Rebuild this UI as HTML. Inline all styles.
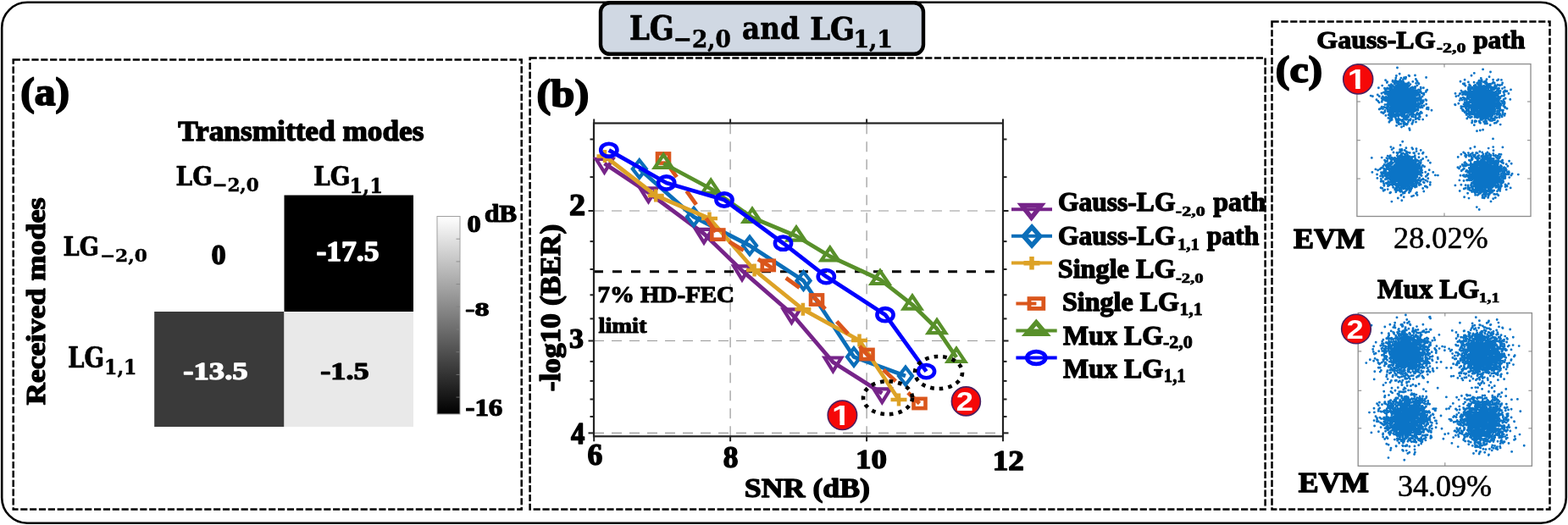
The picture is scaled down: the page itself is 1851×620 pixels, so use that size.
<!DOCTYPE html>
<html><head><meta charset="utf-8"><style>html,body{margin:0;padding:0;background:#fff;}svg{display:block;}</style></head>
<body><svg width="1851" height="620" viewBox="0 0 1851 620">
<rect width="1851" height="620" fill="#fff"/>
<rect x="2.2" y="2.8" width="1846.6" height="614.9" rx="30" ry="30" fill="none" stroke="#000" stroke-width="2.6"/>
<rect x="15.7" y="70.6" width="600" height="531" fill="none" stroke="#000" stroke-width="2.5" stroke-dasharray="8.2 2.65"/>
<rect x="625.6" y="68.6" width="868" height="533" fill="none" stroke="#000" stroke-width="2.5" stroke-dasharray="8.2 2.65"/>
<rect x="1501.5" y="25.6" width="328" height="576" fill="none" stroke="#000" stroke-width="2.5" stroke-dasharray="8.2 2.65"/>
<rect x="709" y="3.3" width="381" height="60.5" rx="11" ry="11" fill="#D0D8E3" stroke="#000" stroke-width="4.4"/>
<text transform="translate(742.97 47.24) scale(0.9558 1)" font-family='"DejaVu Serif", serif' font-weight="bold" font-stretch="condensed" font-size="39.47" fill="#000" stroke="#000" stroke-width="0.71" stroke-linejoin="round">LG</text>
<text transform="translate(794.87 55.63) scale(1.0174 1)" font-family='"DejaVu Serif", serif' font-weight="bold" font-stretch="condensed" font-size="28.78" fill="#000" stroke="#000" stroke-width="0.52" stroke-linejoin="round">−2,0</text>
<text transform="translate(875.97 46.27) scale(1.0268 1)" font-family='"DejaVu Serif", serif' font-weight="bold" font-stretch="condensed" font-size="35.46" fill="#000" stroke="#000" stroke-width="0.64" stroke-linejoin="round">and</text>
<text transform="translate(956.26 46.75) scale(1.0020 1)" font-family='"DejaVu Serif", serif' font-weight="bold" font-stretch="condensed" font-size="37.59" fill="#000" stroke="#000" stroke-width="0.68" stroke-linejoin="round">LG</text>
<text transform="translate(1007.50 55.54) scale(1.0440 1)" font-family='"DejaVu Serif", serif' font-weight="bold" font-stretch="condensed" font-size="28.40" fill="#000" stroke="#000" stroke-width="0.51" stroke-linejoin="round">1,1</text>
<text transform="translate(24.35 124.01) scale(1.0590 1)" font-family='"Liberation Serif", serif' font-weight="bold" font-size="46.80" fill="#000" stroke="#000" stroke-width="1.97" stroke-linejoin="round" >(a)</text>
<text transform="translate(210.15 166.25) scale(1.0504 1)" font-family='"Liberation Serif", serif' font-weight="bold" font-size="33.59" fill="#000" stroke="#000" stroke-width="1.41" stroke-linejoin="round">Transmitted modes</text>
<text transform="translate(207.48 218.70) scale(0.9677 1)" font-family='"DejaVu Serif", serif' font-weight="bold" font-stretch="condensed" font-size="32.11" fill="#000" stroke="#000" stroke-width="0.58" stroke-linejoin="round">LG</text>
<text transform="translate(250.43 226.47) scale(1.0572 1)" font-family='"DejaVu Serif", serif' font-weight="bold" font-stretch="condensed" font-size="22.59" fill="#000" stroke="#000" stroke-width="0.41" stroke-linejoin="round">−2,0</text>
<text transform="translate(370.08 219.41) scale(0.9826 1)" font-family='"DejaVu Serif", serif' font-weight="bold" font-stretch="condensed" font-size="31.71" fill="#000" stroke="#000" stroke-width="0.57" stroke-linejoin="round">LG</text>
<text transform="translate(412.55 227.78) scale(1.0345 1)" font-family='"DejaVu Serif", serif' font-weight="bold" font-stretch="condensed" font-size="24.32" fill="#000" stroke="#000" stroke-width="0.44" stroke-linejoin="round">1,1</text>
<text transform="translate(74.62 302.30) scale(0.9356 1)" font-family='"DejaVu Serif", serif' font-weight="bold" font-stretch="condensed" font-size="32.38" fill="#000" stroke="#000" stroke-width="0.58" stroke-linejoin="round">LG</text>
<text transform="translate(117.88 309.31) scale(1.1653 1)" font-family='"DejaVu Serif", serif' font-weight="bold" font-stretch="condensed" font-size="20.78" fill="#000" stroke="#000" stroke-width="0.37" stroke-linejoin="round">−2,0</text>
<text transform="translate(79.90 434.40) scale(0.9367 1)" font-family='"DejaVu Serif", serif' font-weight="bold" font-stretch="condensed" font-size="32.91" fill="#000" stroke="#000" stroke-width="0.59" stroke-linejoin="round">LG</text>
<text transform="translate(123.12 441.68) scale(1.0299 1)" font-family='"DejaVu Serif", serif' font-weight="bold" font-stretch="condensed" font-size="23.80" fill="#000" stroke="#000" stroke-width="0.43" stroke-linejoin="round">1,1</text>
<text transform="translate(52.99 478.31) rotate(-90) scale(1.1456 1)" font-family='"Liberation Serif", serif' font-weight="bold" font-size="31.41" fill="#000" stroke="#000" stroke-width="1.32" stroke-linejoin="round">Received modes</text>
<rect x="182.2" y="230.5" width="153.3" height="137.5" fill="#fff"/>
<rect x="335.5" y="230.5" width="152.5" height="137.5" fill="#000"/>
<rect x="182.2" y="368" width="153.3" height="136" fill="#3a3a3a"/>
<rect x="335.5" y="368" width="152.5" height="136" fill="#e9e9e9"/>
<text transform="translate(249.42 311.88) scale(0.9875 1)" font-family='"Liberation Serif", serif' font-weight="bold" font-size="34.74" fill="#000" stroke="#000" stroke-width="1.46" stroke-linejoin="round">0</text>
<text transform="translate(373.40 308.25) scale(1.0688 1)" font-family='"Liberation Serif", serif' font-weight="bold" font-size="33.33" fill="#fff" stroke="#fff" stroke-width="1.40" stroke-linejoin="round">-17.5</text>
<text transform="translate(216.28 448.33) scale(1.2319 1)" font-family='"Liberation Serif", serif' font-weight="bold" font-size="29.79" fill="#fff" stroke="#fff" stroke-width="1.25" stroke-linejoin="round">-13.5</text>
<text transform="translate(378.30 448.33) scale(1.2174 1)" font-family='"Liberation Serif", serif' font-weight="bold" font-size="29.79" fill="#000" stroke="#000" stroke-width="1.25" stroke-linejoin="round">-1.5</text>
<defs><linearGradient id="cb" x1="0" y1="0" x2="0" y2="1"><stop offset="0" stop-color="#fff"/><stop offset="1" stop-color="#000"/></linearGradient></defs>
<rect x="516" y="255.5" width="27" height="233.5" fill="url(#cb)" stroke="#a0a0a0" stroke-width="1"/>
<line x1="538.5" y1="282.2" x2="543" y2="282.2" stroke="#808080" stroke-width="0.8"/>
<line x1="538.5" y1="308.9" x2="543" y2="308.9" stroke="#808080" stroke-width="0.8"/>
<line x1="538.5" y1="335.6" x2="543" y2="335.6" stroke="#808080" stroke-width="0.8"/>
<line x1="538.5" y1="362.3" x2="543" y2="362.3" stroke="#808080" stroke-width="0.8"/>
<line x1="538.5" y1="389.0" x2="543" y2="389.0" stroke="#808080" stroke-width="0.8"/>
<line x1="538.5" y1="415.7" x2="543" y2="415.7" stroke="#808080" stroke-width="0.8"/>
<line x1="538.5" y1="442.4" x2="543" y2="442.4" stroke="#808080" stroke-width="0.8"/>
<line x1="538.5" y1="469.1" x2="543" y2="469.1" stroke="#808080" stroke-width="0.8"/>
<text transform="translate(551.39 273.54) scale(1.0854 1)" font-family='"Liberation Serif", serif' font-weight="bold" font-size="29.88" fill="#000" stroke="#000" stroke-width="1.25" stroke-linejoin="round">0</text>
<text transform="translate(571.94 262.26) scale(1.0790 1)" font-family='"Liberation Serif", serif' font-weight="bold" font-size="29.04" fill="#000" stroke="#000" stroke-width="1.22" stroke-linejoin="round">dB</text>
<text transform="translate(549.23 372.76) scale(1.4879 1)" font-family='"Liberation Serif", serif' font-weight="bold" font-size="22.93" fill="#000" stroke="#000" stroke-width="0.96" stroke-linejoin="round">-8</text>
<text transform="translate(549.40 491.35) scale(1.1397 1)" font-family='"Liberation Serif", serif' font-weight="bold" font-size="28.94" fill="#000" stroke="#000" stroke-width="1.22" stroke-linejoin="round">-16</text>
<line x1="862.1" y1="515.3" x2="862.1" y2="145.5" stroke="#979797" stroke-width="1.2" stroke-dasharray="12 9"/>
<line x1="1023.1" y1="515.3" x2="1023.1" y2="145.5" stroke="#979797" stroke-width="1.2" stroke-dasharray="12 9"/>
<line x1="701.0" y1="249.0" x2="1184.0" y2="249.0" stroke="#979797" stroke-width="1.2" stroke-dasharray="12 9"/>
<line x1="701.0" y1="402.5" x2="1184.0" y2="402.5" stroke="#979797" stroke-width="1.2" stroke-dasharray="12 9"/>
<line x1="701.0" y1="511.4" x2="1184.0" y2="511.4" stroke="#979797" stroke-width="1.2" stroke-dasharray="12 9"/>
<line x1="701.0" y1="320.7" x2="1184.0" y2="320.7" stroke="#000" stroke-width="3" stroke-dasharray="11 11"/>
<rect x="701.0" y="145.5" width="483.0" height="369.79999999999995" fill="none" stroke="#222" stroke-width="2.2"/>
<line x1="701.2" y1="515.3" x2="701.2" y2="521.3" stroke="#222" stroke-width="2"/>
<line x1="701.2" y1="145.5" x2="701.2" y2="140.5" stroke="#222" stroke-width="2"/>
<line x1="862.1" y1="515.3" x2="862.1" y2="521.3" stroke="#222" stroke-width="2"/>
<line x1="862.1" y1="145.5" x2="862.1" y2="140.5" stroke="#222" stroke-width="2"/>
<line x1="1023.1" y1="515.3" x2="1023.1" y2="521.3" stroke="#222" stroke-width="2"/>
<line x1="1023.1" y1="145.5" x2="1023.1" y2="140.5" stroke="#222" stroke-width="2"/>
<line x1="1184.0" y1="515.3" x2="1184.0" y2="521.3" stroke="#222" stroke-width="2"/>
<line x1="1184.0" y1="145.5" x2="1184.0" y2="140.5" stroke="#222" stroke-width="2"/>
<line x1="701.0" y1="164.5" x2="696.5" y2="164.5" stroke="#222" stroke-width="2"/>
<line x1="1184.0" y1="164.5" x2="1188.5" y2="164.5" stroke="#222" stroke-width="2"/>
<line x1="701.0" y1="209.1" x2="696.5" y2="209.1" stroke="#222" stroke-width="2"/>
<line x1="1184.0" y1="209.1" x2="1188.5" y2="209.1" stroke="#222" stroke-width="2"/>
<line x1="701.0" y1="249.0" x2="694.5" y2="249.0" stroke="#222" stroke-width="2"/>
<line x1="1184.0" y1="249.0" x2="1190.5" y2="249.0" stroke="#222" stroke-width="2"/>
<line x1="701.0" y1="285.1" x2="696.5" y2="285.1" stroke="#222" stroke-width="2"/>
<line x1="1184.0" y1="285.1" x2="1188.5" y2="285.1" stroke="#222" stroke-width="2"/>
<line x1="701.0" y1="318.0" x2="696.5" y2="318.0" stroke="#222" stroke-width="2"/>
<line x1="1184.0" y1="318.0" x2="1188.5" y2="318.0" stroke="#222" stroke-width="2"/>
<line x1="701.0" y1="348.3" x2="696.5" y2="348.3" stroke="#222" stroke-width="2"/>
<line x1="1184.0" y1="348.3" x2="1188.5" y2="348.3" stroke="#222" stroke-width="2"/>
<line x1="701.0" y1="376.4" x2="696.5" y2="376.4" stroke="#222" stroke-width="2"/>
<line x1="1184.0" y1="376.4" x2="1188.5" y2="376.4" stroke="#222" stroke-width="2"/>
<line x1="701.0" y1="402.5" x2="694.5" y2="402.5" stroke="#222" stroke-width="2"/>
<line x1="1184.0" y1="402.5" x2="1190.5" y2="402.5" stroke="#222" stroke-width="2"/>
<line x1="701.0" y1="426.9" x2="696.5" y2="426.9" stroke="#222" stroke-width="2"/>
<line x1="1184.0" y1="426.9" x2="1188.5" y2="426.9" stroke="#222" stroke-width="2"/>
<line x1="701.0" y1="449.9" x2="696.5" y2="449.9" stroke="#222" stroke-width="2"/>
<line x1="1184.0" y1="449.9" x2="1188.5" y2="449.9" stroke="#222" stroke-width="2"/>
<line x1="701.0" y1="471.5" x2="696.5" y2="471.5" stroke="#222" stroke-width="2"/>
<line x1="1184.0" y1="471.5" x2="1188.5" y2="471.5" stroke="#222" stroke-width="2"/>
<line x1="701.0" y1="492.0" x2="696.5" y2="492.0" stroke="#222" stroke-width="2"/>
<line x1="1184.0" y1="492.0" x2="1188.5" y2="492.0" stroke="#222" stroke-width="2"/>
<line x1="701.0" y1="511.4" x2="694.5" y2="511.4" stroke="#222" stroke-width="2"/>
<line x1="1184.0" y1="511.4" x2="1190.5" y2="511.4" stroke="#222" stroke-width="2"/>
<text transform="translate(633.59 126.25) scale(1.1019 1)" font-family='"Liberation Serif", serif' font-weight="bold" font-size="45.75" fill="#000" stroke="#000" stroke-width="1.92" stroke-linejoin="round" >(b)</text>
<text transform="translate(672.04 254.41) scale(1.0775 1)" font-family='"Liberation Serif", serif' font-weight="bold" font-size="35.36" fill="#000" stroke="#000" stroke-width="1.49" stroke-linejoin="round">2</text>
<text transform="translate(672.05 411.49) scale(0.9817 1)" font-family='"Liberation Serif", serif' font-weight="bold" font-size="34.60" fill="#000" stroke="#000" stroke-width="1.45" stroke-linejoin="round">3</text>
<text transform="translate(674.09 524.41) scale(0.9264 1)" font-family='"Liberation Serif", serif' font-weight="bold" font-size="35.13" fill="#000" stroke="#000" stroke-width="1.48" stroke-linejoin="round">4</text>
<text transform="translate(693.52 548.88) scale(1.0202 1)" font-family='"Liberation Serif", serif' font-weight="bold" font-size="34.88" fill="#000" stroke="#000" stroke-width="1.47" stroke-linejoin="round">6</text>
<text transform="translate(853.76 552.38) scale(1.0139 1)" font-family='"Liberation Serif", serif' font-weight="bold" font-size="34.88" fill="#000" stroke="#000" stroke-width="1.46" stroke-linejoin="round">8</text>
<text transform="translate(1010.11 552.97) scale(1.1551 1)" font-family='"Liberation Serif", serif' font-weight="bold" font-size="31.96" fill="#000" stroke="#000" stroke-width="1.34" stroke-linejoin="round">10</text>
<text transform="translate(1171.73 555.04) scale(1.1006 1)" font-family='"Liberation Serif", serif' font-weight="bold" font-size="33.76" fill="#000" stroke="#000" stroke-width="1.42" stroke-linejoin="round">12</text>
<text transform="translate(878.84 587.31) scale(1.1649 1)" font-family='"Liberation Serif", serif' font-weight="bold" font-size="30.73" fill="#000" stroke="#000" stroke-width="1.29" stroke-linejoin="round">SNR (dB)</text>
<text transform="translate(661.40 462.36) rotate(-90) scale(1.0607 1)" font-family='"Liberation Serif", serif' font-weight="bold" font-size="33.38" fill="#000" stroke="#000" stroke-width="1.40" stroke-linejoin="round">-log10 (BER)</text>
<text transform="translate(705.42 356.98) scale(1.0500 1)" font-family='"Liberation Serif", serif' font-weight="bold" font-size="27.58" fill="#000" stroke="#000" stroke-width="1.16" stroke-linejoin="round">7% HD-FEC</text>
<text transform="translate(706.49 393.22) scale(1.0964 1)" font-family='"Liberation Serif", serif' font-weight="bold" font-size="26.00" fill="#000" stroke="#000" stroke-width="1.09" stroke-linejoin="round">limit</text>
<path d="M713.5 193.0 L765.5 227.5 L831.0 276.0 L876.0 319.6 L934.5 370.5 L983.4 427.7 L1041.3 464.5" fill="none" stroke="#762489" stroke-width="4.8" stroke-linejoin="round"/>
<path d="M703.7 187.8H723.3L713.5 203.6Z" fill="none" stroke="#762489" stroke-width="4.2"/>
<path d="M755.7 222.3H775.3L765.5 238.1Z" fill="none" stroke="#762489" stroke-width="4.2"/>
<path d="M821.2 270.8H840.8L831.0 286.6Z" fill="none" stroke="#762489" stroke-width="4.2"/>
<path d="M866.2 314.4H885.8L876.0 330.2Z" fill="none" stroke="#762489" stroke-width="4.2"/>
<path d="M924.7 365.3H944.3L934.5 381.1Z" fill="none" stroke="#762489" stroke-width="4.2"/>
<path d="M973.6 422.5H993.2L983.4 438.3Z" fill="none" stroke="#762489" stroke-width="4.2"/>
<path d="M1031.5 459.3H1051.1L1041.3 475.1Z" fill="none" stroke="#762489" stroke-width="4.2"/>
<path d="M754.8 199.5 L819.0 256.1 L885.0 290.0 L948.5 331.5 L1008.0 421.5 L1069.0 444.0" fill="none" stroke="#0B6EB9" stroke-width="4.8" stroke-linejoin="round"/>
<path d="M754.8 189.2L762.8 199.5L754.8 209.8L746.8 199.5Z" fill="none" stroke="#0B6EB9" stroke-width="4.2"/>
<path d="M819.0 245.8L827.0 256.1L819.0 266.4L811.0 256.1Z" fill="none" stroke="#0B6EB9" stroke-width="4.2"/>
<path d="M885.0 279.7L893.0 290.0L885.0 300.3L877.0 290.0Z" fill="none" stroke="#0B6EB9" stroke-width="4.2"/>
<path d="M948.5 321.2L956.5 331.5L948.5 341.8L940.5 331.5Z" fill="none" stroke="#0B6EB9" stroke-width="4.2"/>
<path d="M1008.0 411.2L1016.0 421.5L1008.0 431.8L1000.0 421.5Z" fill="none" stroke="#0B6EB9" stroke-width="4.2"/>
<path d="M1069.0 433.7L1077.0 444.0L1069.0 454.3L1061.0 444.0Z" fill="none" stroke="#0B6EB9" stroke-width="4.2"/>
<path d="M714.0 184.5 L774.2 231.0 L837.5 258.0 L890.6 319.0 L947.9 365.3 L1014.5 402.0 L1061.0 472.0" fill="none" stroke="#DDA226" stroke-width="4.8" stroke-linejoin="round"/>
<path d="M704.5 184.5H723.5M714.0 177.0V192.0" fill="none" stroke="#DDA226" stroke-width="4.5"/>
<path d="M764.7 231.0H783.7M774.2 223.5V238.5" fill="none" stroke="#DDA226" stroke-width="4.5"/>
<path d="M828.0 258.0H847.0M837.5 250.5V265.5" fill="none" stroke="#DDA226" stroke-width="4.5"/>
<path d="M881.1 319.0H900.1M890.6 311.5V326.5" fill="none" stroke="#DDA226" stroke-width="4.5"/>
<path d="M938.4 365.3H957.4M947.9 357.8V372.8" fill="none" stroke="#DDA226" stroke-width="4.5"/>
<path d="M1005.0 402.0H1024.0M1014.5 394.5V409.5" fill="none" stroke="#DDA226" stroke-width="4.5"/>
<path d="M1051.5 472.0H1070.5M1061.0 464.5V479.5" fill="none" stroke="#DDA226" stroke-width="4.5"/>
<path d="M783.0 187.0 L847.3 277.1 L906.8 313.4 L964.0 354.0 L1023.5 418.5 L1085.5 476.5" fill="none" stroke="#DA561C" stroke-width="4.8" stroke-linejoin="round" stroke-dasharray="19.7 20" stroke-dashoffset="32.1"/>
<rect x="776.0" y="181.4" width="14.0" height="11.2" fill="none" stroke="#DA561C" stroke-width="4.6"/>
<rect x="840.3" y="271.5" width="14.0" height="11.2" fill="none" stroke="#DA561C" stroke-width="4.6"/>
<rect x="899.8" y="307.8" width="14.0" height="11.2" fill="none" stroke="#DA561C" stroke-width="4.6"/>
<rect x="957.0" y="348.4" width="14.0" height="11.2" fill="none" stroke="#DA561C" stroke-width="4.6"/>
<rect x="1016.5" y="412.9" width="14.0" height="11.2" fill="none" stroke="#DA561C" stroke-width="4.6"/>
<rect x="1078.5" y="470.9" width="14.0" height="11.2" fill="none" stroke="#DA561C" stroke-width="4.6"/>
<path d="M783.2 193.0 L839.2 223.0 L888.0 257.0 L940.0 278.8 L979.8 302.7 L1039.0 330.2 L1077.0 359.8 L1106.0 388.3 L1129.0 422.0" fill="none" stroke="#58902A" stroke-width="4.8" stroke-linejoin="round"/>
<path d="M773.0 197.8H793.4L783.2 182.8Z" fill="none" stroke="#58902A" stroke-width="4.2"/>
<path d="M829.0 227.8H849.4L839.2 212.8Z" fill="none" stroke="#58902A" stroke-width="4.2"/>
<path d="M877.8 261.8H898.2L888.0 246.8Z" fill="none" stroke="#58902A" stroke-width="4.2"/>
<path d="M929.8 283.6H950.2L940.0 268.6Z" fill="none" stroke="#58902A" stroke-width="4.2"/>
<path d="M969.6 307.5H990.0L979.8 292.5Z" fill="none" stroke="#58902A" stroke-width="4.2"/>
<path d="M1028.8 335.0H1049.2L1039.0 320.0Z" fill="none" stroke="#58902A" stroke-width="4.2"/>
<path d="M1066.8 364.6H1087.2L1077.0 349.6Z" fill="none" stroke="#58902A" stroke-width="4.2"/>
<path d="M1095.8 393.1H1116.2L1106.0 378.1Z" fill="none" stroke="#58902A" stroke-width="4.2"/>
<path d="M1118.8 426.8H1139.2L1129.0 411.8Z" fill="none" stroke="#58902A" stroke-width="4.2"/>
<path d="M718.8 177.3 L786.7 216.0 L855.0 236.0 L924.5 287.2 L975.3 326.6 L1045.0 371.7 L1093.5 438.6" fill="none" stroke="#0000FF" stroke-width="4.8" stroke-linejoin="round"/>
<ellipse cx="718.8" cy="177.3" rx="9.6" ry="7.6" fill="none" stroke="#0000FF" stroke-width="4.6"/>
<ellipse cx="786.7" cy="216.0" rx="9.6" ry="7.6" fill="none" stroke="#0000FF" stroke-width="4.6"/>
<ellipse cx="855.0" cy="236.0" rx="9.6" ry="7.6" fill="none" stroke="#0000FF" stroke-width="4.6"/>
<ellipse cx="924.5" cy="287.2" rx="9.6" ry="7.6" fill="none" stroke="#0000FF" stroke-width="4.6"/>
<ellipse cx="975.3" cy="326.6" rx="9.6" ry="7.6" fill="none" stroke="#0000FF" stroke-width="4.6"/>
<ellipse cx="1045.0" cy="371.7" rx="9.6" ry="7.6" fill="none" stroke="#0000FF" stroke-width="4.6"/>
<ellipse cx="1093.5" cy="438.6" rx="9.6" ry="7.6" fill="none" stroke="#0000FF" stroke-width="4.6"/>
<ellipse cx="1048" cy="469.7" rx="29" ry="19.5" fill="none" stroke="#000" stroke-width="4.6" stroke-dasharray="4.6 6"/>
<ellipse cx="1108" cy="440" rx="28" ry="19" fill="none" stroke="#000" stroke-width="4.6" stroke-dasharray="4.6 6"/>
<circle cx="994.4" cy="490.3" r="17.2" fill="#F50808" stroke="#4a2060" stroke-width="1.6"/><clipPath id="b1c1" clipPathUnits="userSpaceOnUse"><rect x="-60" y="-80" width="120" height="76.32"/><rect x="7.73" y="-4.38" width="4.55" height="8.38"/></clipPath><text transform="translate(982.06 501.50) scale(1.2080 1)" font-family='"Liberation Sans", sans-serif' font-weight="bold" font-size="33.14" fill="#fff" clip-path="url(#b1c1)">1</text>
<circle cx="1140.4" cy="473.9" r="17" fill="#F50808" stroke="#4a2060" stroke-width="1.6"/><text transform="translate(1128.84 485.20) scale(1.1484 1)" font-family='"Liberation Sans", sans-serif' font-weight="bold" font-size="31.65" fill="#fff">2</text>
<line x1="1194" y1="247.2" x2="1242" y2="247.2" stroke="#762489" stroke-width="4"/>
<path d="M1206.1 242.4H1229.1L1217.6 257.1Z" fill="none" stroke="#762489" stroke-width="5.5"/>
<line x1="1194" y1="278.8" x2="1242" y2="278.8" stroke="#0B6EB9" stroke-width="4"/>
<path d="M1218.1 268.2L1227.7 279.0L1218.1 289.8L1208.5 279.0Z" fill="none" stroke="#0B6EB9" stroke-width="5.5"/>
<line x1="1194" y1="310.5" x2="1242" y2="310.5" stroke="#DDA226" stroke-width="4"/>
<path d="M1208.5 310.8H1227.5M1218.0 303.0V318.6" fill="none" stroke="#DDA226" stroke-width="5.5"/>
<line x1="1199.4" y1="358.5" x2="1223.4" y2="358.5" stroke="#DA561C" stroke-width="4"/>
<rect x="1215.0" y="352.6" width="16.8" height="11.8" fill="none" stroke="#DA561C" stroke-width="4.8"/>
<line x1="1199.4" y1="390.4" x2="1247.7" y2="390.4" stroke="#58902A" stroke-width="4"/>
<path d="M1211.8 394.2H1234.8L1223.3 380.8Z" fill="none" stroke="#58902A" stroke-width="5.5"/>
<line x1="1199.4" y1="422.4" x2="1247.7" y2="422.4" stroke="#0000FF" stroke-width="4"/>
<ellipse cx="1223.3" cy="422.5" rx="10.9" ry="7.3" fill="none" stroke="#0000FF" stroke-width="4.8"/>
<text transform="translate(1248.91 249.00) scale(1.0187 1)" font-family='"Liberation Serif", serif' font-weight="bold" font-size="30.99" fill="#000" stroke="#000" stroke-width="1.30" stroke-linejoin="round">Gauss-LG</text>
<text transform="translate(1387.86 255.24) scale(1.2557 1)" font-family='"Liberation Serif", serif' font-weight="bold" font-size="17.51" fill="#000" stroke="#000" stroke-width="0.74" stroke-linejoin="round">-2,0</text>
<text transform="translate(1432.14 249.00) scale(1.0315 1)" font-family='"Liberation Serif", serif' font-weight="bold" font-size="30.99" fill="#000" stroke="#000" stroke-width="1.30" stroke-linejoin="round">path</text>
<text transform="translate(1248.91 288.70) scale(1.0187 1)" font-family='"Liberation Serif", serif' font-weight="bold" font-size="30.99" fill="#000" stroke="#000" stroke-width="1.30" stroke-linejoin="round">Gauss-LG</text>
<text transform="translate(1389.91 294.68) scale(1.1272 1)" font-family='"Liberation Serif", serif' font-weight="bold" font-size="18.58" fill="#000" stroke="#000" stroke-width="0.78" stroke-linejoin="round">1,1</text>
<text transform="translate(1424.75 288.70) scale(1.0197 1)" font-family='"Liberation Serif", serif' font-weight="bold" font-size="30.99" fill="#000" stroke="#000" stroke-width="1.30" stroke-linejoin="round">path</text>
<text transform="translate(1248.74 328.40) scale(1.0399 1)" font-family='"Liberation Serif", serif' font-weight="bold" font-size="30.99" fill="#000" stroke="#000" stroke-width="1.30" stroke-linejoin="round">Single LG</text>
<text transform="translate(1387.91 333.64) scale(1.1800 1)" font-family='"Liberation Serif", serif' font-weight="bold" font-size="17.51" fill="#000" stroke="#000" stroke-width="0.74" stroke-linejoin="round">-2,0</text>
<text transform="translate(1253.94 367.30) scale(1.0345 1)" font-family='"Liberation Serif", serif' font-weight="bold" font-size="30.99" fill="#000" stroke="#000" stroke-width="1.30" stroke-linejoin="round">Single LG</text>
<text transform="translate(1392.50 371.53) scale(1.0433 1)" font-family='"Liberation Serif", serif' font-weight="bold" font-size="20.85" fill="#000" stroke="#000" stroke-width="0.88" stroke-linejoin="round">1,1</text>
<text transform="translate(1255.10 406.50) scale(1.0306 1)" font-family='"Liberation Serif", serif' font-weight="bold" font-size="30.99" fill="#000" stroke="#000" stroke-width="1.30" stroke-linejoin="round">Mux LG</text>
<text transform="translate(1372.92 411.14) scale(1.0746 1)" font-family='"Liberation Serif", serif' font-weight="bold" font-size="20.57" fill="#000" stroke="#000" stroke-width="0.86" stroke-linejoin="round">-2,0</text>
<text transform="translate(1255.10 446.00) scale(1.0306 1)" font-family='"Liberation Serif", serif' font-weight="bold" font-size="30.99" fill="#000" stroke="#000" stroke-width="1.30" stroke-linejoin="round">Mux LG</text>
<text transform="translate(1373.82 451.10) scale(0.9263 1)" font-family='"Liberation Serif", serif' font-weight="bold" font-size="22.27" fill="#000" stroke="#000" stroke-width="0.94" stroke-linejoin="round">1,1</text>
<text transform="translate(1505.80 97.38) scale(1.1036 1)" font-family='"Liberation Serif", serif' font-weight="bold" font-size="45.23" fill="#000" stroke="#000" stroke-width="1.90" stroke-linejoin="round" >(c)</text>
<text transform="translate(1554.37 57.10) scale(1.0670 1)" font-family='"Liberation Serif", serif' font-weight="bold" font-size="29.92" fill="#000" stroke="#000" stroke-width="1.26" stroke-linejoin="round">Gauss-LG</text>
<text transform="translate(1695.66 61.85) scale(1.2765 1)" font-family='"Liberation Serif", serif' font-weight="bold" font-size="17.23" fill="#000" stroke="#000" stroke-width="0.72" stroke-linejoin="round">-2,0</text>
<text transform="translate(1739.13 57.10) scale(1.0499 1)" font-family='"Liberation Serif", serif' font-weight="bold" font-size="29.92" fill="#000" stroke="#000" stroke-width="1.26" stroke-linejoin="round">path</text>
<text transform="translate(1626.12 351.50) scale(1.0147 1)" font-family='"Liberation Serif", serif' font-weight="bold" font-size="32.06" fill="#000" stroke="#000" stroke-width="1.35" stroke-linejoin="round">Mux LG</text>
<text transform="translate(1745.77 356.64) scale(1.2291 1)" font-family='"Liberation Serif", serif' font-weight="bold" font-size="15.89" fill="#000" stroke="#000" stroke-width="0.67" stroke-linejoin="round">1,1</text>
<text transform="translate(1526.91 292.93) scale(1.0454 1)" font-family='"Liberation Serif", serif' font-weight="bold" font-size="34.45" fill="#000" stroke="#000" stroke-width="1.45" stroke-linejoin="round">EVM</text>
<text transform="translate(1645.07 293.43) scale(1.0184 1)" font-family='"Liberation Serif", serif' font-weight="normal" font-size="35.57" fill="#000" stroke="#000" stroke-width="0.53" stroke-linejoin="round">28.02%</text>
<text transform="translate(1532.71 581.43) scale(1.0365 1)" font-family='"Liberation Serif", serif' font-weight="bold" font-size="34.45" fill="#000" stroke="#000" stroke-width="1.45" stroke-linejoin="round">EVM</text>
<text transform="translate(1650.05 586.32) scale(0.9779 1)" font-family='"Liberation Serif", serif' font-weight="normal" font-size="36.82" fill="#000" stroke="#000" stroke-width="0.55" stroke-linejoin="round">34.09%</text>
<rect x="1601.9" y="75.6" width="205.0999999999999" height="179.9" fill="#fff" stroke="#8c8c8c" stroke-width="1.3"/>
<line x1="1705" y1="75.6" x2="1705" y2="79.6" stroke="#8c8c8c" stroke-width="1.1"/><line x1="1705" y1="255.5" x2="1705" y2="251.5" stroke="#8c8c8c" stroke-width="1.1"/>
<line x1="1601.9" y1="120" x2="1605.9" y2="120" stroke="#8c8c8c" stroke-width="1.1"/><line x1="1807" y1="120" x2="1803" y2="120" stroke="#8c8c8c" stroke-width="1.1"/>
<line x1="1601.9" y1="165.7" x2="1605.9" y2="165.7" stroke="#8c8c8c" stroke-width="1.1"/><line x1="1807" y1="165.7" x2="1803" y2="165.7" stroke="#8c8c8c" stroke-width="1.1"/>
<line x1="1601.9" y1="211" x2="1605.9" y2="211" stroke="#8c8c8c" stroke-width="1.1"/><line x1="1807" y1="211" x2="1803" y2="211" stroke="#8c8c8c" stroke-width="1.1"/>
<path d="M1655.5 122.7h0M1652.5 109.9h0M1650.6 108.8h0M1656.1 134.0h0M1650.2 112.8h0M1660.8 123.4h0M1656.6 109.5h0M1655.2 127.0h0M1641.0 114.6h0M1635.0 105.6h0M1635.6 117.0h0M1641.8 122.4h0M1657.2 117.5h0M1628.3 113.7h0M1655.0 120.7h0M1639.0 114.3h0M1644.9 110.8h0M1667.0 110.8h0M1655.1 129.1h0M1649.2 118.3h0M1656.7 120.2h0M1642.3 120.3h0M1670.2 102.8h0M1664.8 120.8h0M1648.6 141.1h0M1663.7 106.5h0M1656.3 125.7h0M1653.5 126.9h0M1654.8 126.7h0M1671.0 112.2h0M1657.7 114.5h0M1656.9 106.7h0M1649.2 117.4h0M1665.2 131.9h0M1641.2 110.9h0M1662.5 98.0h0M1650.5 118.4h0M1669.1 126.9h0M1652.0 115.5h0M1652.8 136.0h0M1650.9 116.2h0M1659.3 118.2h0M1653.4 107.5h0M1655.4 114.7h0M1668.1 126.6h0M1655.2 126.7h0M1651.8 130.9h0M1655.4 125.8h0M1641.6 123.2h0M1637.3 97.5h0M1652.2 109.8h0M1657.3 143.7h0M1646.5 112.8h0M1657.7 124.8h0M1653.6 117.3h0M1663.1 125.1h0M1644.3 118.6h0M1655.9 108.1h0M1658.3 110.2h0M1666.0 121.6h0M1656.5 113.1h0M1654.2 97.9h0M1643.3 123.4h0M1632.5 128.6h0M1636.6 127.7h0M1646.4 127.9h0M1656.9 102.9h0M1669.0 135.1h0M1654.8 116.5h0M1653.8 109.0h0M1667.4 113.6h0M1654.9 110.9h0M1648.7 105.7h0M1669.1 117.8h0M1665.9 119.6h0M1648.0 116.0h0M1649.4 119.6h0M1651.4 116.3h0M1640.6 110.8h0M1673.4 112.3h0M1644.1 123.1h0M1670.7 103.8h0M1653.2 112.7h0M1636.5 127.4h0M1655.2 120.3h0M1647.4 124.4h0M1649.7 118.0h0M1643.5 106.4h0M1669.9 114.0h0M1658.7 119.1h0M1650.7 114.0h0M1662.3 116.2h0M1653.9 119.7h0M1668.2 126.8h0M1659.6 113.4h0M1640.6 129.8h0M1665.9 118.0h0M1661.4 127.9h0M1664.5 129.5h0M1650.6 135.9h0M1642.0 128.8h0M1660.8 128.9h0M1675.8 135.5h0M1643.1 101.3h0M1664.3 108.5h0M1655.4 128.6h0M1637.7 96.7h0M1658.3 120.0h0M1652.8 119.9h0M1646.2 103.2h0M1653.7 109.0h0M1637.8 125.0h0M1654.8 123.9h0M1644.8 112.4h0M1644.7 109.9h0M1657.6 111.0h0M1659.3 123.2h0M1677.4 104.5h0M1665.1 118.5h0M1655.3 103.8h0M1650.5 127.5h0M1654.6 120.4h0M1652.4 132.0h0M1655.3 95.7h0M1648.0 98.2h0M1620.4 113.8h0M1669.9 120.0h0M1642.8 109.3h0M1667.7 121.2h0M1656.0 118.9h0M1655.9 128.2h0M1661.5 121.8h0M1644.2 125.0h0M1648.1 131.3h0M1641.8 118.0h0M1655.4 105.2h0M1674.1 135.3h0M1650.5 127.8h0M1659.6 91.3h0M1658.2 118.8h0M1656.4 107.9h0M1652.6 117.6h0M1668.3 123.1h0M1655.4 136.0h0M1649.5 115.3h0M1635.9 136.4h0M1665.9 129.4h0M1662.7 120.7h0M1657.8 116.8h0M1653.3 120.1h0M1671.8 125.5h0M1654.9 113.2h0M1648.6 136.8h0M1661.0 120.2h0M1651.8 107.5h0M1654.8 128.9h0M1651.3 117.0h0M1653.1 120.7h0M1638.3 117.0h0M1646.3 129.1h0M1647.2 125.7h0M1672.0 116.1h0M1649.0 121.6h0M1655.5 108.8h0M1660.5 141.3h0M1652.7 117.3h0M1644.2 122.9h0M1642.0 107.5h0M1669.3 109.7h0M1667.2 136.0h0M1658.3 125.5h0M1676.6 117.4h0M1649.1 104.9h0M1656.0 135.5h0M1665.9 109.3h0M1646.3 114.1h0M1658.7 117.3h0M1657.8 122.7h0M1652.3 119.1h0M1657.7 118.6h0M1660.9 139.7h0M1661.9 120.1h0M1637.3 123.7h0M1634.5 104.3h0M1664.7 127.1h0M1653.9 101.0h0M1651.5 112.2h0M1662.4 143.9h0M1657.8 111.1h0M1642.9 118.9h0M1653.6 107.1h0M1656.8 107.1h0M1667.5 131.0h0M1667.2 114.4h0M1661.1 118.1h0M1651.3 115.8h0M1641.5 103.9h0M1664.1 117.4h0M1657.8 130.3h0M1636.8 111.0h0M1657.4 123.7h0M1651.4 130.6h0M1657.8 106.4h0M1645.4 128.2h0M1660.5 99.0h0M1670.1 126.0h0M1670.0 115.4h0M1652.3 107.3h0M1682.9 117.6h0M1672.6 112.5h0M1657.3 101.4h0M1651.4 130.1h0M1642.0 131.1h0M1659.1 108.2h0M1650.1 114.5h0M1655.0 113.7h0M1646.6 116.2h0M1644.4 105.6h0M1655.0 129.0h0M1639.0 119.5h0M1648.5 108.9h0M1664.7 113.9h0M1671.7 111.1h0M1659.7 117.0h0M1647.4 125.8h0M1653.8 126.0h0M1655.0 107.8h0M1654.4 120.1h0M1665.9 109.7h0M1655.1 100.9h0M1662.5 107.8h0M1636.0 118.9h0M1667.4 103.0h0M1643.7 111.5h0M1643.3 123.6h0M1646.8 111.7h0M1661.8 111.3h0M1660.2 109.0h0M1642.4 99.7h0M1675.6 116.0h0M1658.1 119.2h0M1657.2 120.0h0M1676.1 108.3h0M1638.7 108.6h0M1641.1 127.6h0M1664.4 109.1h0M1640.5 115.7h0M1670.5 89.0h0M1661.2 107.9h0M1666.7 107.9h0M1652.4 103.2h0M1644.9 134.5h0M1664.4 115.2h0M1646.1 99.0h0M1651.2 119.2h0M1654.6 118.5h0M1643.4 118.8h0M1655.1 133.4h0M1675.7 118.0h0M1647.2 118.8h0M1648.9 111.5h0M1654.9 108.2h0M1662.0 118.4h0M1658.2 117.5h0M1647.6 109.3h0M1652.9 113.6h0M1658.0 119.5h0M1640.8 120.2h0M1641.0 112.8h0M1652.3 97.1h0M1656.5 121.1h0M1653.8 114.9h0M1651.5 109.0h0M1652.6 113.5h0M1656.5 106.5h0M1658.0 121.0h0M1654.0 114.8h0M1661.5 101.5h0M1660.5 122.1h0M1658.6 123.6h0M1648.4 116.7h0M1662.4 124.2h0M1657.7 103.1h0M1661.3 132.1h0M1666.4 122.0h0M1638.7 129.7h0M1653.9 92.1h0M1659.6 103.4h0M1641.5 112.6h0M1669.2 115.5h0M1658.4 138.4h0M1672.7 118.4h0M1652.9 105.9h0M1648.0 124.1h0M1659.8 120.7h0M1666.2 111.2h0M1654.9 127.4h0M1661.8 131.1h0M1659.8 116.2h0M1659.4 108.7h0M1637.8 125.8h0M1654.9 122.8h0M1637.2 115.6h0M1649.0 110.2h0M1631.1 115.9h0M1665.2 123.6h0M1649.0 119.3h0M1663.7 89.7h0M1654.2 125.4h0M1662.9 137.9h0M1667.8 122.9h0M1658.8 128.0h0M1649.7 119.1h0M1665.3 140.6h0M1653.8 119.0h0M1657.6 134.0h0M1655.2 135.4h0M1645.1 117.5h0M1653.4 128.0h0M1666.8 103.2h0M1645.6 123.1h0M1648.4 103.1h0M1666.7 124.8h0M1660.8 114.4h0M1666.6 116.9h0M1667.3 109.7h0M1646.3 121.7h0M1647.9 126.8h0M1658.3 109.5h0M1656.3 115.7h0M1665.4 112.7h0M1650.8 132.6h0M1679.7 141.1h0M1656.2 121.9h0M1672.1 118.2h0M1645.0 120.8h0M1660.4 110.5h0M1637.7 104.0h0M1662.7 111.3h0M1654.0 121.8h0M1662.2 115.9h0M1660.9 109.9h0M1651.6 108.4h0M1667.7 119.2h0M1647.5 115.7h0M1653.1 127.1h0M1638.3 108.3h0M1651.4 146.8h0M1665.8 118.3h0M1663.2 141.7h0M1653.0 115.5h0M1668.6 124.8h0M1662.8 114.0h0M1676.3 138.0h0M1661.6 126.9h0M1633.6 126.4h0M1653.4 124.2h0M1662.9 115.8h0M1637.2 123.5h0M1647.5 115.9h0M1649.0 115.8h0M1630.6 132.6h0M1658.2 131.5h0M1676.9 119.7h0M1636.0 109.8h0M1642.5 114.1h0M1656.4 97.9h0M1659.2 103.2h0M1658.7 118.3h0M1652.1 118.7h0M1649.7 112.9h0M1637.3 119.2h0M1675.4 140.9h0M1669.8 127.1h0M1648.2 135.1h0M1654.9 118.8h0M1652.4 120.5h0M1650.8 118.6h0M1643.8 115.5h0M1680.1 118.7h0M1652.9 125.2h0M1663.1 107.5h0M1653.3 129.4h0M1658.4 120.8h0M1672.3 112.2h0M1656.4 113.9h0M1671.6 98.4h0M1648.3 113.8h0M1662.7 126.0h0M1670.6 102.5h0M1663.6 116.3h0M1648.3 125.3h0M1645.6 97.1h0M1651.5 103.3h0M1648.5 123.5h0M1658.9 136.6h0M1653.3 102.9h0M1647.3 109.6h0M1642.3 124.2h0M1648.5 98.1h0M1663.0 118.3h0M1659.4 120.6h0M1662.3 119.9h0M1668.9 124.1h0M1659.7 123.9h0M1639.8 117.7h0M1652.7 121.7h0M1640.8 137.1h0M1656.6 106.4h0M1637.0 116.5h0M1654.5 111.7h0M1656.5 112.6h0M1661.5 111.7h0M1655.1 130.1h0M1683.3 108.6h0M1650.5 110.4h0M1664.0 107.1h0M1650.3 119.2h0M1644.9 109.2h0M1650.4 96.8h0M1639.9 115.0h0M1657.1 117.5h0M1636.3 114.5h0M1664.1 125.5h0M1654.6 109.9h0M1662.3 113.2h0M1642.9 110.8h0M1671.1 121.9h0M1668.0 114.3h0M1665.6 113.0h0M1653.8 146.4h0M1663.8 114.1h0M1654.6 123.0h0M1668.6 114.2h0M1636.7 116.5h0M1655.7 120.7h0M1669.7 122.9h0M1664.3 107.6h0M1664.9 142.1h0M1663.8 122.2h0M1657.2 138.8h0M1645.5 118.3h0M1660.5 127.5h0M1650.8 122.8h0M1652.5 120.8h0M1654.1 107.2h0M1655.3 129.0h0M1645.1 116.9h0M1662.7 107.9h0M1657.5 108.1h0M1667.8 144.5h0M1677.3 117.1h0M1663.5 120.8h0M1656.6 136.2h0M1641.3 130.9h0M1655.0 134.7h0M1657.5 112.2h0M1658.5 127.4h0M1655.9 124.8h0M1649.9 96.5h0M1665.2 127.1h0M1657.1 120.2h0M1666.7 114.6h0M1647.9 117.5h0M1668.3 104.5h0M1668.4 112.6h0M1643.6 133.1h0M1654.5 105.5h0M1651.6 129.6h0M1668.4 114.9h0M1659.9 127.2h0M1648.5 123.3h0M1655.2 113.7h0M1650.2 120.2h0M1655.8 113.4h0M1650.9 131.5h0M1657.8 129.1h0M1668.5 125.9h0M1680.0 110.6h0M1664.2 116.1h0M1675.5 137.9h0M1634.4 109.0h0M1662.7 128.0h0M1663.5 118.7h0M1660.4 126.6h0M1654.7 130.6h0M1631.1 126.3h0M1644.3 129.9h0M1653.0 109.9h0M1659.5 109.7h0M1645.6 102.6h0M1655.2 124.9h0M1666.5 118.0h0M1666.8 119.7h0M1654.5 125.7h0M1666.9 115.8h0M1652.9 117.8h0M1656.4 109.8h0M1666.6 115.2h0M1660.5 110.6h0M1659.4 123.7h0M1651.0 141.3h0M1659.5 138.7h0M1665.9 112.3h0M1651.4 124.2h0M1656.2 120.0h0M1652.4 100.0h0M1653.1 95.5h0M1659.5 111.7h0M1647.8 117.1h0M1658.4 104.0h0M1636.6 108.0h0M1633.4 109.1h0M1672.7 108.1h0M1662.5 104.7h0M1658.7 116.0h0M1654.9 125.6h0M1674.5 121.6h0M1656.8 109.0h0M1661.8 116.8h0M1664.5 119.0h0M1674.3 98.1h0M1652.3 129.0h0M1651.7 110.9h0M1652.6 104.6h0M1656.8 145.9h0M1667.9 107.5h0M1646.1 115.1h0M1666.3 110.6h0M1648.0 129.1h0M1664.8 115.5h0M1643.4 102.8h0M1648.0 95.4h0M1663.6 112.7h0M1660.7 139.7h0M1668.2 107.1h0M1664.9 132.0h0M1647.4 109.2h0M1654.3 102.2h0M1671.4 93.5h0M1643.5 116.6h0M1653.0 121.3h0M1658.4 117.2h0M1667.8 96.4h0M1655.5 111.8h0M1656.9 121.9h0M1645.7 112.6h0M1664.1 123.3h0M1648.2 141.5h0M1680.4 103.7h0M1658.8 146.6h0M1664.0 121.9h0M1653.3 113.7h0M1653.2 113.6h0M1663.5 115.2h0M1650.7 106.5h0M1655.0 109.8h0M1653.5 130.8h0M1659.5 125.0h0M1659.3 120.1h0M1654.1 116.2h0M1663.7 107.8h0M1670.0 119.9h0M1647.4 114.2h0M1648.2 121.2h0M1647.7 131.8h0M1647.1 95.0h0M1647.6 97.8h0M1655.1 130.9h0M1662.5 105.1h0M1647.3 138.7h0M1658.9 119.5h0M1666.9 146.0h0M1669.5 121.0h0M1659.3 126.2h0M1648.9 108.1h0M1656.1 109.3h0M1654.8 120.5h0M1680.8 110.3h0M1654.2 117.7h0M1660.2 130.8h0M1650.2 110.6h0M1637.8 109.5h0M1661.3 120.0h0M1644.5 115.5h0M1655.8 124.9h0M1649.1 116.8h0M1635.9 107.1h0M1673.0 95.9h0M1651.9 121.9h0M1651.5 110.8h0M1654.8 119.4h0M1654.6 99.2h0M1653.9 110.3h0M1649.6 122.0h0M1662.4 129.2h0M1650.1 129.5h0M1668.2 131.8h0M1670.5 117.9h0M1653.6 128.4h0M1640.7 121.8h0M1649.8 115.5h0M1636.7 109.9h0M1655.3 129.1h0M1666.2 118.6h0M1653.5 110.5h0M1659.8 116.8h0M1662.0 138.4h0M1655.2 103.3h0M1646.2 103.8h0M1642.6 133.6h0M1657.9 103.1h0M1662.6 133.1h0M1651.6 112.2h0M1651.9 122.6h0M1662.4 132.3h0M1668.6 132.3h0M1670.2 126.6h0M1639.0 118.1h0M1658.9 115.4h0M1665.3 115.6h0M1645.5 135.1h0M1662.7 121.9h0M1665.5 131.0h0M1659.2 93.0h0M1648.2 114.6h0M1644.9 121.6h0M1668.4 114.3h0M1643.2 141.4h0M1650.6 106.2h0M1658.1 124.1h0M1647.9 128.0h0M1650.2 109.5h0M1657.4 127.8h0M1648.7 123.1h0M1654.5 150.0h0M1647.8 134.4h0M1654.9 118.1h0M1663.3 129.2h0M1669.2 123.0h0M1649.0 113.7h0M1661.0 125.8h0M1670.6 124.0h0M1666.9 135.9h0M1657.3 103.5h0M1642.8 104.0h0M1672.7 110.3h0M1668.8 125.8h0M1674.0 130.3h0M1654.4 117.3h0M1656.4 121.4h0M1649.8 119.1h0M1672.9 101.1h0M1658.3 109.7h0M1657.5 128.6h0M1654.9 127.8h0M1638.3 131.5h0M1649.0 126.2h0M1657.5 91.6h0M1647.3 121.9h0M1672.3 122.6h0M1658.3 104.2h0M1671.0 139.0h0M1655.8 117.1h0M1638.0 129.0h0M1684.7 127.2h0M1669.1 125.4h0M1644.9 133.9h0M1642.2 117.2h0M1658.5 129.0h0M1660.0 123.7h0M1647.3 105.6h0M1656.2 111.8h0M1641.4 105.8h0M1650.2 99.5h0M1640.9 101.8h0M1657.5 123.9h0M1677.2 103.3h0M1648.2 129.4h0M1653.2 116.0h0M1674.0 115.8h0M1643.0 105.3h0M1659.1 122.8h0M1640.7 108.9h0M1661.3 125.7h0M1648.6 126.2h0M1661.7 100.2h0M1652.1 124.0h0M1649.3 96.4h0M1652.4 127.6h0M1672.6 95.8h0M1683.7 107.3h0M1665.8 132.8h0M1666.1 121.1h0M1643.0 126.3h0M1647.8 92.3h0M1686.1 127.1h0M1675.1 109.7h0M1671.3 136.7h0M1672.3 119.3h0M1642.5 117.6h0M1631.7 101.1h0M1656.5 108.8h0M1653.7 118.3h0M1676.4 133.5h0M1655.0 132.6h0M1647.1 115.9h0M1665.3 106.1h0M1652.5 105.2h0M1656.8 137.1h0M1647.4 121.9h0M1645.8 107.1h0M1642.2 135.2h0M1681.0 124.7h0M1647.8 127.1h0M1651.9 128.2h0M1658.6 122.5h0M1662.1 113.2h0M1651.1 100.9h0M1650.7 104.1h0M1653.9 109.2h0M1656.6 124.4h0M1640.2 110.7h0M1645.3 127.6h0M1673.9 128.7h0M1651.7 135.3h0M1639.1 135.7h0M1648.4 89.5h0M1684.1 136.5h0M1644.4 121.3h0M1653.2 120.6h0M1639.5 112.1h0M1660.6 121.9h0M1668.5 120.4h0M1680.9 111.8h0M1658.3 98.8h0M1642.0 133.8h0M1645.3 125.2h0M1654.8 108.2h0M1651.7 113.9h0M1650.2 127.6h0M1662.5 113.3h0M1645.7 122.5h0M1654.4 130.6h0M1684.2 128.6h0M1655.1 117.6h0M1646.2 109.7h0M1644.7 115.2h0M1650.9 127.5h0M1651.2 117.4h0M1642.3 137.3h0M1661.0 138.8h0M1664.1 135.6h0M1652.8 127.2h0M1684.7 106.3h0M1668.2 137.8h0M1660.0 127.8h0M1669.3 112.3h0M1660.0 109.9h0M1648.0 112.7h0M1653.9 121.1h0M1660.5 103.8h0M1677.4 132.3h0M1663.5 115.5h0M1654.5 125.6h0M1660.1 100.9h0M1663.7 151.8h0M1635.1 130.5h0M1659.6 118.3h0M1670.7 106.4h0M1657.3 135.7h0M1653.3 114.9h0M1656.8 114.6h0M1672.7 109.4h0M1665.2 105.6h0M1662.9 118.3h0M1626.8 119.4h0M1643.7 114.6h0M1672.6 107.1h0M1643.7 135.5h0M1656.8 136.6h0M1659.1 109.7h0M1654.8 133.2h0M1665.9 119.5h0M1656.0 118.3h0M1649.1 140.9h0M1655.6 106.9h0M1650.2 127.6h0M1662.6 118.0h0M1648.1 119.8h0M1636.9 105.0h0M1664.4 114.2h0M1659.7 133.0h0M1662.7 119.7h0M1679.1 126.9h0M1651.6 127.6h0M1660.0 110.0h0M1656.3 117.7h0M1633.7 117.6h0M1652.4 114.6h0M1637.2 115.6h0M1655.1 120.6h0M1642.9 126.5h0M1642.0 117.0h0M1670.0 111.8h0M1649.8 131.4h0M1651.2 116.2h0M1658.0 131.1h0M1631.0 110.3h0M1644.3 107.5h0M1646.0 110.2h0M1658.8 109.6h0M1656.9 123.9h0M1647.4 120.9h0M1673.6 123.1h0M1648.4 118.8h0M1645.4 122.5h0M1665.0 110.5h0M1653.2 131.8h0M1650.0 121.6h0M1644.2 110.5h0M1649.8 143.0h0M1651.1 113.8h0M1649.4 117.7h0M1662.6 121.5h0M1677.7 121.8h0M1671.1 122.5h0M1662.0 103.9h0M1654.1 118.8h0M1652.9 96.2h0M1665.0 115.3h0M1650.8 116.7h0M1653.0 123.9h0M1641.8 109.4h0M1658.6 121.1h0M1651.4 113.3h0M1646.5 118.9h0M1668.3 108.1h0M1672.0 128.6h0M1650.6 128.0h0M1639.7 100.8h0M1641.6 115.1h0M1652.0 113.9h0M1656.6 96.4h0M1660.8 104.2h0M1648.4 115.0h0M1643.0 104.7h0M1644.6 119.4h0M1661.9 125.6h0M1644.8 111.0h0M1645.6 124.4h0M1633.5 132.9h0M1650.3 111.0h0M1659.2 130.7h0M1659.2 130.9h0M1657.0 132.8h0M1668.9 118.4h0M1671.0 121.3h0M1656.4 109.5h0M1652.4 127.9h0M1641.3 126.5h0M1659.3 122.5h0M1631.7 118.4h0M1662.5 111.3h0M1656.5 93.8h0M1662.8 112.3h0M1664.9 99.6h0M1663.0 116.9h0M1664.2 109.5h0M1648.8 143.7h0M1646.5 111.9h0M1652.5 108.5h0M1668.4 138.1h0M1647.9 100.9h0M1668.2 131.5h0M1664.4 132.0h0M1646.1 117.7h0M1640.6 104.2h0M1666.1 112.2h0M1680.1 120.3h0M1648.6 128.1h0M1675.0 124.8h0M1642.4 123.5h0M1670.4 114.2h0M1647.1 130.5h0M1657.0 107.6h0M1651.4 111.3h0M1658.7 120.7h0M1667.9 127.2h0M1638.6 123.9h0M1665.2 124.4h0M1666.6 113.6h0M1645.2 129.5h0M1644.0 96.2h0M1666.6 111.7h0M1652.2 104.4h0M1641.2 107.0h0M1651.6 123.5h0M1630.7 127.6h0M1642.7 108.0h0M1662.8 118.7h0M1638.9 139.4h0M1646.2 122.2h0M1657.7 134.7h0M1650.6 130.4h0M1647.5 131.6h0M1647.3 115.6h0M1676.0 122.9h0M1656.7 143.7h0M1659.4 110.7h0M1663.4 106.7h0M1667.7 132.5h0M1649.3 112.7h0M1657.4 119.7h0M1644.9 125.6h0M1633.4 114.8h0M1651.1 116.5h0M1658.8 106.2h0M1661.9 117.6h0M1648.5 104.7h0M1642.7 123.4h0M1645.1 120.2h0M1667.0 130.7h0M1672.4 116.3h0M1643.8 130.5h0M1658.8 131.6h0M1655.6 132.4h0M1664.6 127.2h0M1660.9 123.8h0M1658.0 121.9h0M1666.2 114.0h0M1674.2 118.4h0M1666.1 118.5h0M1652.8 141.4h0M1652.2 105.7h0M1647.8 116.1h0M1678.8 121.7h0M1665.6 108.7h0M1659.3 126.8h0M1675.0 112.0h0M1662.0 122.8h0M1644.5 119.3h0M1652.7 94.4h0M1662.0 125.3h0M1650.8 105.0h0M1671.5 122.4h0M1666.5 134.7h0M1649.9 128.3h0M1652.9 118.8h0M1654.6 119.5h0M1667.5 120.8h0M1653.8 116.5h0M1659.2 109.8h0M1650.1 118.9h0M1649.4 118.2h0M1648.9 141.1h0M1669.9 124.4h0M1654.9 143.2h0M1659.0 118.6h0M1658.8 122.8h0M1670.7 119.3h0M1678.2 110.0h0M1663.0 108.7h0M1675.1 115.9h0M1654.9 129.5h0M1669.1 107.5h0M1651.8 104.4h0M1657.0 118.4h0M1651.7 112.1h0M1651.3 111.4h0M1661.2 135.9h0M1634.6 118.2h0M1651.0 124.8h0M1645.2 117.9h0M1644.3 127.0h0M1656.6 117.8h0M1659.5 116.8h0M1638.7 125.9h0M1658.6 117.8h0M1666.1 132.7h0M1643.7 111.1h0M1672.2 134.8h0M1647.5 106.7h0M1648.6 114.1h0M1638.4 119.8h0M1641.7 106.4h0M1665.4 112.1h0M1654.7 126.3h0M1664.3 115.9h0M1656.0 110.6h0M1674.4 126.5h0M1643.6 119.5h0M1663.2 124.7h0M1675.3 134.3h0M1649.7 118.5h0M1641.7 122.2h0M1657.1 148.7h0M1656.6 96.9h0M1648.2 120.7h0M1641.9 110.1h0M1651.6 123.2h0M1653.7 109.9h0M1664.0 113.7h0M1650.1 104.6h0M1647.0 126.5h0M1638.0 118.7h0M1663.3 115.4h0M1658.1 107.4h0M1669.7 131.4h0M1658.0 100.5h0M1644.2 130.0h0M1674.0 122.7h0M1669.0 112.9h0M1653.5 119.5h0M1660.1 103.0h0M1665.7 133.8h0M1643.1 104.9h0M1659.3 112.4h0M1629.9 128.2h0M1657.2 114.4h0M1678.3 121.0h0M1647.4 120.6h0M1644.3 111.3h0M1659.7 113.5h0M1650.6 137.5h0M1664.8 128.2h0M1661.2 124.7h0M1671.2 119.3h0M1675.5 109.2h0M1652.7 104.6h0M1651.8 125.1h0M1671.2 112.3h0M1655.6 115.6h0M1647.5 106.7h0M1656.2 100.8h0M1656.7 119.7h0M1648.4 108.6h0M1640.5 139.7h0M1641.0 136.3h0M1662.0 115.6h0M1643.0 130.8h0M1674.2 109.4h0M1652.3 130.9h0M1659.1 141.1h0M1649.3 125.4h0M1642.0 142.1h0M1647.6 95.7h0M1654.1 118.0h0M1676.2 115.8h0M1655.4 125.9h0M1672.6 118.8h0M1666.7 125.1h0M1652.3 120.3h0M1655.8 109.6h0M1668.6 104.5h0M1668.1 129.8h0M1654.5 111.2h0M1653.1 124.6h0M1663.5 122.6h0M1666.2 113.5h0M1658.0 102.6h0M1663.7 121.2h0M1651.0 132.0h0M1663.0 89.1h0M1655.9 103.8h0M1667.0 146.4h0M1649.9 120.3h0M1652.8 123.3h0M1662.5 133.4h0M1644.8 136.5h0M1645.4 122.5h0M1668.0 127.2h0M1645.4 111.9h0M1650.5 118.9h0M1667.9 105.5h0M1660.5 126.1h0M1661.5 124.5h0M1671.9 124.8h0M1664.8 125.6h0M1674.9 99.0h0M1669.3 116.7h0M1652.5 109.0h0M1635.3 115.4h0M1648.1 124.8h0M1639.6 135.0h0M1658.4 116.8h0M1647.8 111.0h0M1643.3 113.6h0M1655.6 117.6h0M1640.2 116.6h0M1645.9 121.2h0M1675.6 126.3h0M1652.1 102.0h0M1640.2 101.3h0M1663.3 111.2h0M1656.2 112.8h0M1656.5 134.6h0M1648.1 115.8h0M1646.8 128.9h0M1644.4 107.3h0M1640.5 104.3h0M1660.6 147.2h0M1644.7 129.8h0M1658.2 107.6h0M1652.5 117.0h0M1648.0 140.4h0M1634.9 123.6h0M1659.1 113.2h0M1657.1 129.0h0M1657.1 124.0h0M1663.0 97.6h0M1671.5 144.1h0M1666.1 130.4h0M1640.3 118.2h0M1646.7 113.2h0M1665.9 110.8h0M1654.1 98.9h0M1653.8 120.5h0M1647.9 111.7h0M1675.9 106.4h0M1644.2 110.8h0M1668.4 142.2h0M1659.1 111.8h0M1650.9 131.0h0M1645.7 135.2h0M1670.8 120.3h0M1662.5 127.6h0M1672.3 108.1h0M1668.3 115.4h0M1647.2 120.6h0M1653.2 108.8h0M1638.2 109.3h0M1671.2 140.7h0M1662.5 132.3h0M1649.9 118.7h0M1658.6 107.8h0M1644.8 120.5h0M1652.0 108.0h0M1659.7 116.7h0M1666.5 119.4h0M1652.3 120.9h0M1653.6 112.3h0M1651.2 127.6h0M1662.5 133.4h0M1637.2 115.3h0M1651.0 121.4h0M1650.6 114.0h0M1664.0 121.4h0M1642.9 133.9h0M1666.3 113.3h0M1664.5 111.6h0M1667.7 117.1h0M1646.8 115.5h0M1647.2 121.6h0M1657.4 119.9h0M1649.5 80.0h0M1656.5 99.0h0M1658.1 131.7h0M1658.5 115.3h0M1653.6 118.1h0M1649.6 113.2h0M1645.5 132.3h0M1655.3 129.8h0M1652.8 120.3h0M1653.7 124.5h0M1664.4 122.1h0M1648.2 111.1h0M1673.4 116.5h0M1652.4 135.3h0M1667.2 125.3h0M1651.2 144.9h0M1659.7 125.4h0M1653.7 104.2h0M1641.1 123.9h0M1659.7 116.9h0M1642.8 103.9h0M1652.0 103.8h0M1665.2 131.9h0M1686.1 129.0h0M1649.1 110.1h0M1618.2 113.1h0M1653.6 130.0h0M1662.1 125.9h0M1657.8 126.6h0M1671.1 108.0h0M1650.6 104.5h0M1673.0 133.5h0M1663.6 106.6h0M1657.4 117.0h0M1656.4 117.5h0M1661.1 115.2h0M1664.7 122.1h0M1652.3 118.3h0M1650.7 128.3h0M1652.6 122.7h0M1651.3 103.5h0M1665.3 108.1h0M1662.8 124.0h0M1637.6 109.3h0M1649.9 110.6h0M1642.7 127.5h0M1652.9 123.7h0M1650.9 122.8h0M1647.4 119.2h0M1661.8 120.0h0M1650.6 107.8h0M1657.3 123.2h0M1652.7 111.2h0M1661.4 146.3h0M1652.2 123.1h0M1659.6 91.8h0M1656.8 111.9h0M1670.5 116.8h0M1647.1 117.1h0M1657.3 113.5h0M1654.9 104.9h0M1653.1 127.9h0M1676.8 127.1h0M1658.4 132.3h0M1666.5 137.5h0M1667.2 118.2h0M1658.3 121.4h0M1658.8 121.7h0M1647.0 96.8h0M1648.2 97.6h0M1656.2 119.5h0M1637.4 126.9h0M1664.9 120.5h0M1673.5 139.7h0M1642.5 130.7h0M1660.3 124.0h0M1665.6 111.7h0M1649.1 110.6h0M1647.3 118.4h0M1639.8 108.2h0M1661.7 118.7h0M1659.6 99.1h0M1647.0 113.5h0M1655.9 113.2h0M1665.6 118.9h0M1655.7 119.6h0M1663.1 114.4h0M1667.6 124.5h0M1657.2 120.0h0M1661.1 130.5h0M1665.7 123.6h0M1665.0 120.8h0M1669.0 119.2h0M1633.1 133.9h0M1656.7 106.9h0M1653.4 110.0h0M1678.2 124.9h0M1638.6 125.4h0M1651.2 140.2h0M1644.1 95.2h0M1656.2 115.7h0M1651.0 96.4h0M1660.1 137.6h0M1634.9 132.1h0M1649.4 144.9h0M1660.2 117.5h0M1667.4 125.2h0M1649.1 127.2h0M1650.0 100.2h0M1677.4 115.7h0M1648.9 123.2h0M1638.7 104.9h0M1650.1 113.9h0M1656.3 131.6h0M1650.4 124.8h0M1662.0 107.8h0M1658.0 109.3h0M1667.0 124.4h0M1655.7 105.0h0M1656.8 111.2h0M1663.1 118.2h0M1646.7 129.5h0M1663.3 113.1h0M1668.0 116.3h0M1652.2 120.8h0M1647.4 114.7h0M1653.8 136.0h0M1671.7 116.7h0M1672.9 119.0h0M1659.6 129.0h0M1658.7 145.6h0M1658.1 106.6h0M1669.6 115.0h0M1652.2 87.2h0M1666.3 128.3h0M1664.1 130.1h0M1673.8 119.0h0M1665.6 111.5h0M1651.7 130.9h0M1659.7 105.1h0M1659.4 117.5h0M1646.7 124.2h0M1651.1 102.5h0M1643.5 138.6h0M1639.1 121.9h0M1662.1 126.4h0M1642.3 116.0h0M1657.0 128.1h0M1648.5 106.9h0M1666.3 131.4h0M1659.5 112.9h0M1659.9 120.7h0M1664.5 106.0h0M1656.8 117.8h0M1643.5 121.8h0M1655.9 115.1h0M1659.8 104.2h0M1654.9 124.2h0M1658.6 131.1h0M1642.5 103.2h0M1658.1 124.4h0M1678.4 126.2h0M1646.1 128.2h0M1646.4 103.5h0M1683.7 123.0h0M1663.2 125.6h0M1675.1 122.6h0M1668.7 108.4h0M1640.5 134.9h0M1671.4 125.0h0M1657.9 121.3h0M1648.1 136.1h0M1662.6 125.0h0M1659.6 130.8h0M1661.0 127.5h0M1642.9 125.0h0M1679.1 113.9h0M1654.1 129.1h0M1665.8 126.2h0M1638.0 124.9h0M1642.7 110.6h0M1661.4 116.3h0M1664.2 153.5h0M1663.9 127.3h0M1645.8 112.6h0M1644.0 113.7h0M1643.7 112.4h0M1653.2 108.7h0M1640.2 104.8h0M1660.4 120.1h0M1666.6 130.8h0M1651.8 126.7h0M1639.9 144.2h0M1668.4 117.2h0M1642.9 123.6h0M1635.3 111.1h0M1663.6 120.3h0M1650.2 129.8h0M1644.3 122.6h0M1650.1 110.3h0M1660.5 108.8h0M1676.0 113.2h0M1677.0 107.7h0M1662.0 106.5h0M1641.0 121.2h0M1662.8 105.7h0M1668.3 110.9h0M1656.9 123.6h0M1661.9 100.1h0M1673.0 125.6h0M1650.9 108.4h0M1637.2 104.8h0M1661.4 115.8h0M1643.3 113.8h0M1672.4 115.9h0M1649.2 134.1h0M1660.5 120.0h0M1648.9 102.7h0M1642.9 114.3h0M1653.1 123.3h0M1661.5 121.9h0M1657.9 108.6h0M1632.2 113.9h0M1645.2 112.5h0M1652.5 106.1h0M1643.5 118.4h0M1656.8 112.4h0M1660.9 117.1h0M1644.5 119.9h0M1675.8 112.2h0M1668.1 134.4h0M1671.7 110.6h0M1677.3 120.8h0M1652.8 117.0h0M1662.0 120.1h0M1653.6 133.4h0M1647.7 108.2h0M1664.1 127.1h0M1667.3 107.9h0M1667.2 124.7h0M1674.5 106.0h0M1657.9 116.5h0M1638.3 111.8h0M1667.7 114.4h0M1647.7 128.9h0M1666.2 130.2h0M1647.0 118.9h0M1666.6 112.4h0M1647.4 128.4h0M1672.4 107.1h0M1627.4 103.8h0M1644.6 118.0h0M1662.2 117.9h0M1647.9 121.2h0M1645.1 119.0h0M1648.6 148.4h0M1664.3 110.5h0M1644.7 114.8h0M1637.7 111.6h0M1647.5 129.0h0M1650.9 111.0h0M1641.0 106.8h0M1654.8 117.2h0M1667.7 112.7h0M1666.9 122.3h0M1655.4 97.8h0M1641.6 127.5h0M1670.6 121.7h0M1663.7 115.1h0M1651.5 112.3h0M1666.0 123.2h0M1653.0 116.0h0M1661.5 123.0h0M1646.5 138.0h0M1658.3 119.6h0M1671.5 130.6h0M1654.5 125.3h0M1643.9 112.6h0M1631.1 132.7h0M1635.0 126.9h0M1646.5 108.9h0M1653.4 122.4h0M1662.1 138.6h0M1659.4 129.0h0M1649.0 127.2h0M1657.2 114.5h0M1654.5 118.8h0M1657.6 123.8h0M1650.0 111.5h0M1663.6 101.2h0M1648.8 136.3h0M1626.3 112.0h0M1662.9 101.7h0M1683.6 91.5h0M1671.0 136.3h0M1665.4 117.1h0M1659.4 109.8h0M1664.2 107.4h0M1652.5 130.3h0M1643.5 115.6h0M1657.3 105.0h0M1668.1 123.2h0M1639.1 119.0h0M1647.1 112.4h0M1656.3 111.8h0M1665.9 111.9h0M1666.1 119.0h0M1664.7 113.7h0M1650.0 107.1h0M1661.7 129.6h0M1678.4 133.4h0M1658.2 117.2h0M1659.7 119.2h0M1671.3 129.7h0M1646.5 112.1h0M1670.3 122.8h0M1653.0 132.3h0M1651.3 116.5h0M1650.5 98.3h0M1664.8 106.4h0M1649.4 111.5h0M1663.4 118.8h0M1655.7 101.4h0M1654.6 103.6h0M1658.8 123.5h0M1655.3 141.6h0M1661.2 125.9h0M1657.0 117.4h0M1665.9 131.4h0M1641.4 130.9h0M1661.0 129.9h0M1660.5 106.1h0M1642.8 139.2h0M1658.2 104.2h0M1659.3 115.6h0M1635.6 94.8h0M1638.2 122.4h0M1655.0 116.8h0M1658.6 126.0h0M1632.8 116.2h0M1646.6 106.2h0M1649.6 118.2h0M1652.6 103.8h0M1650.3 141.3h0M1644.1 101.3h0M1658.5 125.9h0M1660.5 107.4h0M1666.3 111.0h0M1643.2 112.9h0M1654.3 127.2h0M1662.2 119.3h0M1665.6 120.4h0M1665.2 104.3h0M1638.5 127.9h0M1640.5 116.2h0M1654.4 114.2h0M1650.6 134.5h0M1628.2 129.0h0M1680.3 119.8h0M1655.3 127.3h0M1675.3 106.7h0M1656.4 117.5h0M1661.5 121.2h0M1662.6 114.9h0M1656.0 112.3h0M1648.3 118.0h0M1654.0 106.8h0M1672.5 118.0h0M1640.6 131.4h0M1647.4 125.0h0M1655.3 122.2h0M1657.3 113.3h0M1655.9 141.5h0M1631.3 120.2h0M1660.2 108.1h0M1640.7 142.8h0M1651.5 142.0h0M1661.3 120.3h0M1660.6 126.4h0M1668.2 124.2h0M1657.1 121.4h0M1670.1 128.3h0M1644.7 112.6h0M1659.1 112.8h0M1651.4 109.2h0M1652.7 124.1h0M1666.2 119.6h0M1677.9 118.7h0M1690.0 130.3h0M1660.9 114.1h0M1625.0 117.8h0M1657.4 140.3h0M1640.6 140.1h0M1652.8 127.3h0M1628.1 121.0h0M1651.8 126.9h0M1656.5 107.2h0M1665.7 127.0h0M1661.9 130.4h0M1667.4 119.3h0M1640.8 104.5h0M1670.1 127.2h0M1656.6 114.8h0M1655.8 119.8h0M1651.9 112.0h0M1678.9 122.0h0M1649.0 105.4h0M1647.7 127.3h0M1663.7 117.1h0M1656.1 116.2h0M1643.5 133.6h0M1659.5 146.2h0M1647.3 118.0h0M1665.0 116.9h0M1640.5 109.3h0M1656.6 123.2h0M1654.5 130.3h0M1666.2 123.0h0M1655.8 116.8h0M1661.5 129.4h0M1656.2 124.4h0M1652.0 104.3h0M1644.7 127.8h0M1660.3 136.7h0M1656.1 128.8h0M1669.8 130.2h0M1648.9 117.5h0M1656.9 108.9h0M1660.6 130.6h0M1650.3 140.8h0M1652.4 117.3h0M1652.9 111.9h0M1660.0 119.7h0M1673.4 126.1h0M1661.3 117.1h0M1640.2 118.5h0M1646.3 129.8h0M1655.2 137.5h0M1663.4 128.5h0M1658.0 121.8h0M1662.6 129.5h0M1647.8 124.8h0M1683.8 118.5h0M1652.7 112.0h0M1639.9 132.3h0M1752.0 123.2h0M1771.2 147.1h0M1741.7 131.4h0M1758.0 124.3h0M1756.5 119.8h0M1768.5 126.7h0M1755.0 133.5h0M1761.0 125.0h0M1754.9 139.0h0M1756.8 119.1h0M1742.1 116.3h0M1740.0 121.2h0M1754.1 97.9h0M1751.5 127.0h0M1753.1 109.7h0M1765.0 112.5h0M1738.1 108.4h0M1751.2 130.6h0M1763.9 122.3h0M1738.4 112.9h0M1741.6 118.1h0M1732.2 121.2h0M1758.3 118.4h0M1756.3 109.9h0M1735.6 113.1h0M1763.8 131.1h0M1746.4 133.0h0M1747.8 136.3h0M1756.5 115.1h0M1759.9 111.6h0M1741.2 104.3h0M1754.1 119.4h0M1750.5 115.6h0M1766.8 115.4h0M1743.5 133.5h0M1766.6 123.7h0M1732.5 113.5h0M1757.9 120.2h0M1768.1 105.2h0M1758.6 113.2h0M1765.6 119.2h0M1762.4 113.0h0M1736.1 108.0h0M1744.7 108.9h0M1764.3 134.5h0M1754.2 108.8h0M1750.0 112.6h0M1767.0 123.4h0M1756.6 115.7h0M1729.6 111.7h0M1739.2 124.0h0M1752.3 111.3h0M1747.1 136.9h0M1740.9 110.1h0M1748.8 112.4h0M1746.7 125.7h0M1770.0 100.8h0M1751.1 120.4h0M1750.4 118.0h0M1747.6 130.8h0M1746.3 118.6h0M1751.3 121.2h0M1749.5 130.8h0M1751.2 121.9h0M1750.7 109.2h0M1742.3 108.7h0M1753.4 112.3h0M1739.8 122.6h0M1757.0 101.0h0M1769.5 120.3h0M1750.2 131.5h0M1752.1 113.5h0M1775.0 108.4h0M1750.2 129.1h0M1739.7 118.9h0M1755.5 145.9h0M1741.7 119.5h0M1758.4 120.9h0M1738.3 124.4h0M1752.5 124.8h0M1763.5 130.9h0M1755.7 123.4h0M1739.4 118.5h0M1753.7 115.7h0M1752.4 111.1h0M1767.9 143.2h0M1747.1 124.3h0M1748.8 133.6h0M1756.0 120.8h0M1748.9 121.4h0M1740.5 127.3h0M1743.6 125.8h0M1752.7 131.8h0M1751.1 131.0h0M1741.3 126.6h0M1748.9 122.1h0M1752.1 130.1h0M1729.5 123.5h0M1735.2 133.0h0M1730.0 109.2h0M1733.2 137.7h0M1737.4 121.2h0M1745.5 100.6h0M1747.7 127.2h0M1749.3 130.2h0M1747.4 120.1h0M1747.1 123.7h0M1771.8 123.9h0M1753.4 113.3h0M1743.1 135.8h0M1739.3 110.1h0M1750.2 115.4h0M1772.4 94.4h0M1755.2 127.7h0M1739.2 113.0h0M1756.0 137.6h0M1741.4 102.9h0M1761.8 136.5h0M1747.7 96.1h0M1767.0 117.9h0M1763.4 119.5h0M1747.2 115.1h0M1767.2 135.5h0M1728.2 109.9h0M1770.5 116.0h0M1736.6 120.0h0M1750.1 118.9h0M1746.1 116.7h0M1746.4 123.6h0M1742.5 116.9h0M1749.7 134.1h0M1755.3 118.8h0M1757.1 124.4h0M1763.0 125.5h0M1770.7 134.5h0M1750.9 115.5h0M1760.8 125.6h0M1750.3 104.0h0M1731.5 123.8h0M1759.6 128.7h0M1737.4 131.2h0M1745.5 124.2h0M1755.8 111.3h0M1744.9 97.6h0M1741.4 100.5h0M1756.0 120.7h0M1761.2 123.9h0M1744.4 123.7h0M1747.1 126.6h0M1754.7 109.3h0M1751.3 120.6h0M1748.0 129.7h0M1769.8 116.0h0M1747.5 95.7h0M1749.9 115.3h0M1728.0 123.1h0M1757.7 112.1h0M1747.3 109.6h0M1759.5 103.6h0M1747.9 141.1h0M1751.9 125.1h0M1749.7 107.3h0M1750.9 124.4h0M1740.3 123.7h0M1764.7 131.6h0M1734.2 109.5h0M1733.9 131.6h0M1757.9 127.6h0M1741.8 107.4h0M1752.1 121.1h0M1742.1 121.5h0M1758.3 122.5h0M1740.1 97.2h0M1748.5 121.8h0M1748.5 115.4h0M1743.8 127.7h0M1750.7 121.3h0M1740.8 113.3h0M1753.1 109.1h0M1737.7 116.4h0M1764.3 122.1h0M1767.1 118.6h0M1748.0 105.0h0M1745.1 135.5h0M1754.8 127.9h0M1758.9 119.9h0M1749.1 121.3h0M1758.6 124.9h0M1756.6 121.7h0M1743.0 117.2h0M1741.1 130.9h0M1728.6 117.6h0M1777.1 116.3h0M1739.0 119.8h0M1765.2 118.3h0M1757.9 121.1h0M1747.3 154.0h0M1752.1 114.2h0M1746.0 124.1h0M1755.7 128.3h0M1752.8 104.5h0M1757.0 116.7h0M1748.2 104.0h0M1745.1 112.2h0M1750.9 104.3h0M1751.8 121.3h0M1739.2 113.3h0M1742.0 129.8h0M1724.0 116.3h0M1733.4 115.3h0M1760.4 113.2h0M1752.8 110.9h0M1772.2 129.9h0M1763.5 105.7h0M1739.4 131.7h0M1749.2 117.2h0M1754.9 106.4h0M1759.6 120.2h0M1756.5 112.8h0M1756.8 112.4h0M1761.6 132.2h0M1761.1 125.6h0M1758.1 90.8h0M1760.3 117.0h0M1752.3 116.9h0M1736.3 114.2h0M1758.4 135.3h0M1744.6 110.2h0M1767.0 110.5h0M1773.7 120.5h0M1741.8 130.6h0M1769.6 104.5h0M1768.1 117.0h0M1767.4 115.9h0M1734.3 125.4h0M1761.3 142.6h0M1769.9 127.5h0M1748.7 114.4h0M1748.1 111.0h0M1748.3 92.5h0M1753.2 119.7h0M1779.0 128.2h0M1746.1 126.1h0M1738.1 113.5h0M1731.1 135.5h0M1757.7 107.3h0M1750.6 130.3h0M1756.6 124.1h0M1742.0 113.1h0M1752.3 129.9h0M1742.3 107.9h0M1763.7 110.0h0M1762.9 122.6h0M1760.8 138.8h0M1758.7 128.4h0M1741.4 112.5h0M1758.3 136.6h0M1766.3 145.0h0M1754.7 122.2h0M1762.2 120.2h0M1750.6 108.7h0M1762.0 108.4h0M1756.8 104.7h0M1763.1 108.9h0M1760.4 102.8h0M1746.5 132.7h0M1742.6 120.7h0M1746.1 95.1h0M1754.6 124.7h0M1739.3 126.2h0M1742.7 109.2h0M1751.4 112.6h0M1776.1 103.2h0M1759.3 130.7h0M1729.9 101.3h0M1757.4 114.8h0M1755.4 132.3h0M1747.3 108.5h0M1721.8 122.2h0M1741.3 123.4h0M1753.8 105.0h0M1769.9 131.7h0M1760.5 107.2h0M1746.9 114.1h0M1746.8 107.9h0M1756.0 122.5h0M1755.2 114.5h0M1765.2 122.0h0M1721.7 113.1h0M1750.7 130.4h0M1748.1 117.3h0M1744.1 127.2h0M1746.5 113.5h0M1743.3 126.0h0M1745.5 101.9h0M1758.0 112.4h0M1755.2 124.0h0M1764.3 131.3h0M1745.1 118.2h0M1737.4 138.1h0M1756.1 135.1h0M1747.9 97.9h0M1767.8 121.0h0M1752.7 120.6h0M1758.3 125.8h0M1734.1 131.7h0M1745.6 115.0h0M1770.0 129.9h0M1747.6 100.0h0M1753.0 125.8h0M1750.4 106.5h0M1742.8 106.4h0M1753.6 128.8h0M1762.4 112.1h0M1753.8 126.0h0M1745.8 118.4h0M1774.2 122.2h0M1760.8 115.3h0M1751.8 101.5h0M1751.0 132.9h0M1774.0 132.9h0M1758.7 120.6h0M1744.8 118.3h0M1757.9 111.5h0M1761.4 109.4h0M1732.1 109.1h0M1733.3 105.2h0M1763.5 117.8h0M1753.7 132.5h0M1764.9 114.6h0M1765.6 124.2h0M1751.3 124.8h0M1735.9 111.5h0M1750.1 126.6h0M1747.3 118.6h0M1761.8 135.2h0M1759.6 133.7h0M1746.9 116.7h0M1754.7 116.7h0M1745.8 137.8h0M1749.1 109.6h0M1756.6 139.8h0M1752.2 133.3h0M1746.6 114.7h0M1743.8 118.5h0M1771.1 107.5h0M1769.0 109.1h0M1748.8 129.0h0M1758.1 123.0h0M1733.5 123.9h0M1740.3 147.7h0M1749.0 122.0h0M1738.9 114.8h0M1737.4 130.6h0M1748.5 126.1h0M1743.9 114.6h0M1765.2 109.5h0M1731.8 124.4h0M1739.0 115.3h0M1761.1 111.2h0M1760.8 112.6h0M1767.4 134.3h0M1746.2 117.7h0M1742.3 122.2h0M1763.7 104.4h0M1761.2 105.7h0M1742.0 100.7h0M1774.0 120.6h0M1753.9 112.7h0M1762.8 97.3h0M1751.6 143.8h0M1747.2 120.2h0M1758.6 111.2h0M1751.5 130.4h0M1753.4 124.0h0M1747.5 123.4h0M1751.9 135.7h0M1759.1 117.4h0M1724.9 127.7h0M1759.5 110.1h0M1729.7 107.7h0M1761.3 108.5h0M1746.3 122.4h0M1764.5 119.8h0M1750.2 114.1h0M1768.9 131.5h0M1750.3 104.9h0M1742.8 126.3h0M1743.5 129.6h0M1755.2 123.2h0M1758.4 125.4h0M1742.1 116.5h0M1776.6 107.0h0M1746.2 131.5h0M1749.6 111.2h0M1737.0 125.8h0M1762.3 135.1h0M1751.9 131.3h0M1740.1 121.8h0M1744.0 121.9h0M1759.4 131.6h0M1740.6 133.7h0M1746.2 108.9h0M1749.5 104.2h0M1751.3 123.1h0M1749.1 125.8h0M1747.9 120.0h0M1735.7 120.5h0M1742.1 115.1h0M1750.3 122.1h0M1733.5 103.1h0M1748.0 125.1h0M1755.2 129.6h0M1765.4 125.4h0M1751.1 108.9h0M1741.1 115.0h0M1754.2 122.4h0M1751.3 118.4h0M1758.1 122.2h0M1754.5 123.3h0M1745.4 108.9h0M1756.6 124.5h0M1748.9 115.5h0M1775.9 111.8h0M1749.0 122.9h0M1738.8 121.3h0M1770.7 130.1h0M1758.1 126.4h0M1752.5 130.4h0M1749.6 115.4h0M1752.4 129.8h0M1754.9 127.3h0M1729.4 132.9h0M1776.6 134.4h0M1747.9 110.8h0M1754.3 109.3h0M1759.1 114.3h0M1761.7 134.7h0M1729.4 123.2h0M1743.8 104.8h0M1744.6 117.6h0M1762.5 103.6h0M1762.6 141.8h0M1757.8 125.9h0M1751.2 107.3h0M1757.1 124.1h0M1759.2 147.7h0M1759.2 124.6h0M1768.2 105.5h0M1739.0 115.9h0M1744.2 127.5h0M1747.9 138.8h0M1767.7 128.3h0M1747.1 126.7h0M1760.1 108.5h0M1755.1 127.6h0M1753.6 137.0h0M1764.4 111.1h0M1752.6 111.0h0M1757.6 110.6h0M1761.3 124.2h0M1761.8 118.4h0M1735.6 139.1h0M1749.4 134.9h0M1755.9 127.3h0M1771.1 123.7h0M1766.4 104.0h0M1760.7 117.4h0M1749.9 120.1h0M1755.0 137.9h0M1731.3 120.5h0M1743.6 132.6h0M1746.7 124.9h0M1747.0 127.2h0M1762.3 115.7h0M1751.8 104.7h0M1754.6 129.2h0M1745.3 132.1h0M1728.9 100.0h0M1736.3 114.8h0M1751.5 119.1h0M1750.6 127.8h0M1746.2 106.4h0M1737.9 142.8h0M1725.9 118.1h0M1767.0 125.2h0M1742.3 120.0h0M1760.6 133.0h0M1741.6 128.2h0M1754.0 131.9h0M1766.3 116.3h0M1735.6 124.3h0M1770.5 127.4h0M1753.8 145.9h0M1740.1 129.8h0M1745.1 120.5h0M1752.3 136.4h0M1741.2 114.2h0M1734.1 125.3h0M1746.4 124.6h0M1739.7 116.1h0M1762.5 118.1h0M1758.1 125.7h0M1747.5 103.2h0M1761.9 121.8h0M1761.9 98.3h0M1733.4 96.9h0M1741.8 131.3h0M1757.4 119.6h0M1752.7 128.2h0M1748.0 124.3h0M1752.8 96.4h0M1747.1 134.7h0M1747.0 118.5h0M1744.7 114.8h0M1763.4 117.1h0M1740.3 86.4h0M1745.1 98.8h0M1731.6 128.6h0M1759.0 99.3h0M1760.5 125.0h0M1742.8 127.9h0M1733.7 107.0h0M1735.8 108.0h0M1760.8 105.6h0M1738.9 109.7h0M1753.4 116.3h0M1760.6 112.3h0M1737.4 114.6h0M1751.7 109.9h0M1754.3 139.6h0M1744.9 120.4h0M1765.8 112.9h0M1742.0 108.1h0M1755.5 125.4h0M1749.5 120.3h0M1764.9 129.2h0M1736.0 119.7h0M1752.2 127.5h0M1748.6 112.8h0M1746.1 100.5h0M1750.7 113.3h0M1756.0 108.6h0M1746.3 109.1h0M1739.4 127.2h0M1745.9 124.4h0M1738.8 120.7h0M1732.7 114.4h0M1745.5 125.9h0M1752.8 117.7h0M1759.9 121.6h0M1756.7 127.8h0M1750.1 116.4h0M1754.4 115.0h0M1755.0 131.5h0M1760.0 115.4h0M1737.0 118.9h0M1749.5 131.4h0M1746.7 117.2h0M1758.7 114.4h0M1749.1 138.0h0M1766.9 126.3h0M1753.7 109.0h0M1756.8 120.1h0M1753.2 113.9h0M1750.7 117.5h0M1754.2 134.9h0M1754.7 101.6h0M1740.3 102.4h0M1742.2 125.5h0M1755.1 113.0h0M1753.7 111.3h0M1735.5 104.3h0M1741.5 134.8h0M1736.3 132.9h0M1765.1 117.5h0M1750.2 112.9h0M1750.5 126.6h0M1750.9 130.2h0M1763.5 123.2h0M1754.3 118.8h0M1754.5 107.4h0M1755.1 121.7h0M1741.4 142.6h0M1740.3 110.1h0M1753.7 98.6h0M1742.2 103.0h0M1740.3 118.0h0M1754.2 131.3h0M1759.4 132.2h0M1757.1 114.4h0M1762.7 114.2h0M1744.1 135.9h0M1759.2 121.8h0M1758.8 128.9h0M1736.0 118.4h0M1738.0 120.7h0M1743.5 134.1h0M1756.3 110.6h0M1750.5 106.3h0M1751.1 125.3h0M1753.5 98.6h0M1747.1 124.9h0M1754.0 131.9h0M1736.8 125.0h0M1743.7 121.5h0M1755.1 126.8h0M1744.5 121.4h0M1738.1 104.2h0M1756.7 118.8h0M1733.2 110.2h0M1750.9 136.2h0M1762.0 128.0h0M1731.4 118.3h0M1755.8 123.6h0M1755.2 116.9h0M1769.6 135.3h0M1749.7 108.8h0M1772.8 113.4h0M1763.6 140.0h0M1740.5 122.5h0M1746.9 124.9h0M1754.1 140.4h0M1757.0 119.3h0M1762.8 116.4h0M1746.7 143.5h0M1741.8 114.1h0M1751.1 108.0h0M1727.9 130.8h0M1742.2 113.5h0M1746.6 108.8h0M1739.1 121.1h0M1776.6 127.3h0M1758.7 103.1h0M1750.4 106.6h0M1759.0 116.9h0M1751.1 118.4h0M1744.4 102.9h0M1756.9 104.4h0M1737.9 116.1h0M1743.0 122.2h0M1761.6 122.1h0M1752.8 119.6h0M1759.9 99.4h0M1754.6 109.3h0M1737.3 119.4h0M1746.5 125.7h0M1762.6 94.2h0M1749.9 140.5h0M1760.0 135.0h0M1751.8 103.9h0M1738.5 127.0h0M1761.0 111.5h0M1747.8 122.2h0M1731.8 115.6h0M1768.1 143.0h0M1749.5 139.1h0M1745.0 110.6h0M1726.5 129.7h0M1746.6 144.6h0M1754.2 121.4h0M1731.2 135.6h0M1746.8 117.6h0M1726.8 129.4h0M1761.4 112.8h0M1751.7 123.6h0M1761.1 120.5h0M1769.3 116.8h0M1744.1 114.3h0M1723.3 110.7h0M1761.6 122.3h0M1741.9 123.2h0M1728.9 116.3h0M1756.4 126.9h0M1742.3 129.3h0M1770.9 114.8h0M1758.7 102.6h0M1729.5 126.0h0M1751.2 121.6h0M1744.4 116.3h0M1759.5 138.0h0M1748.4 101.6h0M1764.5 125.9h0M1758.1 121.4h0M1775.8 120.3h0M1756.3 99.4h0M1744.5 112.0h0M1750.4 123.2h0M1742.6 138.1h0M1739.2 114.6h0M1753.3 105.9h0M1756.9 126.3h0M1747.6 140.1h0M1751.6 122.5h0M1740.4 101.4h0M1743.9 116.0h0M1745.8 127.8h0M1725.0 107.2h0M1731.0 133.9h0M1744.6 113.9h0M1738.8 129.2h0M1746.3 121.8h0M1728.8 132.1h0M1755.0 125.4h0M1764.1 117.4h0M1749.0 127.2h0M1755.4 116.8h0M1751.2 114.0h0M1758.5 129.6h0M1750.8 139.8h0M1734.1 116.9h0M1769.3 114.9h0M1733.5 134.6h0M1756.7 106.6h0M1759.2 108.4h0M1736.3 117.8h0M1745.6 107.6h0M1746.8 108.6h0M1751.4 119.2h0M1758.9 114.6h0M1736.4 105.2h0M1748.1 136.1h0M1760.0 112.5h0M1761.0 106.9h0M1761.8 115.3h0M1759.1 126.2h0M1747.8 123.0h0M1739.2 118.7h0M1762.5 163.9h0M1758.4 120.4h0M1739.8 131.0h0M1732.9 110.8h0M1754.7 106.4h0M1767.5 131.3h0M1744.6 113.5h0M1736.5 104.3h0M1755.6 126.3h0M1754.6 122.4h0M1744.7 123.4h0M1734.9 119.6h0M1766.8 133.8h0M1745.8 115.9h0M1765.7 138.9h0M1734.6 114.9h0M1753.3 132.7h0M1741.7 126.5h0M1747.5 145.3h0M1755.5 118.0h0M1747.2 131.0h0M1758.2 107.8h0M1753.2 105.0h0M1742.6 105.5h0M1736.4 112.1h0M1740.2 125.2h0M1759.5 116.9h0M1738.7 128.2h0M1728.9 98.6h0M1758.7 126.6h0M1761.4 117.2h0M1737.1 114.0h0M1757.0 111.2h0M1743.2 104.4h0M1738.2 128.7h0M1755.7 106.9h0M1739.1 113.4h0M1756.8 106.8h0M1749.0 96.3h0M1737.2 124.1h0M1760.6 107.0h0M1742.4 128.2h0M1746.6 113.6h0M1756.4 121.6h0M1762.9 128.1h0M1744.6 118.2h0M1750.2 104.8h0M1740.3 130.1h0M1733.6 130.3h0M1753.9 118.0h0M1756.7 124.7h0M1763.9 115.2h0M1748.4 116.9h0M1771.2 129.8h0M1740.8 115.9h0M1743.2 119.7h0M1753.2 144.4h0M1731.1 130.7h0M1755.6 112.0h0M1749.2 114.2h0M1751.4 130.5h0M1734.4 133.8h0M1746.8 135.9h0M1755.3 132.9h0M1757.0 131.4h0M1751.5 110.6h0M1758.2 127.3h0M1773.6 97.9h0M1748.8 131.1h0M1737.4 117.2h0M1773.9 135.0h0M1741.4 135.1h0M1763.8 128.1h0M1755.1 122.2h0M1741.5 114.1h0M1758.9 121.2h0M1771.0 116.1h0M1725.0 116.1h0M1754.0 123.8h0M1751.7 110.8h0M1767.2 112.5h0M1758.7 116.6h0M1738.0 135.0h0M1723.9 110.5h0M1755.7 115.9h0M1759.1 118.6h0M1746.1 143.1h0M1748.7 118.0h0M1739.3 111.7h0M1758.1 125.8h0M1751.1 112.2h0M1758.5 101.4h0M1747.4 117.1h0M1741.9 121.4h0M1743.9 111.1h0M1770.6 127.8h0M1764.1 120.4h0M1761.6 128.3h0M1764.3 145.4h0M1748.7 122.7h0M1750.6 81.9h0M1736.1 120.1h0M1758.0 113.7h0M1763.5 133.8h0M1746.8 135.3h0M1770.2 125.0h0M1740.6 135.8h0M1749.5 115.9h0M1752.5 114.2h0M1762.9 128.4h0M1764.5 126.3h0M1742.7 118.3h0M1760.8 115.6h0M1782.8 117.4h0M1745.0 132.4h0M1759.4 119.7h0M1748.8 124.6h0M1760.3 128.2h0M1748.0 124.7h0M1760.4 128.3h0M1718.0 110.4h0M1742.9 117.5h0M1753.2 130.0h0M1758.0 118.6h0M1751.5 139.0h0M1744.7 123.3h0M1768.2 123.7h0M1729.2 124.0h0M1747.1 118.8h0M1762.7 125.1h0M1748.4 129.6h0M1756.0 121.1h0M1754.6 122.7h0M1747.6 115.0h0M1751.6 109.7h0M1737.7 134.0h0M1748.7 119.7h0M1749.8 120.3h0M1751.5 120.7h0M1742.6 130.1h0M1743.8 131.2h0M1730.6 108.5h0M1762.0 118.4h0M1744.1 124.1h0M1740.0 120.8h0M1727.4 115.1h0M1744.3 125.8h0M1760.8 110.8h0M1768.7 113.6h0M1729.1 94.3h0M1767.9 119.1h0M1744.3 111.9h0M1739.5 134.6h0M1750.4 139.3h0M1749.2 94.6h0M1760.4 116.0h0M1748.7 136.9h0M1748.5 132.5h0M1751.2 111.9h0M1756.8 113.5h0M1764.6 130.4h0M1752.0 126.6h0M1757.4 117.0h0M1761.0 117.5h0M1758.0 109.7h0M1752.4 124.5h0M1742.8 115.5h0M1745.6 127.9h0M1743.6 124.8h0M1767.8 123.9h0M1733.9 121.4h0M1762.6 117.0h0M1763.3 126.7h0M1755.9 117.3h0M1745.9 117.3h0M1752.1 125.7h0M1755.9 116.9h0M1752.1 124.3h0M1733.9 111.8h0M1742.8 117.9h0M1748.5 117.4h0M1742.0 127.4h0M1754.4 102.4h0M1751.6 108.0h0M1769.8 115.2h0M1747.2 121.1h0M1749.3 119.5h0M1768.2 122.6h0M1760.5 132.4h0M1741.0 138.4h0M1758.9 130.5h0M1742.2 129.0h0M1756.0 114.4h0M1776.1 126.3h0M1748.9 122.3h0M1761.3 132.4h0M1757.8 133.4h0M1767.4 106.9h0M1746.3 110.1h0M1752.6 135.8h0M1758.6 108.9h0M1748.3 131.3h0M1745.8 119.2h0M1754.8 100.5h0M1759.9 123.9h0M1757.7 109.6h0M1743.2 113.8h0M1754.2 121.0h0M1752.9 139.6h0M1765.6 112.5h0M1744.5 138.7h0M1748.1 135.1h0M1768.8 114.4h0M1748.6 121.1h0M1742.2 109.7h0M1747.2 129.4h0M1746.7 118.0h0M1746.5 105.5h0M1767.5 94.9h0M1744.5 126.3h0M1736.4 126.7h0M1765.0 110.9h0M1753.8 108.2h0M1757.0 121.2h0M1753.8 135.0h0M1756.6 134.7h0M1758.4 107.3h0M1754.3 125.5h0M1735.9 134.6h0M1752.2 124.2h0M1741.8 121.0h0M1754.7 116.7h0M1752.4 97.3h0M1766.2 108.2h0M1727.9 109.8h0M1742.5 126.1h0M1741.6 123.3h0M1741.1 144.0h0M1757.4 141.3h0M1740.5 127.4h0M1741.2 126.4h0M1758.8 103.0h0M1739.2 107.6h0M1735.2 112.3h0M1741.1 104.6h0M1752.5 126.1h0M1737.3 114.1h0M1751.5 117.6h0M1743.9 128.9h0M1760.6 127.5h0M1749.2 141.6h0M1770.2 115.8h0M1750.1 133.0h0M1742.8 124.4h0M1751.9 112.5h0M1748.9 103.1h0M1745.5 98.6h0M1776.0 136.4h0M1764.7 123.4h0M1762.2 133.8h0M1762.4 130.0h0M1741.5 124.7h0M1745.6 107.3h0M1739.0 124.7h0M1762.7 105.3h0M1770.2 135.9h0M1747.2 115.0h0M1750.6 130.6h0M1747.2 108.1h0M1755.0 97.7h0M1752.8 132.5h0M1754.6 128.4h0M1756.6 127.9h0M1752.9 111.0h0M1748.9 119.2h0M1764.9 137.6h0M1755.8 111.9h0M1743.4 118.0h0M1766.3 123.6h0M1750.7 111.7h0M1760.8 123.1h0M1750.8 121.1h0M1769.5 118.3h0M1769.5 133.4h0M1751.9 129.5h0M1750.0 111.1h0M1748.4 110.2h0M1756.8 120.2h0M1757.4 128.9h0M1717.6 123.4h0M1731.8 121.8h0M1741.8 121.1h0M1766.0 101.6h0M1753.4 119.2h0M1730.9 127.0h0M1751.7 114.5h0M1743.5 154.7h0M1747.0 100.6h0M1741.2 116.0h0M1747.1 119.1h0M1740.0 125.8h0M1746.1 105.3h0M1742.5 115.8h0M1760.5 125.2h0M1747.6 120.2h0M1753.6 142.0h0M1744.6 125.0h0M1759.1 109.7h0M1753.3 121.8h0M1746.2 126.1h0M1762.4 132.2h0M1749.2 122.1h0M1776.7 108.1h0M1753.7 129.6h0M1752.9 127.1h0M1753.2 128.1h0M1765.2 117.6h0M1753.4 119.4h0M1746.9 119.8h0M1739.1 128.0h0M1769.7 138.4h0M1765.1 109.6h0M1767.7 112.3h0M1750.7 139.9h0M1739.7 129.1h0M1754.3 118.4h0M1741.8 124.6h0M1746.3 131.3h0M1764.5 105.1h0M1745.8 116.6h0M1738.5 107.9h0M1752.3 117.8h0M1733.5 114.2h0M1756.9 107.0h0M1741.3 137.1h0M1765.5 102.5h0M1736.7 124.1h0M1738.4 117.3h0M1746.4 126.0h0M1724.0 96.2h0M1738.1 130.9h0M1749.6 101.6h0M1756.6 127.6h0M1748.6 116.4h0M1756.0 133.1h0M1752.9 125.8h0M1750.8 115.9h0M1741.4 122.8h0M1748.1 117.4h0M1761.3 125.3h0M1760.7 103.0h0M1757.3 113.6h0M1742.6 110.8h0M1764.4 128.9h0M1743.6 107.7h0M1751.4 115.0h0M1769.2 104.2h0M1731.5 117.2h0M1751.4 121.4h0M1759.4 142.4h0M1747.6 114.1h0M1732.3 122.6h0M1760.5 117.2h0M1764.1 120.3h0M1767.7 123.6h0M1739.9 113.1h0M1734.7 101.2h0M1754.2 129.4h0M1772.4 119.4h0M1748.7 108.0h0M1762.0 124.2h0M1744.9 127.4h0M1757.4 99.8h0M1759.3 121.5h0M1747.1 115.5h0M1770.2 136.6h0M1771.0 107.6h0M1744.2 129.8h0M1738.2 112.2h0M1731.8 140.0h0M1762.8 125.0h0M1753.7 115.5h0M1747.0 126.6h0M1743.6 133.3h0M1746.0 110.6h0M1765.3 118.4h0M1757.3 115.5h0M1727.0 125.9h0M1736.8 131.7h0M1734.6 99.9h0M1754.6 124.6h0M1752.5 106.9h0M1760.9 104.2h0M1746.3 111.5h0M1747.2 129.2h0M1744.5 126.1h0M1758.8 101.5h0M1738.7 115.9h0M1744.9 123.3h0M1730.4 127.8h0M1759.3 118.2h0M1736.4 120.1h0M1745.5 126.1h0M1750.4 127.9h0M1746.6 135.6h0M1726.4 109.0h0M1756.6 103.7h0M1759.2 106.9h0M1752.3 110.1h0M1746.5 121.9h0M1750.2 115.9h0M1774.6 120.1h0M1740.8 130.0h0M1760.2 133.2h0M1770.6 109.9h0M1762.7 132.3h0M1751.3 122.6h0M1718.9 113.8h0M1770.6 100.7h0M1745.5 123.1h0M1757.5 137.6h0M1732.3 120.5h0M1760.6 105.8h0M1750.9 140.4h0M1765.5 125.8h0M1723.1 118.6h0M1755.5 116.7h0M1750.6 153.3h0M1749.0 109.5h0M1753.9 116.6h0M1748.0 119.1h0M1759.7 122.6h0M1738.3 118.6h0M1756.4 114.9h0M1763.7 128.4h0M1740.6 123.5h0M1772.7 136.8h0M1750.7 129.7h0M1744.0 104.4h0M1757.3 122.7h0M1756.9 119.7h0M1754.8 114.5h0M1756.4 129.0h0M1750.7 128.8h0M1732.2 111.5h0M1766.9 139.0h0M1754.0 118.9h0M1737.6 123.9h0M1759.7 104.0h0M1757.3 125.3h0M1756.1 107.8h0M1757.2 103.8h0M1767.4 121.5h0M1738.7 134.5h0M1763.8 113.0h0M1775.1 109.2h0M1754.7 132.8h0M1726.8 130.8h0M1750.6 119.8h0M1739.7 123.6h0M1739.3 109.5h0M1746.5 106.7h0M1768.3 105.6h0M1743.1 116.6h0M1751.3 128.6h0M1760.1 116.7h0M1747.2 120.4h0M1760.2 127.5h0M1745.7 97.8h0M1774.4 130.3h0M1754.1 123.7h0M1745.7 109.2h0M1747.7 117.6h0M1744.5 104.3h0M1747.9 126.2h0M1746.0 120.2h0M1728.9 117.8h0M1750.0 106.8h0M1732.6 124.4h0M1742.6 125.3h0M1746.8 126.7h0M1747.6 103.7h0M1750.4 116.5h0M1758.4 115.1h0M1747.1 129.3h0M1763.9 128.2h0M1762.5 124.9h0M1759.6 129.5h0M1755.7 120.7h0M1752.8 146.0h0M1751.4 117.4h0M1747.4 119.6h0M1753.9 107.8h0M1729.9 123.2h0M1734.0 122.8h0M1752.8 132.5h0M1769.3 124.0h0M1745.3 107.3h0M1742.7 120.4h0M1729.0 120.8h0M1751.2 127.0h0M1747.7 121.1h0M1743.3 115.0h0M1732.1 121.3h0M1768.0 121.8h0M1755.3 109.4h0M1766.8 111.7h0M1760.0 121.2h0M1740.9 131.1h0M1751.5 121.9h0M1756.2 119.8h0M1747.2 125.0h0M1746.9 120.7h0M1744.1 103.9h0M1744.0 114.7h0M1751.5 132.8h0M1733.1 121.4h0M1727.4 108.7h0M1745.8 95.7h0M1731.2 121.7h0M1752.1 118.8h0M1742.6 143.3h0M1749.6 110.7h0M1769.4 126.6h0M1747.3 132.9h0M1753.0 126.9h0M1753.8 108.9h0M1761.8 121.7h0M1740.4 111.8h0M1761.6 116.0h0M1751.8 127.1h0M1752.7 103.5h0M1758.2 130.1h0M1760.7 137.5h0M1755.2 128.4h0M1768.5 116.9h0M1770.1 138.7h0M1759.8 139.9h0M1760.5 110.5h0M1763.6 123.5h0M1755.8 121.7h0M1766.0 126.0h0M1743.8 125.2h0M1759.2 112.2h0M1746.6 115.9h0M1744.7 123.8h0M1762.3 140.4h0M1764.2 131.0h0M1763.6 134.4h0M1747.2 127.5h0M1754.8 118.6h0M1746.4 114.5h0M1748.4 106.7h0M1756.9 119.8h0M1752.4 123.7h0M1759.1 113.6h0M1750.2 102.6h0M1727.3 99.0h0M1767.9 100.3h0M1756.4 136.0h0M1746.4 137.6h0M1771.3 130.2h0M1776.9 126.7h0M1743.4 125.7h0M1746.5 106.0h0M1737.6 145.0h0M1745.5 119.8h0M1744.2 121.6h0M1748.8 115.7h0M1738.3 104.9h0M1743.4 123.3h0M1773.9 131.5h0M1771.1 125.4h0M1750.5 105.9h0M1751.5 97.0h0M1748.2 137.8h0M1755.0 132.4h0M1747.4 105.3h0M1746.3 115.9h0M1764.5 141.6h0M1743.5 116.4h0M1750.0 116.5h0M1738.1 121.3h0M1755.5 124.4h0M1738.5 119.0h0M1732.8 130.1h0M1740.6 117.3h0M1746.7 114.0h0M1740.2 101.2h0M1770.3 123.1h0M1754.5 143.0h0M1750.5 126.3h0M1751.9 133.1h0M1757.0 123.7h0M1748.9 123.4h0M1764.2 97.9h0M1750.2 115.8h0M1748.4 99.0h0M1759.5 111.2h0M1749.2 114.9h0M1733.6 115.5h0M1731.8 110.2h0M1748.2 120.3h0M1752.3 118.9h0M1774.7 125.1h0M1738.5 113.7h0M1744.6 118.4h0M1745.1 111.1h0M1769.5 120.8h0M1748.0 117.6h0M1749.3 135.4h0M1756.8 132.5h0M1718.0 123.9h0M1763.1 141.7h0M1752.0 101.8h0M1758.0 113.9h0M1732.3 113.7h0M1763.1 133.4h0M1759.5 109.1h0M1778.9 107.8h0M1750.9 104.8h0M1765.9 125.2h0M1761.3 121.4h0M1751.0 122.3h0M1731.3 131.2h0M1761.6 116.2h0M1751.6 123.7h0M1768.7 125.1h0M1752.2 114.9h0M1735.5 114.0h0M1752.5 117.7h0M1752.6 128.5h0M1756.5 123.4h0M1758.9 122.5h0M1751.5 125.6h0M1733.1 134.0h0M1737.9 129.5h0M1751.9 132.5h0M1752.2 110.3h0M1763.4 122.5h0M1753.1 121.4h0M1762.6 129.4h0M1754.3 103.8h0M1747.5 121.7h0M1771.2 124.7h0M1750.9 133.5h0M1750.7 120.3h0M1753.6 104.4h0M1762.2 125.2h0M1748.8 108.3h0M1754.2 135.7h0M1745.0 109.1h0M1756.4 103.4h0M1727.9 115.8h0M1744.5 117.6h0M1746.0 124.2h0M1749.5 114.1h0M1747.0 127.4h0M1762.3 130.4h0M1759.5 85.0h0M1741.1 117.2h0M1754.2 103.2h0M1767.3 123.9h0M1745.2 122.4h0M1748.2 112.4h0M1757.4 115.7h0M1736.7 113.8h0M1750.7 109.0h0M1765.6 108.9h0M1770.9 130.3h0M1741.8 122.1h0M1764.7 118.6h0M1739.1 121.9h0M1773.5 104.6h0M1758.0 120.8h0M1750.7 116.5h0M1748.6 131.9h0M1758.5 110.0h0M1768.9 106.7h0M1759.2 122.7h0M1765.0 124.6h0M1763.5 120.5h0M1762.6 124.5h0M1775.3 113.3h0M1765.0 125.8h0M1754.0 114.7h0M1756.9 104.9h0M1737.3 128.5h0M1735.3 136.3h0M1749.1 123.5h0M1752.9 125.3h0M1749.1 116.8h0M1750.7 132.1h0M1764.4 134.6h0M1756.1 118.6h0M1734.0 127.8h0M1761.2 116.5h0M1760.8 134.7h0M1753.1 132.2h0M1755.4 102.1h0M1747.0 116.4h0M1757.8 111.5h0M1747.4 110.4h0M1751.7 121.6h0M1762.7 129.4h0M1753.9 123.4h0M1753.3 122.0h0M1768.8 94.0h0M1750.2 124.2h0M1764.3 109.0h0M1755.9 130.1h0M1747.3 100.2h0M1748.2 107.9h0M1759.2 111.6h0M1771.4 122.4h0M1743.4 115.4h0M1740.3 125.0h0M1768.2 118.5h0M1762.1 110.7h0M1755.5 145.7h0M1737.0 134.1h0M1764.8 100.5h0M1736.6 110.3h0M1762.6 116.2h0M1750.3 128.5h0M1753.4 123.3h0M1748.7 133.0h0M1743.7 138.9h0M1748.5 112.2h0M1759.1 125.7h0M1730.7 123.2h0M1737.5 111.9h0M1760.6 111.5h0M1755.9 116.7h0M1773.0 119.8h0M1739.4 108.9h0M1742.3 122.1h0M1752.0 131.2h0M1753.9 122.1h0M1755.5 119.3h0M1755.2 129.2h0M1760.5 114.8h0M1732.9 112.0h0M1755.0 93.8h0M1746.9 125.5h0M1745.9 108.6h0M1770.9 135.6h0M1749.2 134.9h0M1766.0 108.5h0M1780.9 110.5h0M1749.1 108.8h0M1752.8 106.4h0M1751.8 132.3h0M1754.2 117.7h0M1768.6 110.9h0M1762.3 117.3h0M1754.2 120.9h0M1753.2 120.0h0M1743.4 114.4h0M1756.6 119.4h0M1739.3 112.9h0M1744.3 119.9h0M1753.7 121.5h0M1744.7 120.7h0M1737.0 89.3h0M1751.2 102.6h0M1741.5 107.4h0M1758.5 107.3h0M1754.7 115.1h0M1738.3 103.3h0M1756.6 124.5h0M1760.0 140.1h0M1754.5 123.3h0M1750.2 121.4h0M1747.8 110.6h0M1773.0 100.1h0M1754.2 125.0h0M1753.1 109.8h0M1749.4 115.2h0M1739.8 119.6h0M1747.0 114.1h0M1758.8 108.6h0M1756.1 113.5h0M1755.9 120.8h0M1753.9 109.4h0M1742.9 110.8h0M1753.2 128.0h0M1762.9 114.6h0M1752.2 102.5h0M1727.3 110.6h0M1744.0 103.2h0M1732.0 125.7h0M1742.5 101.8h0M1776.2 121.7h0M1747.7 127.1h0M1742.9 136.9h0M1734.5 105.7h0M1749.6 111.5h0M1766.3 102.5h0M1743.2 122.3h0M1757.1 130.5h0M1754.7 143.4h0M1745.9 121.6h0M1760.2 116.3h0M1747.8 114.6h0M1744.0 107.5h0M1744.9 102.9h0M1755.0 102.5h0M1773.1 137.9h0M1762.8 117.3h0M1744.5 132.7h0M1752.8 125.6h0M1743.1 131.0h0M1742.2 120.7h0M1732.2 112.5h0M1756.2 114.6h0M1746.0 128.0h0M1750.0 132.8h0M1724.8 125.6h0M1756.2 102.8h0M1736.8 128.9h0M1739.3 112.6h0M1757.2 115.9h0M1755.9 110.1h0M1753.9 131.1h0M1754.2 95.8h0M1757.7 120.1h0M1741.0 134.4h0M1732.0 139.6h0M1743.9 136.4h0M1750.2 105.1h0M1751.7 123.0h0M1756.5 130.8h0M1741.1 124.7h0M1758.6 116.5h0M1740.6 109.1h0M1758.8 128.0h0M1741.8 105.0h0M1764.0 102.7h0M1752.4 110.7h0M1731.8 120.7h0M1748.7 134.9h0M1775.1 117.4h0M1761.7 130.6h0M1745.1 110.1h0M1768.0 115.5h0M1750.4 116.3h0M1749.3 112.9h0M1758.7 132.9h0M1746.7 104.6h0M1751.2 103.4h0M1743.8 132.6h0M1775.6 123.4h0M1739.2 127.8h0M1726.6 111.9h0M1767.1 127.4h0M1735.9 101.5h0M1759.9 118.9h0M1744.3 123.8h0M1744.5 98.7h0M1759.4 112.4h0M1739.9 105.1h0M1753.4 110.7h0M1757.4 116.5h0M1762.3 115.2h0M1743.7 98.2h0M1738.9 127.1h0M1783.5 105.9h0M1739.5 123.0h0M1755.8 112.1h0M1751.5 102.1h0M1747.5 129.1h0M1673.8 201.1h0M1653.4 207.8h0M1668.1 208.1h0M1648.1 206.7h0M1666.6 195.3h0M1641.9 208.4h0M1660.1 213.3h0M1657.2 196.0h0M1651.5 191.9h0M1646.1 196.9h0M1651.0 214.9h0M1643.1 202.4h0M1649.9 218.9h0M1659.1 198.9h0M1665.0 203.7h0M1651.1 219.5h0M1663.9 221.5h0M1668.7 211.3h0M1657.7 191.3h0M1663.9 203.8h0M1663.6 202.9h0M1648.9 192.2h0M1663.8 216.9h0M1653.2 207.9h0M1671.2 194.1h0M1652.7 191.0h0M1669.0 205.9h0M1651.4 185.3h0M1654.4 213.8h0M1653.2 198.5h0M1663.2 189.8h0M1656.9 209.5h0M1648.0 194.2h0M1659.0 202.0h0M1653.8 205.3h0M1658.8 193.2h0M1649.2 207.9h0M1668.4 217.6h0M1647.3 214.8h0M1664.5 202.8h0M1661.6 212.0h0M1675.6 191.8h0M1662.9 201.6h0M1654.2 215.4h0M1665.2 192.3h0M1653.4 205.6h0M1641.3 212.4h0M1655.6 204.9h0M1660.0 222.5h0M1656.8 199.3h0M1675.1 197.8h0M1650.8 188.3h0M1668.0 206.1h0M1661.5 204.9h0M1655.0 194.8h0M1648.1 207.8h0M1657.8 220.6h0M1648.4 198.0h0M1645.6 217.9h0M1643.3 211.4h0M1671.9 201.7h0M1664.2 180.5h0M1652.4 185.5h0M1658.3 203.3h0M1648.3 213.3h0M1660.3 197.6h0M1651.0 187.5h0M1654.5 225.8h0M1648.9 207.7h0M1650.7 211.8h0M1661.2 200.7h0M1637.5 197.7h0M1669.3 200.6h0M1663.2 198.1h0M1636.6 207.8h0M1659.9 197.1h0M1652.6 206.3h0M1650.2 206.9h0M1654.4 178.1h0M1655.0 196.9h0M1647.6 207.5h0M1651.3 209.0h0M1668.2 204.8h0M1640.0 195.4h0M1666.3 200.5h0M1647.9 202.3h0M1661.9 206.0h0M1663.5 194.5h0M1653.6 200.6h0M1656.3 180.9h0M1654.1 189.0h0M1671.4 219.9h0M1674.5 211.9h0M1651.4 213.5h0M1654.4 209.8h0M1647.0 197.0h0M1661.6 222.2h0M1656.3 227.4h0M1686.0 189.6h0M1656.3 193.1h0M1655.1 197.6h0M1655.9 213.6h0M1666.6 206.1h0M1656.7 204.6h0M1658.0 209.5h0M1656.7 208.7h0M1642.7 211.8h0M1675.3 205.3h0M1641.5 217.8h0M1653.1 171.4h0M1654.3 209.8h0M1660.7 216.6h0M1663.3 204.7h0M1635.5 191.5h0M1658.6 210.6h0M1645.7 196.8h0M1661.7 183.0h0M1635.9 200.9h0M1659.4 198.2h0M1632.2 203.6h0M1642.5 210.4h0M1655.6 206.2h0M1663.5 197.7h0M1665.5 216.7h0M1660.9 217.6h0M1650.0 213.2h0M1659.5 192.8h0M1655.8 197.7h0M1650.8 204.3h0M1668.0 200.0h0M1658.0 187.7h0M1657.8 215.7h0M1665.3 208.5h0M1651.0 193.0h0M1655.7 189.1h0M1643.5 213.5h0M1646.9 222.6h0M1641.4 208.0h0M1644.1 205.2h0M1645.6 203.8h0M1655.0 198.5h0M1662.2 219.5h0M1650.4 212.8h0M1657.6 203.1h0M1680.1 180.2h0M1649.4 184.0h0M1653.3 200.9h0M1697.4 207.1h0M1675.9 217.3h0M1652.0 208.5h0M1674.5 205.2h0M1658.9 208.8h0M1640.6 194.7h0M1660.3 209.2h0M1646.8 199.9h0M1655.4 201.7h0M1664.1 204.5h0M1658.4 188.2h0M1645.4 206.8h0M1639.6 206.2h0M1649.6 194.7h0M1663.6 196.1h0M1647.4 196.1h0M1657.2 232.8h0M1633.9 203.1h0M1654.0 213.5h0M1652.6 176.8h0M1670.8 191.6h0M1655.9 188.6h0M1644.8 197.9h0M1665.8 212.3h0M1650.1 208.6h0M1652.6 204.5h0M1658.2 209.9h0M1649.9 201.8h0M1658.9 204.2h0M1648.0 221.7h0M1651.6 211.3h0M1658.7 216.3h0M1633.1 225.2h0M1654.2 190.0h0M1657.9 227.4h0M1661.9 190.0h0M1651.5 217.5h0M1641.4 201.2h0M1653.3 226.4h0M1653.3 217.3h0M1649.2 194.6h0M1667.3 209.9h0M1637.9 210.0h0M1663.4 196.6h0M1658.8 206.1h0M1651.3 196.9h0M1649.3 200.2h0M1642.2 202.7h0M1640.4 204.0h0M1655.5 192.0h0M1665.6 223.9h0M1670.7 188.5h0M1670.1 205.5h0M1655.9 196.8h0M1656.4 218.0h0M1662.3 198.7h0M1649.3 198.7h0M1662.7 223.1h0M1645.1 203.1h0M1652.3 195.1h0M1660.7 209.0h0M1641.2 192.0h0M1669.2 206.5h0M1662.0 197.8h0M1652.4 208.0h0M1651.1 191.2h0M1656.4 212.8h0M1645.4 214.4h0M1663.9 193.9h0M1656.5 202.7h0M1663.2 210.3h0M1642.5 188.7h0M1667.4 204.3h0M1660.9 206.7h0M1672.8 190.2h0M1668.1 194.4h0M1664.2 217.5h0M1641.6 207.4h0M1653.5 200.0h0M1656.9 191.9h0M1646.1 210.2h0M1665.5 197.1h0M1640.9 227.9h0M1668.2 207.0h0M1645.4 196.9h0M1659.0 192.9h0M1673.5 204.6h0M1660.6 192.2h0M1646.8 194.7h0M1659.4 200.3h0M1653.4 206.5h0M1658.8 218.9h0M1654.3 192.3h0M1656.3 218.7h0M1650.5 203.7h0M1652.6 207.4h0M1659.2 194.5h0M1654.0 213.1h0M1668.1 212.9h0M1665.6 199.6h0M1652.6 213.0h0M1644.0 202.5h0M1636.7 199.1h0M1648.9 190.3h0M1662.6 195.3h0M1652.5 200.4h0M1648.6 218.2h0M1651.2 205.2h0M1642.6 198.1h0M1653.0 199.9h0M1650.2 204.7h0M1673.0 201.7h0M1655.0 199.0h0M1683.4 220.3h0M1662.4 210.6h0M1648.9 201.5h0M1658.7 204.4h0M1647.4 194.9h0M1661.9 206.5h0M1634.1 204.1h0M1669.9 196.3h0M1659.0 187.8h0M1665.3 191.4h0M1643.2 199.8h0M1681.6 196.7h0M1643.1 208.1h0M1658.9 220.7h0M1643.0 186.3h0M1653.1 207.2h0M1660.3 214.7h0M1640.7 194.4h0M1655.1 212.1h0M1661.5 198.7h0M1645.7 212.5h0M1666.5 231.9h0M1654.6 220.4h0M1643.7 197.4h0M1649.3 198.3h0M1647.2 197.4h0M1655.9 198.4h0M1663.5 202.3h0M1656.5 218.8h0M1659.8 204.8h0M1656.3 203.8h0M1662.5 194.7h0M1668.6 219.8h0M1668.7 198.0h0M1639.6 198.6h0M1658.1 211.9h0M1654.6 200.0h0M1672.6 196.1h0M1667.8 212.8h0M1642.4 206.1h0M1650.6 193.2h0M1636.9 186.6h0M1660.9 199.1h0M1659.4 191.9h0M1653.1 200.3h0M1640.1 185.6h0M1661.1 204.7h0M1646.6 202.1h0M1663.5 222.6h0M1647.1 209.7h0M1678.9 203.9h0M1672.0 175.8h0M1671.8 203.1h0M1636.6 211.4h0M1667.6 216.0h0M1669.2 202.9h0M1648.6 198.3h0M1656.1 207.5h0M1651.4 203.7h0M1665.8 206.6h0M1680.8 226.0h0M1644.3 197.2h0M1642.6 190.8h0M1662.3 192.7h0M1645.4 200.3h0M1665.0 199.4h0M1652.7 212.9h0M1661.5 208.0h0M1666.5 192.5h0M1658.8 196.5h0M1667.4 211.8h0M1645.4 217.4h0M1644.1 215.6h0M1658.7 193.9h0M1644.6 200.0h0M1656.2 195.6h0M1662.5 188.3h0M1656.4 203.2h0M1636.6 206.5h0M1643.1 176.6h0M1650.0 200.7h0M1666.1 198.0h0M1672.1 218.5h0M1668.1 217.2h0M1660.2 197.3h0M1663.4 213.5h0M1659.0 200.6h0M1639.8 210.4h0M1660.2 189.3h0M1657.5 210.9h0M1655.3 211.5h0M1664.5 187.4h0M1653.3 208.3h0M1666.2 218.2h0M1636.0 202.5h0M1664.1 216.2h0M1674.5 193.2h0M1652.5 191.9h0M1665.2 189.1h0M1669.1 213.2h0M1661.7 180.0h0M1649.2 211.2h0M1641.4 200.6h0M1655.4 212.7h0M1659.5 206.1h0M1651.8 203.2h0M1655.0 210.9h0M1654.6 214.2h0M1638.3 216.0h0M1654.6 215.2h0M1657.4 212.3h0M1672.4 197.2h0M1657.3 201.3h0M1658.7 185.9h0M1654.6 200.5h0M1648.1 201.1h0M1640.0 218.1h0M1661.2 223.3h0M1647.1 190.7h0M1659.5 185.3h0M1658.9 195.6h0M1652.9 205.9h0M1656.9 223.0h0M1663.2 189.3h0M1666.9 188.8h0M1657.4 189.8h0M1647.6 217.1h0M1650.5 196.2h0M1650.4 199.8h0M1671.8 190.5h0M1643.2 209.3h0M1639.4 199.2h0M1668.5 203.1h0M1651.3 195.5h0M1646.6 196.8h0M1657.8 216.3h0M1666.7 197.0h0M1648.5 210.5h0M1637.0 198.3h0M1652.8 191.2h0M1645.7 206.7h0M1638.6 193.2h0M1649.3 203.8h0M1641.6 214.5h0M1652.9 200.1h0M1652.3 195.7h0M1645.7 215.1h0M1658.3 201.7h0M1666.8 195.3h0M1662.8 203.1h0M1646.6 210.9h0M1640.2 209.7h0M1646.7 207.1h0M1670.8 208.8h0M1649.6 202.4h0M1652.1 190.2h0M1644.2 203.2h0M1661.7 183.9h0M1655.2 208.1h0M1657.1 192.0h0M1666.9 189.7h0M1662.8 219.6h0M1634.2 205.3h0M1659.2 205.0h0M1647.7 199.3h0M1641.0 204.0h0M1661.6 195.5h0M1646.0 197.5h0M1655.7 203.2h0M1654.7 203.2h0M1641.9 173.6h0M1662.3 217.6h0M1640.8 195.4h0M1659.0 212.6h0M1662.6 216.0h0M1655.2 206.9h0M1660.1 197.9h0M1668.5 209.1h0M1666.1 198.3h0M1666.7 191.3h0M1659.9 174.8h0M1645.1 210.2h0M1651.0 204.3h0M1638.6 218.8h0M1662.0 202.2h0M1660.1 205.9h0M1670.7 204.7h0M1640.2 199.7h0M1669.3 208.4h0M1651.3 208.9h0M1657.0 208.9h0M1639.0 192.9h0M1662.8 200.1h0M1659.4 223.1h0M1652.4 205.0h0M1649.8 195.8h0M1654.9 187.1h0M1633.5 216.8h0M1654.6 214.3h0M1657.0 204.0h0M1662.8 210.0h0M1643.0 215.2h0M1645.5 204.6h0M1682.7 203.3h0M1673.3 198.8h0M1662.2 203.0h0M1660.1 193.4h0M1646.0 206.0h0M1639.2 193.5h0M1662.5 195.9h0M1646.4 190.7h0M1657.3 198.6h0M1657.3 200.5h0M1675.3 197.8h0M1635.1 203.7h0M1655.8 204.1h0M1638.8 214.4h0M1655.4 202.0h0M1639.1 207.4h0M1655.1 216.7h0M1651.4 189.4h0M1657.1 192.8h0M1660.1 191.0h0M1654.4 200.1h0M1655.4 197.0h0M1647.2 201.8h0M1649.7 204.0h0M1652.9 178.9h0M1655.1 217.0h0M1658.9 208.7h0M1660.5 197.5h0M1641.8 210.9h0M1666.8 208.4h0M1660.2 206.6h0M1655.5 205.3h0M1655.9 205.9h0M1645.9 195.9h0M1661.7 198.9h0M1630.5 203.8h0M1631.9 222.4h0M1663.3 209.5h0M1648.8 190.7h0M1653.6 202.7h0M1647.8 204.1h0M1662.9 208.7h0M1645.0 180.0h0M1655.8 195.7h0M1660.4 219.5h0M1672.8 205.5h0M1667.3 219.6h0M1656.3 205.4h0M1664.7 202.2h0M1650.7 194.8h0M1655.9 196.1h0M1664.1 199.1h0M1671.0 215.1h0M1643.1 213.8h0M1651.7 216.8h0M1661.2 202.2h0M1662.9 196.9h0M1659.3 206.6h0M1654.5 206.7h0M1645.7 208.4h0M1643.5 209.1h0M1660.9 210.0h0M1650.3 234.0h0M1653.7 204.3h0M1648.3 217.5h0M1651.3 213.0h0M1646.4 206.0h0M1652.3 212.4h0M1653.2 194.0h0M1660.8 190.6h0M1646.4 210.8h0M1637.0 210.7h0M1652.1 193.5h0M1658.7 209.4h0M1650.3 201.2h0M1664.5 210.7h0M1655.8 195.1h0M1646.6 196.9h0M1663.3 208.9h0M1659.4 217.3h0M1653.3 199.2h0M1652.4 222.6h0M1635.4 206.1h0M1661.0 203.8h0M1680.3 215.1h0M1664.3 194.0h0M1661.5 199.4h0M1656.9 205.2h0M1651.6 209.7h0M1673.1 213.8h0M1658.7 183.6h0M1667.6 214.2h0M1654.6 198.4h0M1663.3 195.1h0M1664.7 192.3h0M1647.3 203.5h0M1641.8 203.4h0M1662.1 190.0h0M1666.1 197.7h0M1662.2 205.5h0M1652.0 198.1h0M1639.4 196.3h0M1648.9 220.1h0M1667.0 189.5h0M1664.8 205.7h0M1652.9 208.1h0M1664.7 197.7h0M1653.9 205.1h0M1646.8 205.3h0M1655.9 196.6h0M1648.2 206.5h0M1665.6 206.8h0M1648.1 211.0h0M1658.5 209.4h0M1668.5 194.3h0M1655.3 197.4h0M1647.9 223.7h0M1666.3 185.6h0M1661.1 197.9h0M1668.4 204.3h0M1655.0 204.9h0M1660.7 203.8h0M1654.6 202.1h0M1661.9 192.1h0M1656.8 202.3h0M1651.9 210.9h0M1643.8 199.8h0M1648.2 209.0h0M1652.1 204.0h0M1660.7 187.4h0M1661.4 195.9h0M1654.2 202.4h0M1665.0 210.9h0M1674.6 205.3h0M1652.0 198.4h0M1663.4 219.7h0M1660.2 197.7h0M1659.6 206.1h0M1657.1 196.0h0M1631.2 198.1h0M1667.4 205.6h0M1634.5 203.6h0M1638.2 223.6h0M1658.7 191.4h0M1664.8 195.6h0M1662.5 203.7h0M1644.9 210.2h0M1643.3 217.0h0M1657.4 193.1h0M1638.5 219.8h0M1671.4 190.8h0M1673.4 205.2h0M1654.6 202.6h0M1654.1 217.9h0M1658.3 184.9h0M1677.9 212.4h0M1645.8 199.9h0M1647.7 204.0h0M1660.8 205.9h0M1650.8 195.4h0M1665.3 202.5h0M1679.5 195.4h0M1664.8 204.0h0M1649.1 217.2h0M1658.0 194.5h0M1653.6 213.8h0M1644.4 217.4h0M1663.7 200.7h0M1670.5 221.1h0M1662.8 205.2h0M1675.4 218.6h0M1647.4 201.4h0M1654.6 199.3h0M1641.7 212.6h0M1657.6 204.5h0M1671.0 197.8h0M1656.2 206.3h0M1652.4 202.4h0M1664.6 203.4h0M1670.3 195.9h0M1658.8 189.0h0M1655.6 196.4h0M1670.6 211.0h0M1662.0 222.2h0M1671.4 210.8h0M1649.8 188.8h0M1656.5 199.9h0M1650.2 200.5h0M1640.0 218.7h0M1645.2 196.7h0M1662.6 186.9h0M1666.2 213.0h0M1653.6 192.5h0M1652.0 184.7h0M1670.9 204.1h0M1649.3 194.2h0M1662.6 218.8h0M1643.8 197.6h0M1638.9 210.4h0M1658.4 226.6h0M1655.5 199.1h0M1649.6 212.2h0M1640.2 211.2h0M1659.3 198.3h0M1647.6 214.3h0M1675.8 198.9h0M1662.2 221.3h0M1650.5 200.9h0M1644.3 202.0h0M1656.0 199.2h0M1649.2 187.3h0M1643.0 193.5h0M1663.4 198.3h0M1648.1 210.2h0M1662.6 195.8h0M1650.4 210.3h0M1660.5 194.9h0M1659.3 203.2h0M1668.2 194.6h0M1665.9 207.9h0M1646.4 214.3h0M1666.2 189.9h0M1677.2 191.7h0M1647.3 200.2h0M1664.7 209.5h0M1655.8 217.6h0M1661.0 217.9h0M1685.9 205.5h0M1630.2 198.8h0M1645.7 204.5h0M1657.8 190.8h0M1644.9 200.8h0M1654.8 176.5h0M1666.9 203.8h0M1656.7 206.6h0M1646.2 203.0h0M1667.6 214.7h0M1661.6 200.6h0M1648.2 217.3h0M1662.3 199.1h0M1634.1 194.4h0M1636.6 216.6h0M1658.8 195.7h0M1653.9 230.8h0M1669.6 189.4h0M1655.4 190.5h0M1638.6 205.3h0M1682.3 220.0h0M1657.3 199.5h0M1658.9 214.4h0M1641.3 183.7h0M1676.7 206.5h0M1673.8 206.0h0M1672.5 197.0h0M1662.1 220.0h0M1667.7 198.6h0M1666.3 196.4h0M1641.6 209.1h0M1671.7 212.6h0M1643.4 212.8h0M1664.0 198.6h0M1630.2 214.3h0M1666.3 208.8h0M1638.3 187.6h0M1667.6 212.1h0M1662.1 200.9h0M1661.0 197.7h0M1653.5 194.2h0M1659.6 199.0h0M1667.0 211.2h0M1648.1 223.2h0M1644.7 208.3h0M1668.4 217.3h0M1633.1 214.3h0M1669.9 219.0h0M1632.9 196.2h0M1655.7 198.7h0M1671.2 196.2h0M1670.0 209.5h0M1641.1 192.8h0M1651.7 204.5h0M1667.5 201.5h0M1666.6 186.5h0M1623.9 199.9h0M1661.8 199.6h0M1645.9 208.1h0M1677.7 202.4h0M1649.0 194.4h0M1678.0 203.1h0M1663.4 216.7h0M1668.4 193.5h0M1667.1 212.6h0M1662.1 214.4h0M1650.7 202.7h0M1651.1 211.7h0M1649.7 207.7h0M1645.0 202.2h0M1652.9 202.3h0M1658.2 201.5h0M1654.4 181.1h0M1668.7 196.8h0M1654.2 194.6h0M1667.6 193.7h0M1662.2 216.2h0M1674.6 216.3h0M1663.5 190.6h0M1670.7 216.3h0M1665.9 212.2h0M1657.7 198.0h0M1668.5 217.3h0M1645.7 213.4h0M1659.5 213.1h0M1659.8 215.6h0M1667.9 213.2h0M1642.1 212.5h0M1657.5 191.5h0M1664.5 188.9h0M1666.6 221.9h0M1651.6 213.6h0M1661.8 210.7h0M1642.5 210.2h0M1658.4 211.7h0M1657.1 215.5h0M1660.0 211.0h0M1671.7 205.7h0M1667.7 206.2h0M1662.7 198.1h0M1665.4 216.9h0M1656.2 212.3h0M1661.7 192.0h0M1660.9 217.9h0M1651.9 184.8h0M1659.3 197.0h0M1677.4 203.4h0M1657.1 197.2h0M1659.8 197.9h0M1647.6 203.2h0M1648.6 217.9h0M1644.8 203.1h0M1649.9 189.2h0M1674.8 181.6h0M1672.6 188.9h0M1658.1 227.9h0M1634.6 189.3h0M1671.1 205.7h0M1651.4 203.5h0M1647.0 205.2h0M1673.0 199.8h0M1658.7 216.6h0M1678.2 197.7h0M1660.4 197.9h0M1650.4 199.6h0M1650.5 185.6h0M1636.1 196.1h0M1658.6 216.7h0M1651.6 202.1h0M1664.2 211.7h0M1656.0 203.3h0M1677.0 200.3h0M1652.0 186.7h0M1661.8 201.1h0M1677.4 200.3h0M1665.8 213.8h0M1674.6 190.0h0M1673.7 204.0h0M1656.1 200.6h0M1653.0 200.2h0M1632.5 209.3h0M1657.8 193.8h0M1656.5 228.2h0M1661.2 199.8h0M1675.2 195.5h0M1655.6 198.0h0M1654.7 211.6h0M1663.3 196.2h0M1655.8 204.8h0M1652.9 203.5h0M1649.6 196.1h0M1657.6 193.0h0M1661.6 201.8h0M1647.4 197.4h0M1652.1 202.2h0M1658.3 201.6h0M1648.0 218.9h0M1666.7 205.0h0M1667.1 207.3h0M1654.4 204.7h0M1685.1 214.3h0M1668.1 199.7h0M1663.4 227.5h0M1661.6 215.1h0M1670.3 210.6h0M1673.6 206.2h0M1662.3 197.2h0M1684.8 207.0h0M1658.3 218.4h0M1652.0 203.8h0M1648.9 204.0h0M1653.0 209.5h0M1655.8 197.5h0M1654.0 202.6h0M1651.7 213.6h0M1664.1 205.3h0M1644.7 209.2h0M1643.7 205.7h0M1657.6 197.6h0M1648.4 196.5h0M1678.5 201.0h0M1654.9 213.8h0M1661.5 214.8h0M1644.3 192.4h0M1691.8 203.4h0M1654.1 205.5h0M1667.4 191.4h0M1660.0 203.5h0M1664.1 205.6h0M1651.6 194.8h0M1631.7 214.0h0M1641.8 199.6h0M1674.4 199.4h0M1663.5 201.6h0M1664.4 204.1h0M1651.8 217.8h0M1654.3 189.9h0M1653.7 209.4h0M1645.5 212.0h0M1665.0 225.8h0M1650.4 210.7h0M1639.7 199.4h0M1658.2 208.0h0M1656.5 202.8h0M1650.7 199.2h0M1660.3 209.6h0M1663.7 214.1h0M1669.4 185.1h0M1651.7 202.1h0M1650.4 214.6h0M1664.8 202.7h0M1658.3 216.9h0M1653.5 200.5h0M1666.5 208.6h0M1671.8 207.6h0M1664.8 198.1h0M1647.3 203.7h0M1629.6 208.0h0M1667.1 204.6h0M1654.8 215.0h0M1656.6 213.9h0M1679.8 211.3h0M1666.8 208.9h0M1659.7 206.6h0M1657.8 215.0h0M1640.4 201.0h0M1663.9 195.1h0M1656.0 196.6h0M1661.6 212.7h0M1672.1 209.0h0M1649.7 206.4h0M1663.0 218.4h0M1634.9 207.6h0M1638.2 211.2h0M1661.7 208.9h0M1666.2 207.8h0M1650.4 207.4h0M1669.5 202.6h0M1657.4 191.3h0M1669.1 198.6h0M1649.4 199.2h0M1648.2 201.2h0M1670.2 212.0h0M1671.8 219.1h0M1647.9 208.7h0M1672.5 227.5h0M1642.5 189.1h0M1661.9 200.3h0M1646.8 207.7h0M1649.0 180.4h0M1656.8 205.1h0M1663.6 213.5h0M1658.9 201.3h0M1650.2 186.8h0M1652.5 214.0h0M1663.8 224.9h0M1655.5 185.3h0M1665.6 214.4h0M1645.0 187.1h0M1658.6 211.1h0M1645.5 200.2h0M1649.0 191.5h0M1643.4 205.2h0M1653.2 196.8h0M1630.1 221.7h0M1647.3 202.3h0M1645.3 207.6h0M1641.4 204.6h0M1655.0 213.1h0M1645.7 197.0h0M1654.5 225.3h0M1641.8 206.7h0M1650.2 206.9h0M1663.7 205.1h0M1659.6 206.5h0M1650.9 201.4h0M1639.8 200.0h0M1649.0 201.0h0M1664.5 207.5h0M1661.8 215.0h0M1632.3 208.0h0M1656.6 202.6h0M1643.4 209.3h0M1668.7 214.2h0M1656.0 210.2h0M1666.4 222.4h0M1669.5 205.0h0M1657.8 205.3h0M1659.2 198.4h0M1664.8 196.4h0M1648.6 207.2h0M1650.9 201.0h0M1635.4 211.7h0M1656.8 202.2h0M1661.6 205.7h0M1649.6 224.2h0M1652.2 213.6h0M1675.7 197.1h0M1657.8 195.1h0M1667.7 200.1h0M1645.5 217.1h0M1666.3 194.4h0M1669.0 205.5h0M1684.8 221.2h0M1651.1 200.7h0M1647.8 204.9h0M1657.3 211.1h0M1657.7 188.4h0M1648.5 218.1h0M1668.7 201.8h0M1655.4 201.8h0M1657.0 186.2h0M1666.0 196.7h0M1658.3 177.5h0M1659.2 217.3h0M1633.8 219.2h0M1661.7 195.9h0M1640.5 215.5h0M1659.5 209.6h0M1654.0 195.3h0M1665.8 193.7h0M1666.1 186.3h0M1647.3 188.5h0M1670.3 185.4h0M1645.0 210.3h0M1659.2 226.1h0M1675.8 209.9h0M1663.9 184.7h0M1647.7 200.1h0M1655.0 189.3h0M1647.2 194.8h0M1667.8 207.9h0M1653.4 200.7h0M1659.8 196.3h0M1654.1 185.7h0M1663.7 213.4h0M1660.5 208.4h0M1660.6 224.6h0M1658.9 189.8h0M1646.0 210.8h0M1667.8 211.5h0M1665.5 205.4h0M1641.4 196.2h0M1638.1 199.5h0M1642.7 204.5h0M1655.0 183.3h0M1664.4 211.3h0M1642.4 205.0h0M1664.2 200.4h0M1665.6 205.4h0M1667.9 205.4h0M1655.0 208.7h0M1664.8 206.0h0M1652.1 195.2h0M1652.8 197.5h0M1658.8 205.2h0M1655.8 203.4h0M1658.5 219.6h0M1669.2 197.4h0M1661.0 199.9h0M1655.6 200.8h0M1650.2 189.2h0M1631.0 205.4h0M1668.9 193.9h0M1661.9 199.3h0M1659.5 194.9h0M1654.2 202.2h0M1631.9 205.6h0M1655.2 177.5h0M1663.4 202.9h0M1658.7 207.0h0M1652.2 192.1h0M1651.9 198.8h0M1679.7 222.5h0M1651.5 198.9h0M1659.9 209.1h0M1649.3 192.8h0M1676.7 214.3h0M1640.3 184.8h0M1647.9 205.5h0M1662.2 199.7h0M1639.6 205.5h0M1662.8 203.2h0M1651.3 209.2h0M1655.9 191.4h0M1657.5 189.6h0M1666.6 208.1h0M1646.0 205.4h0M1669.6 180.7h0M1655.0 220.5h0M1640.2 201.4h0M1641.5 202.5h0M1631.2 186.1h0M1650.8 204.6h0M1660.5 207.7h0M1668.6 210.5h0M1664.3 192.8h0M1654.8 236.8h0M1680.4 211.9h0M1664.3 213.6h0M1652.2 223.9h0M1652.5 202.3h0M1679.5 181.2h0M1660.3 184.9h0M1649.6 202.2h0M1652.7 205.0h0M1648.3 202.1h0M1643.9 199.1h0M1641.7 210.1h0M1642.7 210.5h0M1652.1 200.0h0M1669.0 204.3h0M1636.3 208.5h0M1625.6 206.0h0M1652.2 188.3h0M1657.3 199.9h0M1677.9 198.5h0M1677.2 217.9h0M1650.0 194.5h0M1670.6 201.7h0M1658.2 200.5h0M1643.5 199.2h0M1646.2 186.8h0M1653.3 222.3h0M1673.8 202.5h0M1657.9 208.7h0M1671.1 206.6h0M1651.4 199.0h0M1668.6 231.1h0M1649.8 181.2h0M1665.2 202.4h0M1658.0 216.5h0M1657.2 188.9h0M1635.4 202.7h0M1644.0 206.3h0M1642.8 199.4h0M1640.7 199.3h0M1651.7 209.6h0M1670.9 201.2h0M1647.2 224.2h0M1660.4 209.8h0M1663.0 218.9h0M1667.4 210.5h0M1664.8 194.0h0M1650.0 202.1h0M1657.5 203.4h0M1659.8 203.5h0M1651.9 185.7h0M1665.5 209.6h0M1647.1 208.6h0M1660.8 204.0h0M1636.7 190.2h0M1650.0 220.6h0M1647.3 199.5h0M1644.6 197.9h0M1660.2 180.9h0M1625.9 210.4h0M1656.9 196.7h0M1667.0 213.7h0M1633.9 201.4h0M1668.5 196.0h0M1653.1 213.5h0M1653.6 190.3h0M1649.1 188.9h0M1662.5 184.6h0M1667.3 185.5h0M1657.0 187.4h0M1653.1 214.2h0M1668.6 217.3h0M1655.6 204.4h0M1659.0 209.9h0M1652.2 215.1h0M1660.0 215.6h0M1661.7 210.5h0M1648.6 198.7h0M1642.6 200.0h0M1654.6 212.2h0M1642.9 238.1h0M1655.2 216.8h0M1667.7 176.0h0M1653.7 219.1h0M1630.3 211.5h0M1646.6 198.2h0M1658.9 183.1h0M1658.6 196.2h0M1648.4 210.8h0M1694.4 206.9h0M1662.5 202.7h0M1648.7 206.0h0M1672.9 205.2h0M1666.1 200.7h0M1683.7 185.4h0M1662.8 209.0h0M1659.4 191.1h0M1644.2 200.6h0M1657.5 190.1h0M1644.9 209.2h0M1667.6 197.1h0M1648.9 195.3h0M1683.2 208.4h0M1655.7 214.0h0M1681.2 215.8h0M1641.0 202.2h0M1652.0 199.4h0M1643.3 198.9h0M1644.7 206.8h0M1656.9 187.8h0M1637.9 197.9h0M1663.4 208.4h0M1655.7 167.3h0M1651.0 195.1h0M1652.7 189.9h0M1651.7 195.9h0M1685.8 210.7h0M1654.3 202.5h0M1655.1 205.1h0M1652.0 202.9h0M1667.5 212.1h0M1659.7 217.5h0M1658.8 192.4h0M1637.4 195.5h0M1655.7 207.4h0M1668.0 196.8h0M1647.6 211.4h0M1669.1 197.9h0M1660.0 218.0h0M1659.8 202.5h0M1633.9 217.4h0M1663.3 204.4h0M1651.3 189.6h0M1655.3 201.9h0M1668.3 189.9h0M1672.0 203.4h0M1669.2 192.6h0M1660.1 216.3h0M1657.6 187.1h0M1652.8 208.9h0M1641.2 187.4h0M1658.9 192.8h0M1663.7 190.3h0M1636.5 194.7h0M1672.5 193.7h0M1656.3 205.7h0M1646.1 214.9h0M1658.3 207.9h0M1638.2 184.1h0M1626.6 201.0h0M1653.9 210.9h0M1672.5 200.3h0M1653.5 208.0h0M1672.9 194.2h0M1663.2 200.4h0M1652.8 211.9h0M1647.8 191.5h0M1663.6 202.8h0M1653.6 201.7h0M1661.8 199.1h0M1664.7 207.6h0M1672.4 216.8h0M1665.7 200.9h0M1657.7 196.7h0M1687.2 200.7h0M1662.4 217.8h0M1641.7 194.2h0M1652.2 192.4h0M1642.7 197.5h0M1670.4 211.0h0M1656.8 203.4h0M1638.5 210.7h0M1661.1 191.5h0M1658.7 201.1h0M1650.9 192.5h0M1649.2 193.0h0M1661.4 207.1h0M1659.9 201.2h0M1652.1 225.2h0M1636.4 216.1h0M1660.3 203.9h0M1651.0 200.8h0M1643.7 188.2h0M1655.3 185.3h0M1665.5 215.2h0M1619.3 186.4h0M1659.4 205.5h0M1657.7 207.7h0M1664.6 212.5h0M1675.8 203.5h0M1665.8 185.7h0M1655.1 190.0h0M1671.6 228.4h0M1662.4 189.2h0M1655.3 203.5h0M1658.7 215.0h0M1666.8 174.6h0M1671.3 197.9h0M1650.5 218.5h0M1653.7 188.4h0M1642.2 203.9h0M1666.3 219.5h0M1654.7 198.2h0M1674.1 198.3h0M1672.3 205.8h0M1659.1 200.7h0M1659.8 198.2h0M1649.2 201.8h0M1649.5 206.5h0M1657.5 200.4h0M1654.4 200.8h0M1675.3 203.2h0M1650.1 200.1h0M1663.7 201.1h0M1654.9 200.5h0M1658.3 207.5h0M1661.3 185.6h0M1645.0 174.9h0M1665.2 215.2h0M1670.6 204.8h0M1668.9 202.8h0M1655.2 186.6h0M1648.1 196.9h0M1666.5 221.1h0M1651.5 207.3h0M1659.5 194.9h0M1638.0 195.1h0M1641.0 199.8h0M1655.0 201.3h0M1654.7 208.4h0M1646.5 212.8h0M1638.5 203.9h0M1660.7 194.7h0M1639.3 210.1h0M1649.2 211.6h0M1664.8 203.1h0M1656.5 213.9h0M1660.6 193.1h0M1658.3 209.2h0M1658.7 205.2h0M1654.9 201.9h0M1646.4 187.8h0M1668.6 196.4h0M1658.9 187.1h0M1658.2 194.3h0M1688.4 192.2h0M1646.1 213.3h0M1668.7 180.6h0M1659.2 212.6h0M1643.3 210.5h0M1650.8 192.5h0M1652.7 198.2h0M1641.6 227.2h0M1651.6 195.2h0M1665.7 202.4h0M1670.8 200.3h0M1660.3 204.2h0M1658.3 201.0h0M1655.4 221.2h0M1649.2 197.3h0M1652.8 209.3h0M1660.8 213.2h0M1642.1 206.0h0M1654.6 200.1h0M1658.2 182.1h0M1659.4 204.7h0M1641.2 202.2h0M1673.1 199.0h0M1662.8 200.8h0M1647.8 193.3h0M1652.2 217.1h0M1665.2 195.6h0M1667.2 201.8h0M1649.1 207.8h0M1646.7 186.4h0M1670.3 183.6h0M1662.3 186.9h0M1656.2 201.1h0M1651.8 179.8h0M1655.3 202.8h0M1646.9 202.5h0M1667.1 195.5h0M1659.3 190.9h0M1660.6 210.0h0M1683.0 212.9h0M1661.1 218.2h0M1645.9 214.7h0M1650.7 196.6h0M1668.2 205.7h0M1670.7 187.8h0M1659.4 197.6h0M1653.7 182.9h0M1666.5 205.5h0M1646.1 188.9h0M1647.3 218.1h0M1655.5 199.7h0M1661.8 203.4h0M1659.1 211.2h0M1660.1 212.7h0M1644.0 204.0h0M1652.9 204.5h0M1656.2 196.6h0M1653.0 213.4h0M1650.8 190.2h0M1663.0 213.7h0M1653.8 204.8h0M1647.8 201.3h0M1668.4 211.9h0M1658.3 200.5h0M1639.5 206.8h0M1661.6 214.6h0M1678.1 207.5h0M1666.9 191.7h0M1669.5 212.7h0M1671.2 210.6h0M1661.6 219.1h0M1649.8 210.3h0M1668.3 195.2h0M1644.7 208.1h0M1658.2 210.0h0M1663.7 195.5h0M1660.4 215.5h0M1653.1 200.6h0M1645.0 212.2h0M1677.5 189.2h0M1664.9 213.1h0M1651.0 199.7h0M1645.9 195.4h0M1658.7 210.5h0M1658.2 212.7h0M1659.1 191.4h0M1672.2 216.1h0M1649.5 222.3h0M1661.9 205.1h0M1677.2 177.4h0M1640.1 211.2h0M1654.4 193.8h0M1672.9 208.9h0M1643.6 196.8h0M1665.9 222.6h0M1636.0 206.4h0M1653.1 185.4h0M1655.3 186.9h0M1651.4 220.8h0M1662.5 212.0h0M1663.4 207.5h0M1667.4 191.5h0M1653.3 212.8h0M1649.5 199.2h0M1669.9 220.0h0M1650.8 195.3h0M1663.3 206.7h0M1650.1 210.2h0M1663.0 204.8h0M1688.2 218.2h0M1665.8 214.7h0M1688.4 215.5h0M1649.6 207.3h0M1658.0 197.9h0M1660.0 206.6h0M1656.6 198.8h0M1666.0 187.1h0M1665.9 204.0h0M1660.1 178.9h0M1675.0 185.7h0M1648.1 210.7h0M1650.9 199.7h0M1633.7 199.3h0M1659.5 211.1h0M1654.2 206.3h0M1661.9 196.8h0M1649.3 224.7h0M1648.3 217.0h0M1658.0 219.5h0M1650.5 209.5h0M1660.8 201.6h0M1660.6 195.9h0M1656.4 199.8h0M1665.3 203.0h0M1642.6 200.1h0M1656.2 194.4h0M1671.4 208.3h0M1666.2 195.9h0M1653.1 214.7h0M1642.1 207.9h0M1658.2 198.7h0M1658.2 192.6h0M1659.7 191.1h0M1643.8 218.8h0M1649.9 181.6h0M1667.6 195.8h0M1619.9 203.4h0M1667.1 207.7h0M1675.5 202.7h0M1663.6 193.3h0M1659.0 220.2h0M1662.6 205.7h0M1636.3 200.0h0M1643.6 212.2h0M1649.5 207.8h0M1646.7 224.0h0M1644.8 205.5h0M1685.2 206.3h0M1648.0 210.5h0M1667.8 213.3h0M1636.4 206.3h0M1634.7 224.2h0M1658.1 199.1h0M1664.5 209.2h0M1644.7 221.3h0M1654.7 185.3h0M1672.2 220.4h0M1670.7 209.9h0M1647.8 214.0h0M1677.2 212.7h0M1674.4 195.8h0M1668.2 214.0h0M1641.4 186.7h0M1649.7 204.9h0M1662.2 201.6h0M1656.7 202.8h0M1658.3 210.3h0M1662.7 203.5h0M1660.1 199.2h0M1665.9 198.7h0M1674.9 203.8h0M1660.3 195.9h0M1653.7 205.8h0M1657.6 197.4h0M1644.9 204.5h0M1659.0 210.0h0M1670.7 200.7h0M1636.0 202.5h0M1637.6 190.3h0M1668.4 210.2h0M1650.5 197.3h0M1656.4 185.3h0M1662.5 200.3h0M1677.1 192.7h0M1668.2 196.8h0M1668.3 193.6h0M1665.3 199.4h0M1648.5 202.5h0M1662.5 208.4h0M1674.4 212.9h0M1629.1 199.8h0M1636.0 200.0h0M1664.1 189.7h0M1644.7 205.7h0M1654.3 221.1h0M1660.9 209.8h0M1676.2 198.7h0M1657.4 193.4h0M1660.2 215.3h0M1672.1 203.7h0M1649.8 195.9h0M1642.4 205.4h0M1672.1 178.6h0M1634.0 219.2h0M1640.1 207.7h0M1643.9 212.6h0M1665.9 206.0h0M1666.4 204.7h0M1663.5 223.8h0M1669.3 197.1h0M1648.8 201.6h0M1655.0 205.0h0M1651.0 211.2h0M1657.9 208.1h0M1657.6 210.9h0M1644.6 221.3h0M1661.3 209.1h0M1664.1 215.9h0M1665.5 206.8h0M1655.6 186.5h0M1659.9 200.9h0M1654.2 230.2h0M1637.5 204.9h0M1670.7 214.7h0M1671.0 190.6h0M1647.2 211.0h0M1654.4 222.8h0M1660.1 206.5h0M1662.4 201.4h0M1658.9 197.1h0M1657.3 199.2h0M1660.4 189.1h0M1641.6 209.4h0M1660.1 194.0h0M1655.3 193.1h0M1679.7 187.5h0M1676.2 195.5h0M1662.3 201.6h0M1653.6 214.5h0M1666.5 201.3h0M1647.9 226.8h0M1672.9 206.0h0M1654.5 207.6h0M1658.6 217.4h0M1647.3 204.7h0M1649.3 218.6h0M1677.2 203.5h0M1663.6 219.7h0M1654.5 194.4h0M1669.0 209.9h0M1655.5 220.2h0M1660.3 185.3h0M1661.5 203.8h0M1678.1 204.3h0M1655.6 209.2h0M1660.4 189.3h0M1659.1 200.9h0M1673.0 230.4h0M1742.1 196.0h0M1745.1 199.3h0M1746.7 207.0h0M1766.0 192.3h0M1737.6 186.5h0M1766.1 220.7h0M1737.6 188.8h0M1755.6 218.2h0M1765.2 208.5h0M1761.6 209.9h0M1748.2 227.0h0M1754.2 194.4h0M1749.2 189.8h0M1754.4 218.3h0M1740.6 218.6h0M1776.8 210.5h0M1741.7 197.2h0M1750.6 192.6h0M1740.7 203.6h0M1752.3 213.0h0M1741.3 226.7h0M1765.7 216.0h0M1747.2 225.2h0M1750.5 226.0h0M1765.8 196.7h0M1749.3 226.6h0M1765.0 204.7h0M1756.4 208.6h0M1745.9 204.3h0M1747.1 201.8h0M1759.3 196.1h0M1762.1 207.6h0M1762.5 216.0h0M1767.7 213.2h0M1761.9 204.5h0M1760.4 196.7h0M1751.6 214.5h0M1753.7 211.3h0M1742.8 221.2h0M1748.0 210.7h0M1754.0 216.5h0M1750.1 195.6h0M1733.7 203.1h0M1741.3 212.2h0M1769.8 182.3h0M1740.3 209.8h0M1767.6 209.7h0M1757.7 211.9h0M1760.5 224.2h0M1760.9 193.0h0M1749.1 208.7h0M1745.4 203.6h0M1748.5 198.8h0M1761.7 202.2h0M1742.4 198.7h0M1754.6 229.3h0M1757.0 222.5h0M1759.6 183.1h0M1758.3 197.2h0M1739.5 194.7h0M1773.6 189.3h0M1747.5 219.0h0M1761.4 187.8h0M1753.0 200.8h0M1752.1 214.6h0M1747.9 202.9h0M1770.1 186.4h0M1750.2 211.5h0M1740.6 199.5h0M1739.9 208.1h0M1747.4 215.0h0M1765.3 206.9h0M1750.1 209.2h0M1754.8 193.1h0M1765.8 208.8h0M1762.8 191.6h0M1763.7 229.3h0M1760.9 190.6h0M1754.6 205.7h0M1756.5 203.8h0M1759.6 201.3h0M1756.7 198.9h0M1755.2 217.2h0M1748.8 213.6h0M1744.5 202.3h0M1751.6 219.9h0M1745.8 219.6h0M1738.2 204.6h0M1764.1 213.9h0M1743.1 193.0h0M1763.7 192.6h0M1760.5 200.6h0M1754.0 231.6h0M1771.0 215.5h0M1739.1 209.8h0M1754.7 205.2h0M1768.7 187.6h0M1757.6 207.7h0M1745.9 225.2h0M1740.3 206.6h0M1755.0 182.4h0M1738.5 195.7h0M1762.7 216.6h0M1760.6 208.9h0M1730.1 208.6h0M1748.5 219.1h0M1768.8 230.7h0M1761.8 215.2h0M1742.8 207.1h0M1740.6 216.1h0M1741.0 203.9h0M1745.1 201.1h0M1759.0 200.1h0M1756.4 195.3h0M1769.3 199.2h0M1765.1 229.6h0M1727.4 195.4h0M1751.8 219.0h0M1748.7 210.4h0M1746.0 212.4h0M1740.7 215.4h0M1721.2 185.5h0M1774.0 208.1h0M1744.2 230.4h0M1765.5 218.6h0M1749.4 213.0h0M1759.6 188.0h0M1760.5 204.2h0M1768.1 220.5h0M1746.9 199.5h0M1756.1 213.4h0M1749.4 204.9h0M1760.7 210.8h0M1766.8 208.8h0M1744.2 186.7h0M1762.9 202.5h0M1750.1 203.0h0M1736.6 201.8h0M1725.2 201.7h0M1744.1 226.4h0M1758.9 203.8h0M1755.7 214.2h0M1745.6 203.6h0M1750.0 233.6h0M1754.7 184.4h0M1762.7 234.7h0M1743.3 244.6h0M1753.2 217.2h0M1747.7 203.1h0M1740.3 194.4h0M1730.1 218.8h0M1741.2 210.2h0M1757.6 198.9h0M1754.4 205.0h0M1748.4 206.6h0M1754.4 194.7h0M1739.5 196.6h0M1755.2 221.4h0M1770.2 209.6h0M1764.4 207.4h0M1766.2 207.5h0M1758.2 202.9h0M1753.8 227.2h0M1740.5 206.1h0M1747.2 216.7h0M1774.1 202.6h0M1722.9 212.9h0M1760.7 187.2h0M1751.1 205.3h0M1728.0 213.5h0M1758.7 208.7h0M1742.0 198.0h0M1746.7 211.3h0M1742.8 222.4h0M1758.0 181.6h0M1772.6 207.7h0M1747.6 207.1h0M1733.3 208.1h0M1726.2 194.5h0M1768.9 220.1h0M1749.9 195.1h0M1764.2 205.4h0M1756.1 213.0h0M1741.6 214.8h0M1730.0 222.3h0M1736.1 198.9h0M1746.2 214.1h0M1762.1 209.9h0M1759.8 211.1h0M1752.9 184.4h0M1727.7 180.0h0M1753.1 203.3h0M1752.1 208.4h0M1751.0 194.6h0M1736.7 184.5h0M1767.3 216.0h0M1738.4 202.7h0M1758.6 223.8h0M1746.8 207.8h0M1766.6 186.2h0M1745.3 205.3h0M1745.4 229.6h0M1763.4 208.0h0M1742.7 215.5h0M1760.7 199.9h0M1748.6 189.2h0M1752.7 215.5h0M1764.8 212.3h0M1762.8 199.1h0M1748.2 219.3h0M1758.6 196.8h0M1759.2 215.1h0M1761.5 206.9h0M1747.7 210.2h0M1772.6 207.4h0M1746.0 209.5h0M1739.6 208.3h0M1750.1 216.5h0M1754.6 217.5h0M1779.4 203.2h0M1744.1 210.9h0M1752.5 207.3h0M1746.7 211.9h0M1754.2 181.4h0M1750.8 209.4h0M1766.7 199.2h0M1744.4 218.6h0M1746.6 206.8h0M1758.8 213.9h0M1753.5 193.1h0M1764.8 200.8h0M1747.6 228.2h0M1763.3 193.7h0M1748.0 202.9h0M1745.0 184.1h0M1762.4 214.3h0M1756.2 201.1h0M1755.8 212.8h0M1741.7 201.9h0M1747.1 213.4h0M1756.3 191.1h0M1746.5 225.4h0M1742.5 207.3h0M1746.3 219.6h0M1752.7 200.7h0M1740.2 202.8h0M1762.7 213.1h0M1738.6 223.0h0M1750.6 193.8h0M1754.8 198.6h0M1746.9 198.5h0M1752.3 200.0h0M1734.2 211.4h0M1747.5 218.9h0M1759.3 212.4h0M1755.4 220.0h0M1749.7 194.4h0M1757.2 175.1h0M1749.2 207.9h0M1748.7 219.6h0M1761.1 206.8h0M1748.8 217.7h0M1745.7 200.9h0M1761.6 212.2h0M1776.0 203.1h0M1732.3 212.9h0M1767.3 203.7h0M1770.7 225.4h0M1745.9 200.1h0M1739.3 211.5h0M1761.3 212.2h0M1739.5 197.0h0M1737.3 187.5h0M1738.2 187.8h0M1751.2 210.2h0M1760.2 205.2h0M1745.8 205.3h0M1759.6 202.1h0M1753.8 202.0h0M1747.4 205.8h0M1740.8 217.1h0M1735.8 210.6h0M1738.1 222.2h0M1762.9 196.4h0M1748.2 192.9h0M1752.6 210.0h0M1781.6 190.2h0M1767.0 198.9h0M1756.3 215.2h0M1759.2 210.1h0M1751.0 205.3h0M1754.9 218.7h0M1736.9 199.9h0M1739.3 194.7h0M1744.3 217.6h0M1777.0 220.5h0M1740.0 206.2h0M1740.6 210.3h0M1767.3 211.9h0M1762.9 203.8h0M1731.3 183.4h0M1752.1 211.8h0M1767.3 201.5h0M1754.0 208.2h0M1765.0 204.6h0M1741.0 217.4h0M1757.8 209.6h0M1739.1 205.3h0M1734.1 183.1h0M1750.6 200.6h0M1759.5 221.4h0M1752.8 225.2h0M1746.7 213.9h0M1739.1 206.8h0M1749.7 203.1h0M1759.7 184.5h0M1754.5 196.4h0M1754.5 209.8h0M1749.1 201.3h0M1740.4 211.5h0M1745.7 210.3h0M1737.4 220.6h0M1741.9 218.2h0M1748.2 211.4h0M1751.6 212.9h0M1753.2 219.5h0M1760.6 212.9h0M1771.7 197.7h0M1767.6 206.2h0M1736.8 210.7h0M1750.9 224.1h0M1747.8 205.9h0M1755.8 184.3h0M1758.8 194.4h0M1768.8 223.9h0M1753.1 187.8h0M1755.2 207.3h0M1761.2 202.1h0M1740.0 203.8h0M1742.9 225.0h0M1745.4 198.2h0M1752.7 191.7h0M1748.3 203.9h0M1747.8 202.6h0M1766.9 210.2h0M1738.4 200.6h0M1761.5 198.2h0M1754.1 205.1h0M1759.1 203.4h0M1751.6 195.9h0M1757.2 195.1h0M1772.4 205.2h0M1750.7 214.1h0M1752.3 206.4h0M1752.6 197.4h0M1743.0 197.7h0M1765.7 198.5h0M1748.7 200.4h0M1760.9 227.3h0M1743.0 211.5h0M1754.5 202.0h0M1758.8 191.3h0M1762.4 207.8h0M1742.2 223.0h0M1762.6 218.3h0M1737.1 202.4h0M1747.4 212.3h0M1768.2 184.3h0M1753.4 204.0h0M1764.2 205.0h0M1739.1 203.3h0M1741.7 196.8h0M1753.7 200.1h0M1756.3 188.6h0M1778.8 219.3h0M1761.1 191.1h0M1729.4 195.9h0M1750.6 230.0h0M1767.6 199.6h0M1766.5 218.9h0M1753.4 218.8h0M1756.8 198.2h0M1740.2 204.0h0M1764.2 190.4h0M1735.4 211.5h0M1723.2 225.5h0M1748.3 213.5h0M1773.7 189.4h0M1741.6 230.2h0M1750.1 204.0h0M1755.7 217.1h0M1767.8 206.6h0M1749.5 205.0h0M1756.5 219.9h0M1754.7 225.5h0M1743.7 211.3h0M1772.6 219.6h0M1756.9 195.7h0M1745.3 203.7h0M1756.6 202.6h0M1737.1 197.3h0M1758.9 214.6h0M1737.7 201.4h0M1734.7 199.2h0M1792.3 206.1h0M1749.4 198.9h0M1739.8 184.9h0M1752.7 202.3h0M1769.5 187.3h0M1758.0 220.2h0M1731.6 212.7h0M1735.4 211.2h0M1769.5 205.4h0M1756.4 197.7h0M1756.4 217.9h0M1751.2 203.9h0M1757.5 214.5h0M1735.1 206.1h0M1745.6 210.9h0M1764.6 208.8h0M1767.5 194.5h0M1748.7 194.5h0M1753.9 206.5h0M1751.0 192.0h0M1752.4 200.6h0M1759.9 202.4h0M1766.1 208.0h0M1732.7 203.5h0M1737.4 216.1h0M1769.1 205.1h0M1758.1 189.4h0M1728.4 199.3h0M1750.4 188.7h0M1754.2 208.9h0M1760.3 222.5h0M1762.2 201.4h0M1754.4 212.1h0M1741.7 220.1h0M1763.2 202.9h0M1746.2 247.5h0M1762.5 215.8h0M1773.1 216.3h0M1755.6 213.2h0M1743.1 213.3h0M1736.2 210.1h0M1759.4 188.2h0M1774.5 192.7h0M1764.8 199.6h0M1756.7 198.2h0M1780.8 216.9h0M1773.3 214.2h0M1761.0 207.2h0M1750.7 212.3h0M1755.1 203.9h0M1738.2 202.2h0M1760.1 200.4h0M1757.3 204.0h0M1742.0 195.6h0M1745.2 202.4h0M1750.5 218.0h0M1741.4 183.0h0M1761.0 200.6h0M1752.1 233.9h0M1769.7 212.2h0M1764.0 207.0h0M1764.1 198.9h0M1745.6 200.5h0M1771.0 222.9h0M1746.8 218.6h0M1751.7 217.6h0M1750.0 216.3h0M1752.3 202.6h0M1753.3 207.5h0M1747.1 190.6h0M1772.3 201.4h0M1733.4 180.6h0M1722.5 199.0h0M1768.6 187.7h0M1750.0 185.4h0M1765.8 209.8h0M1757.2 220.8h0M1771.9 217.2h0M1747.2 191.1h0M1742.0 186.4h0M1773.7 203.7h0M1755.1 208.0h0M1776.0 199.6h0M1766.8 209.2h0M1751.9 184.5h0M1763.9 197.6h0M1748.5 208.4h0M1754.7 218.3h0M1746.2 207.7h0M1756.7 206.1h0M1761.2 203.0h0M1767.1 198.0h0M1737.7 205.4h0M1766.8 200.1h0M1746.7 202.0h0M1755.5 203.9h0M1757.1 186.8h0M1770.3 212.3h0M1744.1 221.1h0M1758.7 222.2h0M1740.6 224.3h0M1754.2 183.0h0M1762.0 202.5h0M1742.4 203.5h0M1732.1 212.4h0M1751.3 202.9h0M1769.4 206.3h0M1746.3 195.3h0M1753.0 217.7h0M1747.2 194.3h0M1763.9 206.5h0M1753.4 229.1h0M1740.2 208.1h0M1733.9 202.5h0M1760.2 218.4h0M1739.5 215.1h0M1762.4 204.5h0M1781.0 205.9h0M1743.9 210.6h0M1732.9 223.2h0M1764.6 201.4h0M1760.5 211.8h0M1775.2 199.0h0M1739.3 183.2h0M1750.4 188.4h0M1751.7 210.4h0M1748.7 195.3h0M1766.9 203.6h0M1756.2 216.4h0M1739.1 195.6h0M1781.4 204.1h0M1742.1 203.0h0M1747.3 192.2h0M1749.1 205.6h0M1753.5 211.8h0M1734.4 189.2h0M1762.4 200.9h0M1767.2 209.2h0M1738.0 211.8h0M1742.4 208.7h0M1767.3 229.3h0M1752.9 213.6h0M1757.0 214.6h0M1725.3 201.5h0M1756.9 211.1h0M1745.3 215.0h0M1765.9 206.6h0M1751.1 201.9h0M1755.2 219.0h0M1770.3 200.6h0M1743.3 197.0h0M1764.6 208.3h0M1757.0 211.2h0M1757.8 204.5h0M1742.1 199.0h0M1755.0 210.2h0M1749.6 201.2h0M1768.8 200.7h0M1756.1 202.3h0M1744.1 189.0h0M1747.7 196.8h0M1763.0 193.1h0M1749.1 213.1h0M1752.4 211.3h0M1762.9 187.5h0M1749.1 195.2h0M1768.6 204.6h0M1759.1 224.6h0M1749.7 206.7h0M1758.2 202.9h0M1767.5 214.9h0M1764.7 206.4h0M1749.9 201.9h0M1749.6 187.7h0M1757.6 214.8h0M1753.5 200.4h0M1754.0 208.3h0M1757.2 225.6h0M1744.2 209.8h0M1761.2 206.7h0M1751.1 194.6h0M1747.1 213.6h0M1769.6 198.6h0M1758.8 211.5h0M1764.7 208.5h0M1758.5 215.6h0M1740.9 206.3h0M1734.3 184.2h0M1744.6 189.0h0M1759.2 216.7h0M1750.3 204.3h0M1751.1 202.9h0M1755.1 209.6h0M1748.6 197.2h0M1747.9 214.5h0M1749.0 221.6h0M1751.0 220.7h0M1740.6 198.2h0M1758.8 211.1h0M1751.9 228.0h0M1754.4 208.9h0M1747.4 223.8h0M1762.9 210.3h0M1735.8 209.7h0M1748.5 210.0h0M1763.5 197.6h0M1755.9 215.3h0M1755.3 202.2h0M1742.1 198.5h0M1739.8 216.5h0M1754.7 192.6h0M1753.5 191.8h0M1717.9 218.9h0M1766.3 189.8h0M1745.8 208.0h0M1749.4 196.5h0M1748.0 203.1h0M1747.5 208.0h0M1751.0 197.5h0M1753.8 187.7h0M1769.2 186.9h0M1752.6 209.4h0M1758.0 208.5h0M1767.2 193.5h0M1752.8 207.3h0M1748.1 199.3h0M1767.4 198.0h0M1748.3 202.7h0M1751.2 207.4h0M1751.3 209.7h0M1755.0 210.9h0M1768.3 196.6h0M1771.3 200.8h0M1760.7 207.4h0M1750.3 184.5h0M1770.9 197.5h0M1745.0 217.1h0M1754.3 226.2h0M1771.6 213.3h0M1756.2 213.9h0M1739.3 207.5h0M1755.0 200.6h0M1756.2 189.9h0M1763.2 219.5h0M1739.5 207.2h0M1770.1 210.1h0M1742.4 195.0h0M1762.6 225.3h0M1741.8 206.0h0M1745.1 202.6h0M1756.7 205.2h0M1746.1 228.2h0M1751.7 203.7h0M1765.3 205.8h0M1751.2 215.8h0M1742.3 213.6h0M1764.5 212.7h0M1751.5 205.5h0M1735.0 204.2h0M1756.5 214.9h0M1754.9 201.4h0M1744.4 205.1h0M1754.8 218.6h0M1753.5 200.3h0M1752.3 200.4h0M1750.9 182.0h0M1736.4 192.8h0M1758.4 204.8h0M1755.0 218.0h0M1742.3 217.8h0M1757.5 198.0h0M1769.3 190.4h0M1741.4 203.4h0M1757.7 203.5h0M1730.6 202.4h0M1752.5 232.8h0M1768.1 206.9h0M1741.7 209.2h0M1740.9 207.7h0M1757.3 201.3h0M1756.0 202.1h0M1747.3 221.9h0M1759.6 202.3h0M1745.2 207.5h0M1759.4 214.7h0M1769.1 210.5h0M1741.4 227.2h0M1765.7 214.4h0M1767.6 189.7h0M1749.4 200.1h0M1766.0 193.0h0M1749.9 221.7h0M1760.3 201.5h0M1773.4 191.4h0M1758.2 203.1h0M1758.8 202.6h0M1744.4 207.8h0M1739.3 211.2h0M1749.9 215.4h0M1748.6 198.4h0M1757.6 218.7h0M1731.3 206.8h0M1760.0 190.4h0M1744.0 212.4h0M1744.5 198.7h0M1771.6 195.5h0M1744.1 180.9h0M1741.7 192.4h0M1771.6 218.5h0M1739.8 226.4h0M1761.5 203.6h0M1761.9 209.6h0M1745.2 186.8h0M1743.6 205.4h0M1749.5 197.6h0M1763.7 194.2h0M1762.8 200.4h0M1754.5 193.6h0M1753.2 197.2h0M1734.7 205.3h0M1752.7 214.3h0M1756.3 194.7h0M1746.8 179.0h0M1741.4 219.3h0M1769.4 213.6h0M1756.5 211.7h0M1758.5 187.0h0M1744.0 218.1h0M1765.8 208.0h0M1750.0 201.4h0M1747.5 195.6h0M1732.7 207.1h0M1748.4 203.2h0M1771.5 211.8h0M1745.8 211.6h0M1737.2 216.7h0M1756.1 203.4h0M1759.4 221.0h0M1748.3 194.9h0M1775.8 205.6h0M1769.2 198.2h0M1757.3 198.6h0M1760.0 202.5h0M1746.1 222.0h0M1756.9 183.8h0M1750.7 195.6h0M1740.2 199.2h0M1748.1 205.8h0M1744.8 185.5h0M1747.5 214.8h0M1738.6 212.1h0M1758.1 200.6h0M1756.5 197.4h0M1748.9 194.5h0M1758.2 220.1h0M1746.0 218.2h0M1730.3 195.9h0M1742.4 223.9h0M1746.9 213.8h0M1731.2 206.6h0M1759.3 205.0h0M1724.0 207.3h0M1761.9 219.6h0M1757.5 187.3h0M1751.0 215.1h0M1744.4 211.5h0M1748.1 206.4h0M1761.4 197.8h0M1784.0 207.0h0M1756.9 197.4h0M1753.9 202.5h0M1737.5 188.9h0M1756.3 204.5h0M1724.9 182.3h0M1749.9 204.7h0M1759.8 192.0h0M1759.6 202.1h0M1747.7 203.9h0M1763.8 211.4h0M1762.8 198.0h0M1750.1 192.8h0M1747.2 201.1h0M1748.2 213.1h0M1757.8 213.6h0M1754.6 217.0h0M1754.4 215.8h0M1758.6 213.3h0M1752.5 192.0h0M1737.6 226.5h0M1757.4 210.2h0M1751.4 200.4h0M1784.2 193.3h0M1752.5 204.8h0M1741.0 191.7h0M1745.6 201.7h0M1748.0 214.2h0M1740.5 209.8h0M1769.1 215.0h0M1740.9 173.5h0M1762.3 210.8h0M1746.9 219.2h0M1748.8 206.6h0M1742.0 208.8h0M1748.6 200.0h0M1764.9 207.7h0M1737.0 212.9h0M1762.2 196.4h0M1749.0 206.0h0M1750.5 206.7h0M1760.2 200.1h0M1775.7 197.7h0M1747.4 226.7h0M1779.0 205.8h0M1751.2 193.8h0M1765.5 207.3h0M1744.1 209.8h0M1768.0 212.8h0M1777.0 217.9h0M1758.0 205.0h0M1759.1 218.5h0M1762.5 216.8h0M1755.6 213.7h0M1766.3 203.6h0M1739.2 224.0h0M1759.5 200.7h0M1755.7 202.7h0M1734.8 203.4h0M1737.8 207.6h0M1752.0 217.6h0M1751.9 209.4h0M1750.0 201.3h0M1738.1 216.1h0M1755.0 199.1h0M1755.5 200.9h0M1745.4 208.1h0M1766.3 202.5h0M1737.8 198.8h0M1772.6 196.6h0M1766.0 202.8h0M1761.2 204.3h0M1736.2 201.0h0M1776.0 204.0h0M1759.3 201.8h0M1751.8 208.9h0M1758.3 229.4h0M1753.0 203.5h0M1746.1 191.2h0M1735.8 212.6h0M1733.1 220.6h0M1762.5 202.2h0M1740.8 205.7h0M1753.5 217.6h0M1745.2 201.3h0M1752.7 202.4h0M1746.5 186.9h0M1735.5 198.1h0M1750.8 216.2h0M1778.2 223.9h0M1757.5 225.7h0M1752.0 199.7h0M1778.2 193.9h0M1748.8 202.6h0M1769.0 199.0h0M1761.7 201.0h0M1740.0 208.0h0M1755.1 193.0h0M1743.9 196.9h0M1763.6 210.4h0M1755.8 210.7h0M1748.1 210.6h0M1746.7 191.1h0M1745.7 207.7h0M1754.2 216.9h0M1735.0 203.1h0M1757.5 195.1h0M1756.0 201.0h0M1741.1 217.6h0M1738.3 216.3h0M1748.8 195.3h0M1743.7 197.5h0M1744.1 208.4h0M1733.1 218.9h0M1762.3 220.5h0M1742.7 180.5h0M1746.5 203.7h0M1756.6 199.9h0M1752.4 207.1h0M1736.6 225.0h0M1741.2 208.3h0M1764.9 197.1h0M1753.3 223.1h0M1750.3 216.8h0M1756.5 208.0h0M1761.1 203.0h0M1751.1 215.9h0M1756.1 210.9h0M1740.4 205.7h0M1766.4 215.2h0M1757.1 200.0h0M1746.7 210.3h0M1768.7 206.0h0M1767.4 202.3h0M1766.3 194.8h0M1755.4 194.0h0M1760.5 211.7h0M1743.1 197.5h0M1748.6 189.5h0M1743.4 196.2h0M1761.8 220.5h0M1748.6 202.5h0M1755.7 199.9h0M1750.4 214.6h0M1755.8 204.6h0M1747.2 221.4h0M1746.7 206.9h0M1742.2 199.2h0M1754.4 201.3h0M1759.1 206.3h0M1738.4 180.7h0M1764.1 199.3h0M1769.3 205.7h0M1745.1 211.6h0M1750.4 205.7h0M1743.3 212.4h0M1765.2 199.9h0M1772.6 199.4h0M1756.0 187.9h0M1732.6 228.2h0M1768.7 217.9h0M1735.0 208.0h0M1757.9 206.4h0M1756.6 195.6h0M1751.6 193.2h0M1749.6 209.5h0M1744.9 202.5h0M1748.7 205.7h0M1763.3 208.1h0M1757.6 190.0h0M1749.4 214.3h0M1744.0 200.8h0M1742.9 219.9h0M1748.4 197.7h0M1760.0 217.4h0M1758.6 216.1h0M1755.6 204.1h0M1748.6 200.0h0M1746.9 209.5h0M1752.1 206.4h0M1759.8 204.9h0M1738.5 197.0h0M1741.2 184.9h0M1754.4 192.6h0M1739.4 193.9h0M1762.7 202.1h0M1764.1 204.5h0M1748.6 211.6h0M1759.7 206.7h0M1742.1 200.5h0M1740.5 202.7h0M1754.3 221.5h0M1768.5 212.8h0M1763.5 207.9h0M1783.2 221.9h0M1781.8 209.6h0M1757.7 216.8h0M1755.3 208.8h0M1742.6 215.6h0M1754.7 214.2h0M1750.8 186.3h0M1758.6 218.0h0M1739.4 194.9h0M1750.0 202.7h0M1734.9 224.4h0M1764.1 198.8h0M1733.6 209.3h0M1774.6 214.3h0M1765.7 195.2h0M1755.7 189.2h0M1774.6 211.6h0M1730.5 185.4h0M1758.4 206.9h0M1749.8 212.0h0M1774.9 209.3h0M1733.7 203.7h0M1739.0 196.7h0M1756.7 203.5h0M1741.7 205.1h0M1744.3 211.1h0M1750.5 209.6h0M1750.2 213.4h0M1751.7 205.2h0M1747.0 206.8h0M1734.0 234.1h0M1745.8 206.4h0M1748.0 200.0h0M1757.4 199.8h0M1748.5 190.4h0M1743.1 192.6h0M1772.5 190.9h0M1741.5 207.3h0M1768.5 187.0h0M1736.3 206.6h0M1756.7 190.0h0M1733.6 194.9h0M1761.1 204.8h0M1761.1 204.1h0M1752.7 211.8h0M1751.7 207.8h0M1743.2 198.7h0M1758.1 202.6h0M1744.9 212.3h0M1758.9 205.1h0M1744.8 214.9h0M1779.9 196.3h0M1736.3 196.8h0M1742.9 191.5h0M1740.2 214.3h0M1762.2 221.1h0M1761.0 200.0h0M1764.7 198.5h0M1749.2 192.5h0M1766.2 216.1h0M1747.9 201.8h0M1753.3 207.3h0M1762.0 205.8h0M1757.2 188.9h0M1749.7 185.7h0M1772.2 220.2h0M1760.6 217.1h0M1774.5 215.2h0M1735.7 202.9h0M1727.5 196.3h0M1739.4 205.0h0M1757.1 195.0h0M1749.8 208.1h0M1751.2 203.1h0M1726.9 200.3h0M1761.4 207.8h0M1736.8 202.1h0M1755.7 194.5h0M1760.1 196.4h0M1749.2 203.8h0M1776.9 201.5h0M1746.6 212.7h0M1747.7 207.1h0M1728.5 208.2h0M1752.6 191.1h0M1767.5 202.4h0M1750.7 190.8h0M1735.2 198.9h0M1736.4 210.3h0M1762.2 198.1h0M1735.4 200.7h0M1741.3 206.8h0M1754.7 200.4h0M1753.6 216.2h0M1771.2 199.3h0M1760.6 202.4h0M1741.4 218.8h0M1757.0 206.5h0M1756.6 203.2h0M1741.4 224.1h0M1762.5 207.8h0M1763.2 218.8h0M1750.6 211.3h0M1749.3 211.9h0M1750.0 231.2h0M1748.9 210.5h0M1757.8 201.3h0M1762.9 204.0h0M1748.3 205.0h0M1744.6 217.9h0M1759.5 215.6h0M1738.2 207.9h0M1744.4 205.9h0M1766.5 207.7h0M1750.9 217.0h0M1763.7 224.9h0M1732.7 208.5h0M1748.3 195.5h0M1754.0 192.4h0M1728.6 195.2h0M1749.9 225.1h0M1745.0 192.3h0M1731.4 201.2h0M1750.2 206.6h0M1737.1 196.7h0M1728.3 206.8h0M1735.8 175.3h0M1765.3 210.4h0M1756.5 208.7h0M1741.6 216.6h0M1741.4 225.6h0M1755.2 185.0h0M1762.1 226.3h0M1750.0 216.5h0M1750.5 198.2h0M1724.9 218.3h0M1748.0 209.1h0M1740.5 195.2h0M1764.8 200.8h0M1748.4 191.4h0M1755.0 213.4h0M1747.8 203.0h0M1739.6 220.1h0M1746.1 203.3h0M1771.0 202.5h0M1736.0 195.0h0M1748.9 224.3h0M1755.2 202.6h0M1761.8 219.1h0M1744.6 220.6h0M1762.1 209.9h0M1727.2 207.2h0M1768.0 202.1h0M1777.9 205.9h0M1741.8 211.5h0M1756.1 214.1h0M1750.5 219.2h0M1746.9 206.5h0M1739.3 196.4h0M1755.1 198.0h0M1748.0 202.9h0M1755.7 213.5h0M1761.3 216.3h0M1755.2 199.2h0M1735.7 201.4h0M1744.3 185.3h0M1770.9 185.1h0M1756.8 211.2h0M1750.4 233.4h0M1753.2 196.8h0M1772.2 196.4h0M1737.3 194.2h0M1745.9 205.7h0M1756.6 188.5h0M1756.8 229.6h0M1745.1 203.7h0M1760.6 218.3h0M1745.6 194.6h0M1741.9 217.2h0M1762.8 181.5h0M1729.5 191.6h0M1736.5 209.6h0M1755.4 226.6h0M1761.7 206.5h0M1765.9 195.4h0M1737.6 205.5h0M1763.3 187.4h0M1762.8 214.6h0M1747.5 207.0h0M1750.0 206.1h0M1761.8 196.4h0M1764.4 214.7h0M1762.9 183.6h0M1732.5 212.8h0M1746.5 197.6h0M1744.6 190.4h0M1749.8 197.2h0M1745.8 210.4h0M1740.0 217.5h0M1728.6 232.7h0M1738.0 211.6h0M1763.0 205.1h0M1761.1 204.0h0M1733.6 208.9h0M1765.5 199.1h0M1734.3 198.5h0M1756.5 208.5h0M1765.1 211.3h0M1758.5 183.1h0M1777.4 205.7h0M1762.4 201.3h0M1751.3 205.8h0M1770.3 221.8h0M1759.8 227.0h0M1748.6 210.9h0M1748.0 219.4h0M1753.4 216.0h0M1772.0 182.4h0M1776.9 208.7h0M1749.5 184.1h0M1749.7 179.9h0M1754.0 203.4h0M1773.2 201.6h0M1764.9 218.1h0M1775.8 202.5h0M1761.5 188.5h0M1740.8 202.3h0M1752.8 191.9h0M1748.5 213.0h0M1748.0 203.6h0M1743.3 220.6h0M1772.8 207.6h0M1751.8 223.7h0M1758.4 197.9h0M1738.2 198.8h0M1777.4 198.8h0M1785.1 205.3h0M1750.7 220.0h0M1750.4 209.5h0M1741.6 191.6h0M1745.0 207.8h0M1745.8 183.6h0M1758.4 203.5h0M1750.1 198.6h0M1728.2 223.0h0M1747.8 211.2h0M1768.6 217.9h0M1755.4 205.5h0M1756.6 215.4h0M1759.6 200.4h0M1758.2 209.6h0M1760.9 207.7h0M1768.4 207.6h0M1763.0 205.9h0M1746.8 194.9h0M1751.4 211.3h0M1767.2 204.4h0M1747.4 199.8h0M1767.5 206.6h0M1747.6 213.6h0M1738.6 206.7h0M1752.7 203.9h0M1740.4 216.3h0M1771.8 190.7h0M1754.5 212.5h0M1778.2 200.8h0M1742.7 205.3h0M1775.5 206.2h0M1756.1 225.1h0M1729.5 181.4h0M1763.2 214.0h0M1737.8 211.1h0M1753.7 207.8h0M1744.3 200.4h0M1743.5 206.0h0M1750.6 224.0h0M1760.2 188.0h0M1757.8 221.3h0M1756.3 217.4h0M1752.8 213.2h0M1742.8 214.1h0M1737.9 219.7h0M1736.4 182.0h0M1759.1 203.5h0M1754.5 210.1h0M1752.9 195.6h0M1755.5 209.2h0M1758.7 227.4h0M1745.1 206.1h0M1759.4 200.4h0M1739.9 199.1h0M1765.0 202.4h0M1760.0 197.3h0M1758.1 197.9h0M1743.9 206.6h0M1753.8 221.7h0M1735.2 211.0h0M1771.1 220.5h0M1748.9 197.9h0M1747.7 208.7h0M1755.3 209.3h0M1759.8 193.5h0M1740.7 191.8h0M1738.3 204.3h0M1756.6 233.4h0M1759.1 205.6h0M1768.9 197.3h0M1757.0 216.2h0M1761.9 209.9h0M1749.3 191.6h0M1751.5 198.8h0M1760.8 203.9h0M1759.4 187.6h0M1764.0 196.0h0M1735.9 190.2h0M1746.2 217.8h0M1761.1 192.4h0M1754.2 204.2h0M1735.8 194.4h0M1730.6 195.8h0M1723.9 196.6h0M1742.8 196.6h0M1744.1 218.2h0M1749.3 208.1h0M1761.6 215.4h0M1760.7 199.3h0M1741.1 196.8h0M1748.0 205.5h0M1752.2 217.5h0M1752.1 225.2h0M1764.6 200.1h0M1762.7 173.6h0M1768.4 209.9h0M1757.6 186.8h0M1781.1 202.6h0M1751.6 217.8h0M1751.1 196.0h0M1760.5 194.2h0M1761.4 206.9h0M1765.6 192.0h0M1767.0 208.6h0M1775.0 198.2h0M1773.7 213.2h0M1761.9 197.4h0M1759.4 212.8h0M1744.0 192.6h0M1744.7 221.6h0M1754.9 215.7h0M1756.4 206.7h0M1755.7 200.9h0M1766.7 207.3h0M1755.7 190.1h0M1756.6 197.9h0M1747.7 216.8h0M1741.1 203.2h0M1760.1 218.1h0M1747.5 208.9h0M1756.4 192.9h0M1729.6 184.1h0M1759.8 206.5h0M1738.4 198.3h0M1748.8 201.4h0M1752.9 229.8h0M1744.6 207.0h0M1744.7 198.5h0M1743.5 202.8h0M1747.1 209.2h0M1755.5 195.5h0M1774.4 192.5h0M1757.1 229.3h0M1745.3 220.0h0M1768.9 209.1h0M1732.8 221.1h0M1754.2 199.4h0M1767.3 197.4h0M1764.9 199.3h0M1759.1 193.5h0M1748.8 195.3h0M1745.3 207.5h0M1751.3 207.5h0M1767.3 204.1h0M1732.7 202.2h0M1754.1 216.6h0M1764.6 215.9h0M1750.7 212.5h0M1737.3 219.6h0M1758.0 211.0h0M1749.0 206.0h0M1745.8 211.6h0M1738.5 216.1h0M1759.2 227.7h0M1752.8 204.4h0M1755.3 205.8h0M1752.0 193.2h0M1741.0 199.1h0M1750.0 192.3h0M1740.4 202.3h0M1761.4 203.3h0M1760.7 216.1h0M1761.7 200.7h0M1748.7 184.8h0M1745.7 210.6h0M1741.2 220.3h0M1769.0 201.3h0M1763.4 189.8h0M1741.6 201.3h0M1753.3 203.3h0M1743.7 227.1h0M1756.4 208.6h0M1760.7 207.3h0M1750.6 199.3h0M1735.1 221.9h0M1743.0 187.1h0M1744.3 187.7h0M1775.2 209.4h0M1768.7 221.4h0M1759.5 211.7h0M1745.2 204.5h0M1746.5 205.9h0M1745.5 219.4h0M1761.6 204.2h0M1734.8 212.9h0M1762.9 204.6h0M1739.3 210.2h0M1764.8 184.3h0M1759.4 185.4h0M1754.1 224.6h0M1754.2 210.7h0M1749.7 205.3h0M1779.1 220.1h0M1749.7 201.2h0M1753.4 229.6h0M1755.5 217.7h0M1749.2 191.4h0M1767.8 204.6h0M1744.6 197.8h0M1745.8 198.7h0M1736.3 218.6h0M1757.4 216.1h0M1749.4 209.2h0M1755.0 218.3h0M1762.2 209.3h0M1746.1 192.2h0M1744.4 198.4h0M1747.3 191.8h0M1771.5 208.4h0M1731.0 193.4h0M1738.5 208.0h0M1764.9 194.6h0M1760.0 202.4h0M1765.8 220.4h0M1756.6 213.3h0M1753.2 201.3h0M1740.4 209.0h0M1752.4 201.2h0M1752.4 203.4h0M1741.8 199.6h0M1765.7 202.8h0M1768.5 192.8h0M1738.4 206.8h0M1761.7 198.2h0M1760.0 215.6h0M1764.9 204.2h0M1752.6 187.3h0M1753.5 208.5h0M1768.7 191.5h0M1743.9 194.4h0M1763.0 177.7h0M1741.4 227.9h0M1760.4 190.9h0M1752.5 214.7h0M1759.2 203.0h0M1744.5 214.5h0M1753.1 214.2h0M1757.5 200.3h0M1768.9 200.0h0M1757.9 198.5h0M1750.7 202.7h0M1746.0 208.0h0M1767.5 225.7h0M1768.9 203.5h0M1769.1 210.0h0M1772.8 191.7h0M1769.4 198.9h0M1765.8 200.3h0M1763.1 202.3h0M1732.7 194.9h0M1750.6 205.7h0M1728.8 192.4h0M1745.2 203.1h0M1755.6 196.5h0M1736.7 208.7h0M1749.6 215.1h0M1747.5 212.4h0M1743.5 208.3h0M1754.2 210.3h0M1743.0 204.1h0M1744.0 203.7h0M1760.0 237.9h0M1753.6 213.2h0M1754.4 217.7h0M1758.2 216.8h0M1757.1 231.5h0M1768.2 186.9h0M1756.5 206.3h0M1729.3 196.1h0M1748.2 197.4h0M1754.6 185.9h0M1761.3 213.8h0M1757.1 201.9h0M1753.3 200.4h0M1765.7 210.9h0M1774.9 201.5h0M1769.0 199.2h0M1751.4 194.1h0M1758.9 204.8h0M1760.0 221.6h0M1752.7 209.6h0M1763.0 204.8h0M1747.3 209.3h0M1758.7 213.9h0M1762.3 198.2h0M1758.1 218.8h0M1748.2 209.4h0M1746.6 207.3h0M1772.1 207.4h0M1742.8 209.2h0M1755.6 217.6h0M1738.4 195.6h0M1752.4 188.7h0M1765.6 183.5h0M1744.3 189.5h0M1746.2 214.2h0M1759.8 215.5h0M1759.8 183.5h0M1756.5 185.5h0M1747.8 201.2h0M1747.4 210.8h0M1744.5 224.2h0M1759.8 218.3h0M1761.5 215.2h0M1752.8 226.7h0M1741.9 210.5h0M1753.3 203.1h0M1756.7 197.4h0M1762.7 214.0h0M1754.3 213.5h0M1742.0 185.9h0M1747.0 202.9h0M1780.3 203.0h0M1764.5 214.6h0M1776.1 206.8h0M1760.4 203.4h0M1743.9 194.6h0M1744.8 221.0h0M1756.4 203.8h0M1753.5 199.4h0M1752.9 205.1h0M1760.3 215.4h0M1735.6 208.0h0M1768.2 194.5h0M1750.6 207.3h0M1765.2 212.0h0M1750.9 210.9h0M1764.5 209.7h0M1773.4 210.1h0M1742.0 197.0h0M1751.9 203.3h0M1760.0 209.3h0M1771.9 214.3h0M1769.4 197.3h0M1748.7 212.9h0M1754.3 212.3h0M1756.0 198.8h0M1771.8 217.9h0M1736.5 198.9h0M1753.6 212.9h0M1752.6 190.8h0M1762.3 203.3h0M1766.4 208.8h0M1764.2 214.6h0M1762.9 200.1h0M1764.5 207.8h0M1739.9 201.3h0M1749.8 210.7h0M1760.8 193.6h0M1761.2 204.9h0M1742.0 214.6h0M1745.2 192.8h0M1761.6 215.3h0M1746.3 217.0h0M1764.3 200.1h0M1775.0 205.0h0M1755.9 179.9h0M1760.3 199.0h0M1758.2 187.2h0M1765.9 221.4h0M1773.9 173.9h0M1759.8 209.4h0M1720.9 197.8h0M1752.6 221.1h0M1744.6 208.0h0M1752.9 209.7h0M1749.3 215.4h0M1764.1 191.1h0M1765.7 197.7h0M1750.6 217.9h0M1754.7 212.0h0M1762.1 212.3h0M1747.8 195.6h0M1761.0 214.0h0M1757.5 203.8h0M1762.9 205.6h0M1738.9 208.9h0M1759.1 214.3h0M1744.1 197.8h0M1757.3 201.1h0M1753.0 216.1h0M1758.0 225.6h0M1756.9 224.4h0M1765.3 233.5h0M1754.0 205.2h0M1768.0 200.6h0M1748.9 208.8h0M1758.0 191.1h0M1756.7 202.9h0M1753.7 208.1h0M1752.0 217.8h0M1759.3 204.3h0M1754.9 217.5h0M1762.6 220.0h0M1752.7 207.9h0M1775.8 206.0h0M1772.3 215.5h0" stroke="#0B74C6" stroke-width="2.9" stroke-linecap="round" fill="none"/>
<rect x="1603.2" y="369.6" width="205.20000000000005" height="180.69999999999993" fill="#fff" stroke="#8c8c8c" stroke-width="1.3"/>
<line x1="1705.8" y1="369.6" x2="1705.8" y2="373.6" stroke="#8c8c8c" stroke-width="1.1"/><line x1="1705.8" y1="550.3" x2="1705.8" y2="546.3" stroke="#8c8c8c" stroke-width="1.1"/>
<line x1="1603.2" y1="414.9" x2="1607.2" y2="414.9" stroke="#8c8c8c" stroke-width="1.1"/><line x1="1808.4" y1="414.9" x2="1804.4" y2="414.9" stroke="#8c8c8c" stroke-width="1.1"/>
<line x1="1603.2" y1="461.3" x2="1607.2" y2="461.3" stroke="#8c8c8c" stroke-width="1.1"/><line x1="1808.4" y1="461.3" x2="1804.4" y2="461.3" stroke="#8c8c8c" stroke-width="1.1"/>
<line x1="1603.2" y1="505.8" x2="1607.2" y2="505.8" stroke="#8c8c8c" stroke-width="1.1"/><line x1="1808.4" y1="505.8" x2="1804.4" y2="505.8" stroke="#8c8c8c" stroke-width="1.1"/>
<path d="M1656.4 399.2h0M1671.1 408.7h0M1652.6 394.6h0M1678.6 419.8h0M1662.7 423.8h0M1665.7 419.7h0M1669.5 414.6h0M1627.0 428.5h0M1668.3 418.8h0M1684.2 399.3h0M1622.8 438.8h0M1668.1 395.9h0M1656.9 426.9h0M1645.8 426.0h0M1691.5 437.5h0M1662.0 422.9h0M1649.4 420.3h0M1657.9 404.8h0M1644.0 444.9h0M1663.6 404.4h0M1656.7 438.8h0M1684.6 410.0h0M1665.1 430.6h0M1657.7 402.3h0M1649.1 418.6h0M1651.9 400.7h0M1659.2 431.2h0M1671.8 415.3h0M1688.6 407.7h0M1661.4 399.7h0M1673.1 416.7h0M1639.4 407.1h0M1687.0 428.3h0M1663.9 430.2h0M1640.5 407.0h0M1644.2 407.0h0M1657.1 425.6h0M1676.1 431.8h0M1699.1 411.6h0M1662.1 425.3h0M1651.0 414.4h0M1667.9 406.2h0M1668.8 435.1h0M1647.0 387.0h0M1663.4 404.0h0M1664.7 412.1h0M1666.4 433.8h0M1673.5 413.3h0M1646.2 384.2h0M1632.4 407.3h0M1663.5 408.9h0M1653.9 396.2h0M1639.4 394.4h0M1670.5 390.8h0M1671.1 405.4h0M1669.1 421.0h0M1672.0 433.9h0M1650.8 404.2h0M1655.5 406.9h0M1670.5 415.8h0M1661.4 423.0h0M1654.8 432.3h0M1636.0 420.4h0M1668.0 406.6h0M1651.6 429.5h0M1656.7 390.7h0M1642.6 430.9h0M1649.0 435.0h0M1679.8 414.3h0M1668.5 405.7h0M1655.5 407.4h0M1669.1 399.4h0M1659.2 417.7h0M1668.1 387.8h0M1636.4 404.9h0M1657.9 418.8h0M1663.6 444.6h0M1669.9 425.0h0M1654.2 427.6h0M1670.4 426.1h0M1659.3 425.4h0M1681.8 405.9h0M1631.2 428.1h0M1670.9 413.7h0M1654.7 454.6h0M1654.4 400.1h0M1654.3 423.7h0M1652.4 411.5h0M1665.0 410.9h0M1662.5 416.2h0M1646.2 417.8h0M1644.9 429.6h0M1648.0 413.5h0M1635.8 410.6h0M1643.6 437.2h0M1659.1 423.9h0M1636.8 399.8h0M1658.4 398.1h0M1676.4 411.2h0M1662.8 420.9h0M1658.7 427.3h0M1651.5 421.7h0M1677.1 419.6h0M1662.4 412.1h0M1661.5 425.9h0M1657.3 393.7h0M1662.9 414.6h0M1667.1 417.2h0M1682.1 400.3h0M1647.4 425.5h0M1646.6 421.1h0M1660.4 389.9h0M1669.7 435.3h0M1663.4 397.6h0M1671.3 402.5h0M1659.0 422.2h0M1650.0 393.6h0M1658.7 416.0h0M1649.0 406.0h0M1670.6 415.4h0M1654.2 408.5h0M1662.9 417.8h0M1658.2 397.8h0M1655.5 408.1h0M1661.5 432.2h0M1673.4 425.2h0M1662.1 412.2h0M1665.1 410.1h0M1655.9 405.2h0M1659.8 415.5h0M1685.3 424.0h0M1655.5 427.0h0M1654.2 430.1h0M1671.0 455.4h0M1646.0 415.5h0M1659.0 420.5h0M1670.1 403.4h0M1650.8 420.6h0M1673.5 401.5h0M1639.8 431.8h0M1671.8 431.1h0M1647.5 413.9h0M1663.6 422.4h0M1658.9 415.9h0M1674.0 410.7h0M1653.2 410.8h0M1653.7 418.3h0M1657.7 410.7h0M1679.5 420.5h0M1656.0 433.3h0M1653.2 416.5h0M1659.3 408.9h0M1655.4 417.6h0M1641.5 411.4h0M1663.8 420.2h0M1664.5 447.5h0M1669.3 414.6h0M1658.9 416.5h0M1666.3 412.6h0M1680.4 401.9h0M1668.9 423.2h0M1645.4 424.8h0M1667.8 408.1h0M1691.0 425.9h0M1656.2 410.2h0M1650.7 419.9h0M1661.3 397.9h0M1646.8 407.1h0M1655.2 411.7h0M1651.7 424.9h0M1673.0 417.5h0M1631.7 414.4h0M1667.8 415.4h0M1664.1 417.8h0M1640.9 383.3h0M1668.6 409.6h0M1665.9 412.5h0M1658.2 434.4h0M1644.8 416.3h0M1646.1 417.4h0M1666.7 425.0h0M1662.4 398.4h0M1663.7 428.2h0M1673.5 444.5h0M1667.8 403.1h0M1653.7 417.6h0M1674.2 401.5h0M1672.4 425.0h0M1649.1 424.4h0M1650.5 416.4h0M1656.5 419.6h0M1645.0 423.4h0M1632.0 411.1h0M1653.1 437.1h0M1667.5 410.1h0M1648.8 416.9h0M1652.2 445.7h0M1624.1 417.3h0M1628.3 430.1h0M1649.9 437.5h0M1653.3 430.6h0M1663.1 432.0h0M1660.8 377.5h0M1651.0 396.1h0M1672.9 423.5h0M1660.6 422.4h0M1663.1 409.0h0M1686.1 419.6h0M1657.9 397.3h0M1652.3 416.6h0M1658.1 410.2h0M1659.8 401.8h0M1660.6 396.2h0M1649.2 406.8h0M1671.9 422.9h0M1661.5 401.4h0M1655.2 427.0h0M1676.9 397.2h0M1654.8 417.9h0M1665.1 416.6h0M1669.3 397.5h0M1680.9 401.5h0M1661.3 423.4h0M1675.8 428.4h0M1672.0 433.3h0M1658.6 426.4h0M1680.8 406.6h0M1642.2 403.4h0M1679.1 432.9h0M1655.9 419.8h0M1666.8 430.4h0M1635.9 409.3h0M1657.2 420.8h0M1661.7 412.5h0M1664.5 382.9h0M1701.1 427.5h0M1672.3 408.0h0M1666.2 443.8h0M1684.7 417.7h0M1644.4 418.9h0M1656.8 428.0h0M1643.9 414.3h0M1664.3 410.6h0M1674.7 401.8h0M1644.5 412.1h0M1671.7 412.8h0M1653.0 427.4h0M1663.7 409.8h0M1662.4 413.6h0M1668.8 418.7h0M1650.2 410.5h0M1655.3 421.7h0M1665.7 405.8h0M1658.3 420.8h0M1675.3 420.1h0M1686.5 417.1h0M1670.5 412.4h0M1647.6 418.2h0M1667.1 421.0h0M1662.7 412.4h0M1649.9 412.8h0M1666.9 429.4h0M1617.3 424.8h0M1675.1 433.4h0M1665.8 425.6h0M1654.9 415.6h0M1667.7 402.3h0M1650.3 419.3h0M1643.1 417.4h0M1641.1 419.3h0M1661.1 409.3h0M1648.3 410.0h0M1631.1 411.5h0M1662.3 432.7h0M1654.0 414.4h0M1679.1 439.7h0M1654.3 430.6h0M1676.3 423.6h0M1647.7 404.3h0M1668.4 447.6h0M1658.4 437.5h0M1685.8 400.2h0M1652.8 436.7h0M1673.7 424.0h0M1660.6 425.1h0M1652.4 449.9h0M1645.5 392.9h0M1662.7 435.9h0M1654.2 416.0h0M1647.2 415.8h0M1647.3 403.5h0M1641.2 409.5h0M1685.4 416.0h0M1663.3 446.3h0M1652.3 403.5h0M1667.7 400.4h0M1665.1 432.1h0M1646.4 409.8h0M1683.3 402.7h0M1651.7 419.9h0M1656.5 405.4h0M1682.0 409.0h0M1665.1 411.3h0M1657.7 398.5h0M1673.0 411.0h0M1677.7 401.3h0M1654.3 423.1h0M1662.2 408.0h0M1658.9 399.5h0M1661.5 381.5h0M1663.0 434.7h0M1672.6 428.0h0M1655.2 423.2h0M1655.4 415.5h0M1659.4 372.0h0M1673.0 422.8h0M1671.9 404.1h0M1669.9 423.1h0M1631.1 393.3h0M1661.4 407.9h0M1660.5 408.2h0M1680.6 391.5h0M1642.6 403.8h0M1642.6 409.0h0M1660.3 398.9h0M1665.6 434.2h0M1675.3 443.4h0M1675.8 416.3h0M1684.4 426.1h0M1685.7 414.2h0M1632.8 401.3h0M1663.2 424.1h0M1658.1 430.1h0M1645.5 407.5h0M1674.0 417.5h0M1662.1 435.6h0M1675.4 406.3h0M1663.6 394.3h0M1660.7 422.1h0M1637.9 437.7h0M1687.5 423.5h0M1673.2 436.9h0M1658.6 430.8h0M1666.1 396.6h0M1649.0 409.4h0M1675.2 418.3h0M1674.1 410.7h0M1644.0 444.4h0M1697.2 422.1h0M1658.4 432.8h0M1646.3 414.2h0M1642.0 423.4h0M1664.3 411.7h0M1652.4 396.8h0M1650.0 433.4h0M1656.3 433.8h0M1649.5 415.9h0M1654.9 413.6h0M1671.3 389.7h0M1670.9 426.3h0M1661.1 418.0h0M1658.1 426.2h0M1661.8 405.8h0M1663.0 429.7h0M1666.0 417.4h0M1663.8 410.5h0M1654.9 392.0h0M1658.6 430.1h0M1655.9 405.0h0M1672.9 419.2h0M1662.9 423.3h0M1670.3 416.5h0M1650.0 440.1h0M1661.8 406.8h0M1663.5 432.8h0M1642.3 434.4h0M1659.2 443.4h0M1669.9 415.6h0M1677.6 433.9h0M1656.4 420.1h0M1654.2 429.2h0M1642.5 414.7h0M1632.9 424.8h0M1631.7 403.1h0M1664.5 412.4h0M1655.2 404.3h0M1654.9 394.0h0M1665.3 427.7h0M1671.1 416.6h0M1677.2 423.2h0M1673.7 422.2h0M1661.5 407.1h0M1626.4 425.5h0M1659.5 443.2h0M1635.0 428.1h0M1648.6 417.0h0M1649.4 421.7h0M1660.7 428.6h0M1663.0 423.4h0M1677.8 423.9h0M1659.3 433.4h0M1659.6 422.4h0M1656.9 408.4h0M1621.6 426.2h0M1645.9 426.7h0M1684.8 399.8h0M1672.6 415.8h0M1667.1 401.4h0M1661.5 419.2h0M1679.9 445.3h0M1665.2 412.3h0M1690.2 415.7h0M1660.4 418.5h0M1667.2 426.5h0M1653.6 415.7h0M1685.8 438.2h0M1667.0 420.8h0M1658.1 430.6h0M1654.4 418.8h0M1655.2 409.0h0M1661.7 417.3h0M1653.6 416.4h0M1662.1 411.1h0M1652.6 415.4h0M1670.4 431.7h0M1663.7 413.7h0M1660.8 442.3h0M1673.2 404.7h0M1660.5 410.3h0M1656.4 395.1h0M1661.6 399.4h0M1653.5 437.1h0M1674.3 405.8h0M1647.7 405.3h0M1636.5 404.4h0M1657.7 403.5h0M1671.2 416.6h0M1654.3 440.2h0M1670.5 418.2h0M1685.5 434.5h0M1652.0 421.5h0M1655.5 398.4h0M1686.2 437.0h0M1644.6 423.7h0M1639.7 431.4h0M1660.6 413.4h0M1677.8 417.4h0M1657.8 429.3h0M1657.3 428.8h0M1661.3 428.1h0M1669.5 427.7h0M1648.0 442.1h0M1659.1 440.5h0M1653.4 413.7h0M1657.8 432.5h0M1655.6 422.8h0M1640.5 410.9h0M1664.2 415.8h0M1636.5 423.9h0M1648.5 442.9h0M1658.7 447.2h0M1670.1 423.4h0M1654.9 415.7h0M1667.3 391.4h0M1674.5 401.7h0M1657.8 381.0h0M1667.3 427.2h0M1665.0 421.5h0M1656.3 419.3h0M1677.3 411.6h0M1667.9 426.9h0M1658.1 420.4h0M1664.2 410.7h0M1693.7 411.5h0M1684.1 431.5h0M1634.1 420.6h0M1675.0 428.1h0M1649.2 420.7h0M1645.3 403.4h0M1658.1 419.8h0M1682.7 422.0h0M1675.4 401.2h0M1645.8 410.7h0M1684.7 399.3h0M1640.1 416.2h0M1677.1 395.4h0M1657.8 399.1h0M1680.6 426.5h0M1664.9 416.6h0M1658.1 419.1h0M1652.5 405.4h0M1646.3 417.4h0M1650.5 428.9h0M1633.0 424.8h0M1668.3 433.5h0M1657.8 397.0h0M1648.8 432.4h0M1657.1 411.6h0M1653.3 416.3h0M1658.1 396.3h0M1653.1 430.7h0M1680.6 415.5h0M1654.2 435.4h0M1658.8 401.3h0M1659.5 426.5h0M1682.1 410.6h0M1668.4 412.7h0M1676.5 420.6h0M1664.7 403.9h0M1656.8 412.8h0M1612.8 428.6h0M1661.0 414.3h0M1656.3 417.5h0M1664.4 399.6h0M1662.8 418.6h0M1661.5 397.2h0M1659.2 399.9h0M1665.8 434.8h0M1672.8 412.6h0M1653.8 409.5h0M1665.8 408.2h0M1653.9 383.5h0M1649.7 406.6h0M1653.9 433.4h0M1642.9 399.3h0M1669.2 403.9h0M1658.9 419.4h0M1661.3 406.7h0M1673.4 437.2h0M1647.6 413.4h0M1673.7 414.3h0M1647.7 411.3h0M1672.2 403.7h0M1664.5 422.2h0M1652.3 424.7h0M1670.0 430.5h0M1673.6 397.1h0M1673.1 424.9h0M1674.2 405.7h0M1673.2 422.1h0M1645.6 434.1h0M1650.6 403.5h0M1666.4 409.0h0M1665.9 413.8h0M1664.9 428.0h0M1660.7 428.7h0M1672.5 405.9h0M1672.6 425.4h0M1662.9 432.1h0M1683.3 427.3h0M1641.5 423.1h0M1659.4 413.5h0M1665.8 412.8h0M1683.0 420.8h0M1661.4 427.7h0M1671.9 433.0h0M1669.7 416.7h0M1663.0 388.3h0M1641.6 431.1h0M1656.8 441.4h0M1685.3 400.5h0M1665.4 455.8h0M1650.7 422.5h0M1658.1 414.0h0M1657.5 417.0h0M1671.4 406.5h0M1668.0 407.8h0M1668.2 421.5h0M1650.8 419.1h0M1651.4 405.9h0M1676.9 392.9h0M1668.7 426.7h0M1653.3 431.8h0M1673.4 399.9h0M1668.3 423.5h0M1651.4 424.9h0M1671.3 407.6h0M1634.6 422.6h0M1651.3 394.2h0M1656.1 385.3h0M1656.7 437.3h0M1623.1 423.4h0M1648.9 411.7h0M1649.0 425.8h0M1661.1 406.8h0M1643.7 411.5h0M1676.7 401.0h0M1666.8 421.8h0M1634.4 432.0h0M1660.7 447.2h0M1684.6 413.9h0M1659.2 403.7h0M1642.8 427.9h0M1657.9 411.8h0M1658.9 426.4h0M1673.9 417.3h0M1658.6 418.6h0M1689.1 389.3h0M1645.6 423.6h0M1663.2 433.8h0M1678.9 444.0h0M1650.5 425.5h0M1658.1 430.4h0M1663.8 429.2h0M1651.3 419.5h0M1654.4 413.8h0M1655.2 403.4h0M1676.4 421.3h0M1676.1 403.9h0M1634.9 408.6h0M1659.3 428.0h0M1675.6 433.8h0M1682.1 427.2h0M1662.8 407.0h0M1670.6 410.6h0M1650.5 425.3h0M1664.3 428.9h0M1651.6 433.2h0M1666.2 415.1h0M1651.1 402.8h0M1642.9 436.3h0M1642.1 425.9h0M1658.0 409.6h0M1654.9 416.0h0M1673.6 425.0h0M1661.3 398.8h0M1637.2 442.6h0M1647.7 396.1h0M1676.6 397.0h0M1671.4 430.0h0M1664.7 430.4h0M1642.5 400.8h0M1658.7 417.3h0M1660.2 423.6h0M1651.3 388.5h0M1666.8 414.2h0M1672.3 445.5h0M1662.4 425.2h0M1649.2 429.6h0M1665.9 420.7h0M1673.7 402.0h0M1668.9 423.5h0M1682.8 392.8h0M1660.1 447.0h0M1655.8 411.4h0M1685.5 451.3h0M1662.9 407.6h0M1653.3 411.9h0M1649.8 406.3h0M1663.6 417.8h0M1667.8 417.6h0M1644.9 427.3h0M1664.6 409.4h0M1657.6 421.6h0M1662.3 415.5h0M1671.6 431.7h0M1657.0 417.0h0M1646.3 415.0h0M1667.7 429.0h0M1663.5 416.1h0M1651.6 420.2h0M1646.5 419.0h0M1661.5 405.0h0M1665.7 414.4h0M1669.4 410.7h0M1667.8 438.4h0M1663.7 427.9h0M1652.6 412.5h0M1635.7 415.2h0M1646.0 418.8h0M1633.3 405.6h0M1662.4 422.5h0M1638.8 411.6h0M1695.9 427.9h0M1663.4 380.0h0M1648.8 424.2h0M1664.4 423.4h0M1674.2 418.5h0M1672.7 393.0h0M1695.0 413.2h0M1652.5 437.5h0M1669.4 430.3h0M1652.8 421.0h0M1670.8 401.8h0M1658.2 413.9h0M1657.2 407.7h0M1644.2 423.0h0M1664.5 432.8h0M1660.2 408.1h0M1641.6 418.3h0M1657.0 444.3h0M1692.1 438.5h0M1648.9 398.3h0M1658.0 405.1h0M1680.3 418.7h0M1655.7 416.9h0M1678.1 404.4h0M1667.7 399.3h0M1658.3 408.2h0M1665.4 419.2h0M1677.3 426.4h0M1653.0 399.2h0M1650.1 411.3h0M1658.0 406.9h0M1675.7 429.7h0M1657.4 410.4h0M1657.9 416.5h0M1660.8 395.3h0M1655.3 391.8h0M1661.6 426.2h0M1646.7 419.3h0M1652.8 407.7h0M1687.6 429.1h0M1667.6 411.2h0M1666.6 414.5h0M1667.2 404.9h0M1660.1 411.7h0M1642.0 439.9h0M1672.1 406.4h0M1641.2 407.3h0M1649.7 408.8h0M1640.6 405.9h0M1661.9 422.6h0M1634.3 417.0h0M1647.7 403.0h0M1656.7 407.8h0M1670.5 426.5h0M1656.9 408.3h0M1685.3 442.3h0M1666.3 415.0h0M1674.7 436.7h0M1653.9 441.5h0M1658.9 431.9h0M1654.1 418.0h0M1654.9 417.4h0M1674.9 404.9h0M1657.0 424.4h0M1654.7 444.7h0M1641.1 451.5h0M1652.1 430.3h0M1683.0 424.3h0M1641.8 412.5h0M1662.0 424.7h0M1674.4 432.4h0M1681.1 404.1h0M1674.6 393.3h0M1663.1 402.4h0M1636.7 429.6h0M1660.6 430.5h0M1639.4 400.4h0M1659.7 407.9h0M1662.0 408.5h0M1656.4 401.4h0M1678.6 412.7h0M1644.9 426.3h0M1667.6 420.0h0M1664.1 411.6h0M1659.2 386.7h0M1639.7 400.2h0M1664.9 433.7h0M1658.8 413.4h0M1676.5 412.0h0M1670.0 422.9h0M1642.8 421.3h0M1663.8 401.3h0M1646.8 399.6h0M1679.8 446.0h0M1670.7 438.5h0M1642.5 436.3h0M1688.1 439.2h0M1648.1 431.9h0M1659.5 431.8h0M1652.2 417.2h0M1653.2 423.6h0M1659.6 432.3h0M1672.3 422.7h0M1660.5 412.9h0M1661.1 427.3h0M1662.8 421.0h0M1660.5 416.0h0M1651.9 391.2h0M1668.9 424.7h0M1647.7 443.3h0M1645.0 430.8h0M1664.5 421.4h0M1676.7 429.7h0M1661.4 402.5h0M1644.3 419.7h0M1682.8 429.1h0M1660.6 421.6h0M1670.5 440.7h0M1650.6 427.0h0M1664.9 406.6h0M1647.1 434.5h0M1665.6 414.2h0M1662.4 430.6h0M1662.4 439.2h0M1657.5 406.3h0M1659.5 404.1h0M1656.3 433.9h0M1684.6 425.8h0M1663.8 404.6h0M1647.3 422.2h0M1663.4 409.1h0M1654.9 438.5h0M1674.7 417.8h0M1664.2 434.7h0M1666.0 420.4h0M1639.4 393.8h0M1634.8 386.0h0M1660.9 421.6h0M1649.1 423.1h0M1667.2 416.0h0M1640.8 437.0h0M1680.0 409.1h0M1687.8 417.7h0M1650.3 411.4h0M1635.5 412.2h0M1639.0 432.7h0M1665.5 397.9h0M1669.0 393.4h0M1663.2 423.7h0M1662.0 401.6h0M1659.5 414.5h0M1661.9 437.6h0M1684.4 438.9h0M1652.3 406.7h0M1661.4 423.1h0M1632.7 408.6h0M1685.8 399.9h0M1650.9 407.3h0M1667.8 416.2h0M1656.6 396.1h0M1669.5 417.1h0M1651.8 417.4h0M1671.9 396.6h0M1639.6 402.9h0M1649.0 374.9h0M1652.7 432.4h0M1656.5 431.1h0M1621.3 415.4h0M1680.2 438.7h0M1654.1 405.6h0M1666.3 400.2h0M1656.0 393.9h0M1662.1 417.1h0M1683.5 421.9h0M1651.9 415.7h0M1643.2 417.5h0M1658.0 422.8h0M1673.9 389.4h0M1665.5 427.2h0M1644.4 443.3h0M1651.0 451.1h0M1671.8 430.4h0M1664.7 431.0h0M1646.7 405.9h0M1633.9 424.5h0M1651.2 427.4h0M1669.3 398.5h0M1670.7 420.6h0M1663.8 423.4h0M1660.6 417.2h0M1675.6 403.2h0M1644.4 406.5h0M1675.3 412.5h0M1687.5 374.4h0M1651.1 410.8h0M1664.7 435.5h0M1658.4 402.9h0M1672.6 438.4h0M1625.6 425.0h0M1665.1 405.5h0M1654.4 421.0h0M1661.4 413.6h0M1644.8 420.9h0M1651.8 418.2h0M1652.9 419.7h0M1671.3 420.2h0M1670.1 397.8h0M1667.4 421.0h0M1652.3 414.7h0M1622.3 418.1h0M1655.3 385.6h0M1668.0 408.1h0M1664.8 413.7h0M1667.6 418.1h0M1657.0 423.8h0M1672.5 385.6h0M1661.3 408.7h0M1645.6 435.0h0M1674.2 402.6h0M1645.5 428.2h0M1652.3 412.4h0M1633.7 415.1h0M1676.6 410.5h0M1659.3 441.0h0M1673.0 436.6h0M1669.6 433.5h0M1637.9 405.6h0M1638.1 447.6h0M1663.4 415.2h0M1650.5 402.9h0M1622.2 447.9h0M1659.8 417.8h0M1641.5 416.1h0M1666.1 415.8h0M1669.4 405.3h0M1665.4 429.2h0M1668.6 422.2h0M1659.5 403.3h0M1668.5 411.5h0M1647.8 427.5h0M1638.7 409.2h0M1671.6 430.0h0M1655.7 417.8h0M1668.4 415.9h0M1650.2 422.9h0M1663.2 418.3h0M1676.3 421.1h0M1654.6 419.1h0M1687.7 407.0h0M1657.2 405.8h0M1665.8 399.5h0M1667.1 427.4h0M1650.2 405.2h0M1640.4 417.5h0M1645.4 408.3h0M1655.1 407.4h0M1672.4 438.9h0M1631.5 405.7h0M1664.3 402.4h0M1653.5 419.8h0M1680.1 433.1h0M1656.9 418.7h0M1655.9 414.5h0M1644.7 392.5h0M1655.8 430.4h0M1671.4 391.2h0M1658.3 408.2h0M1664.9 401.8h0M1673.5 414.1h0M1668.9 429.0h0M1634.1 413.9h0M1681.8 417.2h0M1675.3 422.7h0M1654.1 420.8h0M1675.4 434.7h0M1680.9 401.7h0M1672.4 397.9h0M1659.1 414.1h0M1669.6 421.3h0M1678.2 408.5h0M1672.6 422.3h0M1661.0 400.4h0M1668.8 421.3h0M1671.8 416.4h0M1657.4 422.3h0M1667.3 426.4h0M1687.1 408.4h0M1688.6 376.1h0M1674.2 405.7h0M1688.6 404.7h0M1675.6 403.3h0M1645.4 428.0h0M1672.9 407.3h0M1694.1 412.5h0M1682.5 403.0h0M1647.7 418.2h0M1647.0 423.2h0M1631.4 419.4h0M1653.2 403.7h0M1663.9 413.9h0M1654.8 428.1h0M1665.0 422.2h0M1679.3 416.0h0M1672.5 411.2h0M1669.3 424.2h0M1653.4 396.1h0M1643.4 404.0h0M1668.6 415.1h0M1656.9 423.5h0M1671.0 436.1h0M1652.8 424.5h0M1670.7 403.9h0M1662.7 404.4h0M1657.9 422.7h0M1637.6 405.0h0M1649.9 418.2h0M1650.8 422.1h0M1649.2 409.9h0M1669.3 421.3h0M1663.0 416.4h0M1674.7 435.8h0M1655.9 407.0h0M1646.7 440.8h0M1648.7 398.8h0M1664.6 431.4h0M1644.0 415.3h0M1641.3 407.4h0M1683.3 419.3h0M1657.4 417.9h0M1664.8 415.6h0M1644.7 400.8h0M1688.5 406.5h0M1677.4 407.1h0M1678.8 426.5h0M1658.1 444.5h0M1648.2 413.8h0M1649.2 406.3h0M1656.0 403.9h0M1656.5 438.6h0M1637.1 399.8h0M1647.9 410.6h0M1674.8 426.9h0M1667.5 419.8h0M1693.8 401.5h0M1645.2 416.6h0M1663.8 413.7h0M1649.5 399.0h0M1657.2 407.3h0M1654.4 402.2h0M1679.4 423.2h0M1686.4 409.9h0M1661.8 413.6h0M1661.3 413.5h0M1658.7 390.0h0M1657.3 426.5h0M1634.3 412.2h0M1668.8 434.3h0M1659.8 423.2h0M1685.0 434.8h0M1654.8 408.7h0M1675.0 420.0h0M1653.6 413.8h0M1665.3 414.2h0M1657.5 413.7h0M1640.5 440.8h0M1677.7 437.7h0M1659.1 418.7h0M1668.9 428.2h0M1635.9 421.8h0M1647.3 416.0h0M1651.9 440.3h0M1668.4 416.6h0M1680.1 416.0h0M1651.1 414.4h0M1656.0 417.6h0M1672.5 415.4h0M1660.1 430.9h0M1664.9 430.0h0M1662.8 399.2h0M1645.6 394.3h0M1676.6 422.7h0M1654.5 403.4h0M1665.9 415.2h0M1665.4 405.4h0M1645.8 438.5h0M1648.0 416.7h0M1679.3 391.9h0M1670.6 417.9h0M1659.0 420.7h0M1644.8 386.6h0M1686.8 413.1h0M1673.2 432.1h0M1664.9 423.2h0M1670.7 438.6h0M1667.7 434.2h0M1657.0 411.2h0M1662.2 422.5h0M1668.3 443.6h0M1672.5 417.9h0M1688.2 421.5h0M1665.9 423.7h0M1656.5 402.1h0M1662.8 412.8h0M1649.2 418.7h0M1658.3 408.9h0M1636.8 414.7h0M1685.0 429.2h0M1675.8 416.7h0M1675.4 407.8h0M1654.8 424.1h0M1641.6 417.8h0M1665.1 440.1h0M1651.5 422.8h0M1652.1 409.6h0M1624.2 404.2h0M1676.7 424.1h0M1663.2 450.7h0M1668.4 400.2h0M1658.3 416.3h0M1683.0 404.8h0M1666.8 430.4h0M1650.0 418.3h0M1633.6 418.4h0M1631.0 411.8h0M1684.5 422.7h0M1661.8 419.1h0M1690.5 424.6h0M1675.3 411.1h0M1655.2 402.8h0M1658.7 407.5h0M1674.5 425.8h0M1659.5 409.7h0M1621.6 409.0h0M1665.2 426.1h0M1619.0 384.3h0M1663.2 403.0h0M1658.1 410.6h0M1669.1 391.7h0M1653.3 429.9h0M1663.9 405.8h0M1667.3 421.0h0M1648.9 426.5h0M1670.3 415.3h0M1673.9 401.1h0M1671.5 414.4h0M1648.3 408.9h0M1677.0 409.5h0M1656.3 408.1h0M1650.3 430.2h0M1691.3 435.3h0M1668.0 427.4h0M1656.4 410.3h0M1645.1 436.7h0M1656.5 407.3h0M1652.4 419.7h0M1653.6 417.3h0M1663.4 435.3h0M1644.2 421.1h0M1651.6 411.2h0M1683.2 425.6h0M1655.8 423.8h0M1660.8 432.2h0M1654.5 423.8h0M1658.3 417.3h0M1659.0 408.7h0M1662.6 430.5h0M1652.9 411.8h0M1666.1 406.8h0M1673.0 426.7h0M1629.8 408.2h0M1646.4 428.4h0M1673.9 400.8h0M1651.8 416.0h0M1656.1 426.9h0M1674.5 425.2h0M1676.0 429.9h0M1660.2 411.2h0M1651.1 428.3h0M1673.3 431.0h0M1656.7 411.8h0M1664.8 434.2h0M1666.0 420.2h0M1649.9 423.2h0M1668.5 404.2h0M1685.1 404.7h0M1673.8 414.4h0M1663.4 406.5h0M1653.5 426.7h0M1658.5 412.5h0M1673.3 426.9h0M1663.4 420.3h0M1684.6 414.9h0M1666.5 423.0h0M1642.2 390.9h0M1662.9 429.0h0M1663.9 409.9h0M1652.3 428.2h0M1657.2 395.3h0M1670.5 420.4h0M1666.4 431.3h0M1679.2 424.8h0M1658.8 388.4h0M1665.2 415.2h0M1679.1 434.5h0M1667.7 435.8h0M1660.2 416.6h0M1649.7 413.0h0M1664.1 431.6h0M1651.2 428.1h0M1693.0 398.9h0M1657.7 417.5h0M1674.8 444.2h0M1677.9 416.7h0M1649.6 416.4h0M1660.7 420.5h0M1649.0 437.9h0M1651.4 426.4h0M1664.1 402.3h0M1662.1 417.4h0M1658.6 428.1h0M1654.7 451.8h0M1676.5 404.7h0M1627.3 434.2h0M1664.6 418.3h0M1647.9 397.5h0M1635.8 452.1h0M1683.0 409.6h0M1686.7 391.9h0M1670.7 426.7h0M1649.4 410.9h0M1646.9 417.7h0M1679.0 430.7h0M1666.8 432.4h0M1636.7 444.7h0M1660.4 399.1h0M1655.9 408.2h0M1662.4 421.4h0M1629.2 434.3h0M1684.7 402.9h0M1681.3 434.3h0M1674.9 439.4h0M1642.0 427.0h0M1647.2 449.5h0M1647.7 400.3h0M1676.4 425.6h0M1661.4 418.9h0M1669.5 440.8h0M1651.3 409.4h0M1653.1 416.0h0M1661.2 399.4h0M1665.2 399.7h0M1656.8 413.6h0M1657.7 437.4h0M1683.6 431.9h0M1682.8 413.1h0M1680.4 416.3h0M1664.2 420.8h0M1642.6 408.6h0M1658.8 422.1h0M1659.3 405.3h0M1645.1 417.1h0M1644.7 400.8h0M1659.6 419.5h0M1649.6 392.5h0M1665.0 428.3h0M1655.4 411.8h0M1629.0 429.5h0M1645.9 426.9h0M1652.9 415.0h0M1658.4 392.2h0M1698.9 395.4h0M1662.5 405.8h0M1657.7 436.0h0M1635.3 415.0h0M1667.8 418.7h0M1666.5 406.7h0M1638.4 398.9h0M1655.4 427.2h0M1662.1 439.1h0M1662.4 419.7h0M1663.8 393.1h0M1669.0 401.7h0M1655.8 449.3h0M1643.9 418.6h0M1665.0 418.8h0M1661.1 409.3h0M1688.5 389.3h0M1646.8 437.5h0M1668.6 406.4h0M1648.6 413.6h0M1697.4 423.8h0M1646.8 420.3h0M1652.4 437.7h0M1665.1 434.4h0M1663.2 445.1h0M1666.7 420.9h0M1646.9 411.2h0M1666.4 410.1h0M1695.3 416.8h0M1650.5 430.6h0M1653.7 422.6h0M1659.7 407.1h0M1680.2 418.3h0M1676.0 412.3h0M1641.3 399.8h0M1653.8 414.5h0M1661.8 424.1h0M1643.9 420.2h0M1644.2 407.6h0M1696.4 434.6h0M1656.0 441.7h0M1680.6 429.3h0M1681.3 413.6h0M1659.3 405.1h0M1669.1 399.7h0M1654.1 423.3h0M1654.0 421.8h0M1686.2 403.4h0M1680.4 407.6h0M1648.1 420.1h0M1675.2 407.2h0M1650.9 410.9h0M1651.1 419.6h0M1651.2 413.5h0M1665.9 411.2h0M1676.9 407.7h0M1650.4 445.1h0M1681.8 418.0h0M1672.5 421.7h0M1654.0 426.3h0M1665.2 434.7h0M1635.6 428.1h0M1663.3 407.5h0M1655.1 411.4h0M1642.7 409.1h0M1671.8 396.1h0M1655.8 384.4h0M1653.1 422.4h0M1660.3 417.6h0M1645.6 424.9h0M1648.5 429.5h0M1663.9 411.7h0M1681.5 411.6h0M1675.1 418.4h0M1661.0 430.8h0M1667.0 416.9h0M1659.4 419.9h0M1662.2 412.5h0M1646.7 381.3h0M1659.5 413.7h0M1677.8 423.2h0M1676.8 441.0h0M1659.5 405.4h0M1672.3 408.8h0M1657.5 436.9h0M1668.6 432.2h0M1642.4 417.5h0M1676.5 399.3h0M1663.8 422.6h0M1629.2 439.1h0M1651.2 415.1h0M1684.2 392.3h0M1667.4 410.9h0M1661.6 405.7h0M1679.9 401.6h0M1666.0 424.5h0M1659.8 413.3h0M1657.4 431.2h0M1667.3 415.9h0M1646.0 419.2h0M1668.4 416.6h0M1680.9 390.7h0M1695.5 414.5h0M1645.3 393.0h0M1673.0 425.0h0M1658.1 416.4h0M1663.4 411.2h0M1677.0 425.7h0M1659.4 394.4h0M1680.0 410.5h0M1646.8 434.9h0M1668.0 389.3h0M1638.1 411.6h0M1643.7 414.9h0M1697.2 458.2h0M1660.5 428.1h0M1673.4 415.4h0M1640.7 431.9h0M1658.7 423.4h0M1670.9 405.9h0M1684.4 418.2h0M1664.2 411.1h0M1670.9 431.1h0M1653.4 425.2h0M1655.1 400.1h0M1656.6 425.5h0M1668.8 432.1h0M1651.8 412.9h0M1662.1 425.7h0M1659.5 404.0h0M1639.7 433.4h0M1675.9 408.0h0M1681.6 416.3h0M1667.5 434.6h0M1654.5 406.4h0M1637.2 421.4h0M1667.4 429.1h0M1669.6 418.6h0M1677.1 403.0h0M1666.6 424.3h0M1659.5 441.1h0M1667.3 435.9h0M1673.6 414.7h0M1688.0 432.6h0M1661.5 415.6h0M1646.9 415.1h0M1657.9 420.1h0M1655.4 425.1h0M1660.1 395.3h0M1654.2 404.8h0M1643.6 413.7h0M1673.9 401.7h0M1633.5 415.0h0M1702.6 409.1h0M1665.0 411.5h0M1673.2 437.2h0M1659.1 433.7h0M1646.2 420.2h0M1643.7 419.9h0M1652.8 420.6h0M1645.7 420.5h0M1662.9 409.4h0M1650.2 400.9h0M1655.8 422.9h0M1659.5 419.5h0M1678.9 412.8h0M1665.4 428.8h0M1668.5 422.7h0M1662.4 444.0h0M1660.3 412.0h0M1669.5 440.0h0M1680.9 417.8h0M1672.9 424.3h0M1662.4 426.4h0M1669.9 419.3h0M1685.2 412.1h0M1680.7 446.4h0M1690.6 421.1h0M1658.8 395.2h0M1660.6 451.2h0M1639.7 396.0h0M1673.0 425.9h0M1636.1 416.6h0M1666.1 396.4h0M1674.7 399.0h0M1677.0 420.2h0M1651.7 395.1h0M1656.6 416.0h0M1659.6 409.1h0M1658.4 429.4h0M1648.7 414.4h0M1667.7 417.0h0M1673.3 438.9h0M1656.4 420.3h0M1620.7 412.5h0M1670.6 401.8h0M1679.7 391.2h0M1680.0 410.2h0M1647.2 410.6h0M1657.6 403.2h0M1642.2 410.0h0M1674.4 422.9h0M1679.9 408.8h0M1656.3 412.6h0M1663.2 423.6h0M1685.6 427.0h0M1663.5 436.0h0M1650.4 399.0h0M1670.5 419.5h0M1662.9 430.1h0M1656.6 415.7h0M1666.5 426.2h0M1674.8 418.8h0M1664.9 383.7h0M1678.1 395.5h0M1660.6 452.3h0M1656.7 395.3h0M1683.5 409.5h0M1658.9 414.9h0M1671.3 427.9h0M1659.4 432.5h0M1648.7 426.5h0M1652.5 426.8h0M1651.9 411.1h0M1681.5 401.6h0M1644.9 425.1h0M1657.4 411.2h0M1659.1 446.4h0M1646.8 413.4h0M1663.4 404.1h0M1660.6 423.8h0M1648.5 432.5h0M1645.3 415.1h0M1665.7 461.0h0M1636.9 421.0h0M1695.9 408.8h0M1676.1 420.0h0M1641.3 422.5h0M1648.8 418.2h0M1640.3 427.1h0M1627.7 414.7h0M1678.8 424.2h0M1656.2 413.8h0M1655.2 454.6h0M1660.3 416.8h0M1650.9 410.5h0M1669.4 408.6h0M1649.9 409.4h0M1656.1 419.4h0M1654.3 414.4h0M1650.7 434.1h0M1662.3 412.7h0M1665.0 416.4h0M1639.4 414.5h0M1683.8 424.0h0M1677.3 407.8h0M1640.5 407.4h0M1679.7 403.2h0M1650.0 432.3h0M1657.5 414.3h0M1666.3 418.2h0M1656.8 420.5h0M1651.1 416.4h0M1670.0 402.4h0M1658.1 401.2h0M1671.3 425.5h0M1674.0 431.2h0M1675.1 426.9h0M1650.3 429.9h0M1648.4 449.2h0M1665.0 425.2h0M1644.0 431.8h0M1677.2 395.3h0M1653.3 410.5h0M1652.0 436.1h0M1690.9 402.3h0M1675.5 413.4h0M1679.9 383.2h0M1655.0 433.8h0M1650.5 433.4h0M1653.9 432.7h0M1669.0 411.2h0M1650.4 414.6h0M1677.0 416.9h0M1651.8 462.8h0M1639.2 413.8h0M1668.4 402.5h0M1660.8 411.1h0M1640.5 423.2h0M1645.2 406.5h0M1678.0 401.5h0M1669.3 433.3h0M1674.7 423.4h0M1657.7 397.6h0M1662.9 423.1h0M1653.9 403.3h0M1672.9 402.3h0M1667.0 410.2h0M1637.6 439.2h0M1669.3 424.4h0M1641.3 415.1h0M1664.7 406.5h0M1683.6 388.9h0M1670.5 390.6h0M1639.1 399.0h0M1668.6 406.8h0M1651.4 404.1h0M1640.2 404.2h0M1646.9 412.1h0M1655.2 383.3h0M1651.5 433.1h0M1653.8 415.3h0M1650.3 406.7h0M1659.1 397.5h0M1657.8 393.0h0M1664.6 394.2h0M1669.0 429.9h0M1637.5 425.2h0M1654.2 431.9h0M1652.5 411.9h0M1655.7 433.1h0M1633.0 426.3h0M1661.0 408.9h0M1656.4 428.6h0M1671.0 439.0h0M1650.8 389.5h0M1652.0 412.9h0M1653.5 432.5h0M1691.1 420.8h0M1635.0 429.9h0M1650.7 416.2h0M1671.2 420.6h0M1658.6 419.5h0M1670.0 424.2h0M1688.1 374.2h0M1648.7 407.5h0M1670.9 418.6h0M1671.3 395.8h0M1656.5 424.4h0M1658.8 410.0h0M1663.3 438.3h0M1630.4 437.4h0M1663.4 403.7h0M1668.6 416.1h0M1676.2 404.4h0M1672.9 403.0h0M1663.9 425.1h0M1658.4 424.4h0M1651.3 430.2h0M1652.6 405.8h0M1657.9 414.8h0M1648.0 426.5h0M1657.8 423.9h0M1638.9 397.4h0M1655.9 401.8h0M1657.7 423.3h0M1674.9 435.8h0M1759.6 405.8h0M1756.3 408.3h0M1756.2 401.0h0M1767.3 421.3h0M1744.8 396.8h0M1752.6 408.3h0M1752.2 405.7h0M1741.3 424.1h0M1769.2 398.1h0M1746.1 421.0h0M1746.7 409.5h0M1778.6 404.0h0M1753.8 408.8h0M1747.5 384.0h0M1761.0 412.7h0M1735.5 438.5h0M1745.0 407.1h0M1737.1 430.3h0M1749.2 411.3h0M1730.5 403.1h0M1753.6 415.3h0M1721.0 403.5h0M1751.9 452.6h0M1738.4 384.9h0M1759.4 409.0h0M1730.6 423.4h0M1745.6 402.3h0M1730.7 413.9h0M1750.0 391.1h0M1762.4 398.1h0M1768.1 420.2h0M1746.2 420.2h0M1740.6 414.7h0M1771.5 407.7h0M1760.1 403.2h0M1748.5 428.9h0M1732.2 420.2h0M1719.1 399.8h0M1743.0 427.8h0M1758.7 403.0h0M1747.0 418.2h0M1727.2 421.5h0M1767.5 432.8h0M1740.7 410.0h0M1735.9 408.8h0M1745.4 425.0h0M1749.9 402.8h0M1760.1 427.8h0M1740.4 412.2h0M1747.4 392.9h0M1750.7 424.9h0M1775.7 418.3h0M1744.9 413.6h0M1757.3 426.6h0M1737.0 418.3h0M1757.9 387.9h0M1767.8 412.7h0M1760.9 415.0h0M1745.5 414.6h0M1752.8 427.7h0M1745.2 400.2h0M1739.2 402.2h0M1759.4 402.5h0M1769.9 417.5h0M1747.7 433.7h0M1743.9 411.7h0M1759.7 426.0h0M1735.2 449.7h0M1756.8 398.5h0M1746.6 428.6h0M1752.0 427.6h0M1781.7 428.7h0M1776.7 425.2h0M1739.9 436.7h0M1739.4 429.1h0M1758.1 404.3h0M1739.4 413.5h0M1754.7 434.4h0M1750.3 442.3h0M1761.4 407.3h0M1740.8 417.4h0M1742.2 415.0h0M1760.2 419.9h0M1763.0 406.8h0M1737.6 397.1h0M1725.0 410.2h0M1750.6 413.7h0M1749.7 444.7h0M1734.6 412.8h0M1743.0 404.0h0M1768.4 416.1h0M1767.0 401.0h0M1775.6 447.8h0M1737.8 416.4h0M1748.0 424.3h0M1731.9 423.1h0M1759.9 408.4h0M1718.6 407.3h0M1744.4 427.2h0M1741.3 400.8h0M1758.4 421.8h0M1760.0 417.3h0M1764.5 423.8h0M1725.3 419.5h0M1760.6 417.2h0M1770.1 410.4h0M1759.6 399.8h0M1749.9 409.2h0M1736.1 398.7h0M1753.0 422.7h0M1741.2 399.7h0M1737.9 427.2h0M1733.4 432.5h0M1726.9 420.6h0M1759.2 433.6h0M1744.1 406.2h0M1730.3 429.3h0M1748.2 410.5h0M1744.2 420.3h0M1750.4 433.1h0M1720.3 428.5h0M1742.7 415.7h0M1745.7 415.7h0M1760.5 419.9h0M1730.1 415.9h0M1748.7 422.0h0M1750.6 415.8h0M1764.2 401.8h0M1780.2 409.1h0M1735.8 427.7h0M1764.9 434.2h0M1770.2 423.5h0M1751.0 422.1h0M1750.1 409.4h0M1772.3 442.0h0M1750.3 413.8h0M1743.4 393.7h0M1740.8 409.8h0M1749.9 403.2h0M1723.9 426.0h0M1774.0 387.6h0M1748.3 428.8h0M1734.1 397.2h0M1750.7 413.8h0M1741.4 439.7h0M1770.9 426.1h0M1749.3 412.6h0M1762.5 413.9h0M1770.9 434.4h0M1742.0 427.7h0M1772.1 426.3h0M1737.4 413.6h0M1745.8 419.0h0M1751.0 412.5h0M1762.5 436.1h0M1742.9 397.1h0M1755.8 417.6h0M1756.6 408.1h0M1754.8 405.1h0M1765.9 440.9h0M1738.1 381.9h0M1744.2 410.5h0M1753.7 418.1h0M1757.9 455.3h0M1743.4 412.7h0M1757.1 392.4h0M1762.0 409.3h0M1731.3 406.3h0M1758.1 429.6h0M1768.4 424.1h0M1741.3 425.7h0M1750.2 450.4h0M1722.9 440.4h0M1762.0 423.8h0M1750.1 410.4h0M1738.1 396.7h0M1779.5 431.2h0M1760.7 423.3h0M1725.0 414.4h0M1753.2 434.3h0M1737.7 422.1h0M1748.3 418.8h0M1740.8 423.4h0M1752.7 392.6h0M1768.4 448.8h0M1739.5 434.3h0M1738.1 411.2h0M1776.0 421.3h0M1772.6 422.6h0M1765.7 416.3h0M1771.6 443.3h0M1761.2 410.8h0M1746.8 405.6h0M1760.2 425.9h0M1742.3 431.4h0M1744.0 443.8h0M1763.3 440.7h0M1742.1 405.0h0M1726.8 427.7h0M1736.5 437.4h0M1754.0 429.4h0M1734.4 410.7h0M1754.6 429.1h0M1734.3 423.6h0M1740.7 430.1h0M1749.0 414.8h0M1758.1 434.9h0M1748.8 435.8h0M1738.4 422.8h0M1736.7 421.9h0M1739.6 419.4h0M1760.7 405.6h0M1728.0 416.5h0M1759.3 422.1h0M1739.6 430.4h0M1748.1 429.4h0M1739.9 424.9h0M1768.2 409.7h0M1748.0 427.4h0M1759.2 423.7h0M1750.3 397.3h0M1751.9 401.1h0M1753.1 386.6h0M1771.7 444.9h0M1758.1 407.1h0M1747.8 430.9h0M1761.0 409.2h0M1768.4 428.6h0M1759.2 413.9h0M1751.9 409.0h0M1754.5 409.6h0M1767.9 419.2h0M1754.8 423.2h0M1756.3 399.2h0M1769.4 420.0h0M1744.3 405.4h0M1742.5 410.3h0M1752.0 406.9h0M1753.3 420.6h0M1742.4 448.8h0M1750.2 423.2h0M1753.3 416.4h0M1761.0 437.4h0M1750.7 406.8h0M1759.2 389.1h0M1753.8 415.9h0M1756.1 397.8h0M1745.7 404.4h0M1744.2 426.4h0M1748.8 410.1h0M1767.6 418.4h0M1723.8 403.9h0M1757.0 424.1h0M1754.3 421.6h0M1739.0 416.7h0M1735.0 406.5h0M1738.7 406.4h0M1746.4 414.7h0M1740.1 432.5h0M1744.7 438.6h0M1764.5 401.1h0M1762.9 398.5h0M1770.4 422.0h0M1737.2 387.6h0M1745.2 399.0h0M1765.4 400.4h0M1747.3 423.9h0M1750.5 420.7h0M1747.0 427.0h0M1737.6 424.8h0M1733.9 419.5h0M1734.8 414.3h0M1758.2 433.8h0M1725.7 406.6h0M1736.9 433.5h0M1738.4 426.5h0M1743.1 397.3h0M1751.6 401.4h0M1760.1 428.2h0M1768.2 403.1h0M1771.5 430.0h0M1725.7 447.0h0M1773.0 402.7h0M1754.5 398.6h0M1748.2 419.4h0M1758.5 405.6h0M1749.7 404.2h0M1755.3 425.9h0M1751.0 432.5h0M1760.3 421.9h0M1765.9 399.9h0M1749.5 392.7h0M1749.8 410.4h0M1761.3 410.8h0M1741.3 415.5h0M1748.2 423.9h0M1738.1 396.4h0M1728.3 432.5h0M1732.8 410.5h0M1735.0 428.9h0M1742.3 433.6h0M1740.4 420.9h0M1760.4 430.0h0M1733.8 411.8h0M1749.0 391.9h0M1759.8 422.2h0M1757.0 397.9h0M1752.6 422.8h0M1764.1 409.8h0M1759.3 443.7h0M1744.2 411.3h0M1745.7 396.5h0M1745.2 439.1h0M1737.4 414.3h0M1766.5 424.7h0M1753.3 412.4h0M1748.6 417.1h0M1759.5 418.0h0M1763.0 391.5h0M1761.4 409.8h0M1750.3 411.2h0M1758.9 415.4h0M1758.7 406.0h0M1752.8 433.7h0M1765.4 412.1h0M1752.1 412.0h0M1748.6 417.2h0M1766.7 425.0h0M1770.1 438.0h0M1733.0 421.2h0M1744.2 395.0h0M1735.5 410.2h0M1773.0 418.2h0M1747.7 416.6h0M1740.0 419.4h0M1749.0 394.9h0M1743.0 462.7h0M1758.8 415.7h0M1759.3 403.9h0M1751.5 429.0h0M1728.5 407.1h0M1744.8 413.2h0M1743.3 420.8h0M1764.1 421.8h0M1764.2 431.2h0M1742.2 420.8h0M1745.2 426.0h0M1745.6 414.6h0M1773.3 414.7h0M1729.2 418.7h0M1754.3 410.3h0M1751.3 430.9h0M1743.3 414.6h0M1740.8 421.6h0M1748.6 404.7h0M1748.2 441.8h0M1727.3 398.5h0M1754.9 398.5h0M1776.7 397.1h0M1732.8 410.2h0M1764.9 428.0h0M1758.1 421.2h0M1767.9 392.7h0M1754.1 436.5h0M1736.0 421.5h0M1766.9 434.0h0M1748.6 442.3h0M1757.2 431.6h0M1736.0 407.0h0M1740.2 441.0h0M1719.0 392.5h0M1761.1 419.2h0M1710.6 411.9h0M1746.3 433.5h0M1724.7 410.1h0M1764.7 427.5h0M1738.0 413.4h0M1730.6 435.6h0M1744.7 434.3h0M1761.2 405.3h0M1748.5 425.9h0M1756.4 437.7h0M1765.5 421.6h0M1759.7 407.8h0M1742.5 425.4h0M1755.0 402.5h0M1749.4 406.6h0M1743.1 434.6h0M1737.9 408.6h0M1758.1 418.4h0M1752.8 398.0h0M1750.2 412.4h0M1739.8 409.9h0M1746.7 428.6h0M1775.8 418.9h0M1770.4 418.9h0M1730.8 418.2h0M1767.8 436.2h0M1738.9 447.3h0M1740.8 407.7h0M1743.7 436.8h0M1756.0 429.7h0M1721.0 416.8h0M1749.2 426.8h0M1744.5 433.5h0M1741.5 398.9h0M1728.8 434.4h0M1760.9 407.1h0M1765.5 415.3h0M1749.2 398.1h0M1743.5 419.0h0M1753.5 410.1h0M1764.1 436.8h0M1740.0 423.0h0M1730.5 423.1h0M1737.9 415.6h0M1753.1 414.4h0M1764.8 407.3h0M1744.6 422.0h0M1750.4 421.1h0M1748.1 406.9h0M1759.7 418.7h0M1762.9 435.5h0M1746.2 407.8h0M1744.9 409.1h0M1724.4 439.6h0M1756.4 448.8h0M1743.5 425.6h0M1754.6 416.8h0M1764.0 417.8h0M1749.9 419.9h0M1721.2 408.2h0M1741.2 439.7h0M1758.8 428.2h0M1759.3 415.2h0M1772.9 415.0h0M1732.2 426.2h0M1766.7 419.2h0M1755.8 430.5h0M1771.3 425.6h0M1773.4 421.7h0M1778.9 399.5h0M1763.6 421.7h0M1752.6 400.8h0M1765.3 415.2h0M1737.8 409.5h0M1748.0 419.2h0M1739.0 405.6h0M1756.6 416.9h0M1777.2 412.2h0M1760.9 441.0h0M1748.4 430.9h0M1755.1 418.6h0M1772.4 404.7h0M1743.0 394.4h0M1749.4 430.9h0M1747.7 428.7h0M1741.0 433.0h0M1749.5 411.5h0M1772.8 417.7h0M1758.6 419.4h0M1760.4 419.4h0M1735.1 421.6h0M1757.4 423.0h0M1748.0 441.9h0M1741.4 419.5h0M1753.8 403.5h0M1735.2 426.6h0M1760.0 419.7h0M1729.8 414.0h0M1754.2 426.1h0M1766.8 423.9h0M1763.8 439.8h0M1720.1 431.0h0M1745.2 424.2h0M1753.8 404.3h0M1739.0 423.6h0M1748.6 427.5h0M1745.9 446.2h0M1747.6 445.2h0M1740.9 425.2h0M1765.9 400.4h0M1738.2 423.1h0M1766.2 435.8h0M1758.3 431.6h0M1735.6 412.1h0M1770.1 410.4h0M1747.8 394.8h0M1748.4 396.7h0M1755.7 437.2h0M1755.1 419.9h0M1745.6 425.0h0M1736.2 411.6h0M1779.5 400.4h0M1743.4 399.2h0M1767.1 414.5h0M1734.0 401.1h0M1765.5 426.5h0M1761.4 416.8h0M1762.7 435.0h0M1759.6 396.4h0M1724.7 398.2h0M1754.3 397.7h0M1736.4 417.9h0M1739.0 400.5h0M1763.3 423.9h0M1761.0 429.6h0M1769.7 416.8h0M1748.0 394.0h0M1747.3 409.3h0M1764.3 426.1h0M1769.9 431.6h0M1766.1 424.2h0M1752.2 412.1h0M1750.1 404.5h0M1755.5 416.0h0M1723.4 381.3h0M1740.6 410.9h0M1746.3 434.2h0M1741.9 400.2h0M1755.3 430.3h0M1772.0 403.6h0M1746.8 411.3h0M1770.2 426.2h0M1750.5 426.5h0M1745.4 414.3h0M1749.7 410.3h0M1746.8 421.6h0M1753.3 436.5h0M1761.5 415.9h0M1721.1 397.3h0M1743.4 411.8h0M1732.7 411.9h0M1751.5 408.4h0M1748.1 415.5h0M1740.7 405.4h0M1748.2 420.3h0M1736.2 389.8h0M1737.3 423.3h0M1728.6 428.9h0M1742.1 418.3h0M1739.6 424.3h0M1750.5 421.5h0M1724.2 426.1h0M1727.7 412.2h0M1756.6 414.0h0M1756.3 418.8h0M1751.0 405.9h0M1763.0 431.3h0M1742.7 404.8h0M1752.4 406.6h0M1751.5 427.3h0M1758.4 435.9h0M1755.8 402.9h0M1738.5 423.5h0M1774.7 411.9h0M1737.7 434.8h0M1748.1 425.6h0M1763.8 403.7h0M1745.0 409.3h0M1756.6 425.0h0M1743.2 423.8h0M1726.4 421.1h0M1754.2 416.5h0M1730.8 415.2h0M1735.7 435.4h0M1745.9 413.8h0M1748.2 423.5h0M1750.7 423.5h0M1737.6 430.8h0M1743.3 426.3h0M1752.8 430.4h0M1748.7 397.3h0M1734.7 413.5h0M1767.7 411.0h0M1750.4 432.7h0M1742.4 420.5h0M1753.3 408.7h0M1752.7 430.1h0M1763.3 412.1h0M1787.4 421.0h0M1746.1 407.1h0M1736.9 427.1h0M1712.3 414.5h0M1731.9 414.3h0M1749.2 399.5h0M1736.9 432.9h0M1742.5 416.4h0M1745.6 427.2h0M1765.5 428.4h0M1756.8 423.8h0M1734.3 433.4h0M1742.4 405.0h0M1744.8 406.2h0M1755.0 425.8h0M1766.3 415.2h0M1742.0 412.9h0M1734.5 406.9h0M1775.6 406.5h0M1743.7 424.6h0M1753.0 426.4h0M1738.4 402.6h0M1766.8 407.7h0M1748.4 419.2h0M1725.7 414.0h0M1741.2 423.3h0M1745.6 387.3h0M1759.9 383.4h0M1744.3 407.5h0M1741.7 416.3h0M1762.0 405.2h0M1741.7 426.1h0M1756.2 425.7h0M1754.0 413.3h0M1743.3 410.3h0M1761.4 435.8h0M1775.4 403.0h0M1746.6 416.5h0M1747.5 401.8h0M1778.0 436.1h0M1747.5 410.6h0M1749.6 400.8h0M1745.3 426.5h0M1771.2 428.0h0M1766.5 402.8h0M1707.6 434.4h0M1752.1 415.4h0M1771.4 404.0h0M1737.3 406.8h0M1770.8 428.8h0M1726.5 438.1h0M1749.9 422.1h0M1739.6 441.0h0M1755.4 433.7h0M1736.7 425.6h0M1750.9 413.6h0M1739.1 407.3h0M1734.4 407.8h0M1749.4 424.1h0M1729.3 402.9h0M1741.7 395.0h0M1745.9 413.0h0M1747.2 421.9h0M1762.0 427.0h0M1753.3 424.2h0M1739.3 404.1h0M1758.2 423.9h0M1778.5 413.5h0M1736.7 420.3h0M1743.8 404.8h0M1767.6 441.8h0M1754.6 407.9h0M1753.0 415.8h0M1731.5 427.5h0M1754.2 433.0h0M1742.4 416.3h0M1748.2 393.9h0M1782.7 389.0h0M1734.7 411.9h0M1729.2 422.1h0M1743.6 417.5h0M1752.8 417.6h0M1751.1 414.6h0M1755.4 427.3h0M1746.5 410.8h0M1744.6 420.7h0M1745.0 411.6h0M1730.0 442.1h0M1733.6 438.9h0M1760.4 430.3h0M1753.4 423.3h0M1753.8 424.6h0M1761.1 436.9h0M1736.9 423.3h0M1771.4 435.3h0M1736.5 421.0h0M1753.8 420.2h0M1720.3 428.4h0M1728.8 446.0h0M1758.9 415.7h0M1758.6 418.9h0M1743.2 415.8h0M1754.9 406.4h0M1759.8 431.9h0M1764.6 432.8h0M1767.6 426.5h0M1767.8 418.0h0M1755.8 436.1h0M1776.2 412.5h0M1731.0 445.8h0M1765.9 441.6h0M1762.5 420.5h0M1742.0 404.4h0M1769.9 430.4h0M1754.7 402.4h0M1743.5 409.0h0M1746.4 378.7h0M1753.5 438.2h0M1743.2 417.6h0M1754.2 403.9h0M1756.2 406.4h0M1744.6 420.7h0M1749.7 418.6h0M1738.1 427.1h0M1735.9 428.6h0M1744.0 401.4h0M1749.3 403.1h0M1743.4 415.3h0M1761.0 428.0h0M1756.9 413.5h0M1730.0 414.3h0M1746.2 415.5h0M1743.4 410.2h0M1761.3 399.3h0M1750.6 434.2h0M1740.1 404.0h0M1747.5 412.7h0M1754.0 435.5h0M1748.8 424.8h0M1742.7 410.7h0M1754.4 408.3h0M1766.7 411.8h0M1748.3 403.2h0M1744.6 403.8h0M1743.9 393.3h0M1750.3 440.8h0M1725.1 440.7h0M1748.8 429.2h0M1736.8 444.7h0M1735.9 416.2h0M1771.5 400.0h0M1718.8 416.2h0M1740.0 404.0h0M1738.0 397.4h0M1769.4 433.8h0M1731.9 415.8h0M1744.2 432.2h0M1739.0 439.2h0M1750.4 406.5h0M1749.2 409.2h0M1781.1 419.2h0M1743.8 418.5h0M1770.5 404.1h0M1727.4 435.0h0M1758.7 411.0h0M1749.3 432.3h0M1713.1 434.5h0M1747.9 426.4h0M1749.6 459.4h0M1741.8 432.2h0M1714.6 417.6h0M1761.1 395.9h0M1722.5 418.4h0M1764.2 433.4h0M1740.9 421.8h0M1730.9 441.1h0M1742.4 434.6h0M1746.6 412.5h0M1772.6 405.1h0M1768.1 412.2h0M1738.2 405.5h0M1765.8 415.9h0M1745.4 396.3h0M1766.4 431.5h0M1754.7 427.7h0M1705.5 409.7h0M1752.4 418.5h0M1742.4 420.3h0M1740.1 408.0h0M1733.0 418.9h0M1740.3 410.1h0M1769.3 416.4h0M1749.7 395.8h0M1743.0 430.5h0M1757.8 417.7h0M1747.8 417.9h0M1755.7 412.5h0M1715.9 444.1h0M1765.9 414.9h0M1769.7 399.0h0M1768.0 419.6h0M1762.5 412.2h0M1752.3 425.1h0M1764.7 424.1h0M1756.3 408.8h0M1773.9 419.9h0M1747.1 412.5h0M1733.6 406.8h0M1729.2 419.8h0M1749.1 420.0h0M1732.9 411.2h0M1741.3 430.7h0M1729.6 396.0h0M1767.9 422.0h0M1728.5 435.6h0M1770.8 432.7h0M1721.7 418.6h0M1738.2 413.3h0M1728.4 440.9h0M1740.6 420.8h0M1761.3 425.4h0M1755.9 411.6h0M1753.2 413.9h0M1718.8 430.8h0M1741.5 409.8h0M1744.5 397.8h0M1733.4 392.1h0M1756.6 433.3h0M1751.2 401.1h0M1768.2 412.5h0M1728.1 391.0h0M1752.7 436.9h0M1744.8 408.2h0M1746.4 405.2h0M1742.6 420.4h0M1740.1 429.8h0M1736.6 426.7h0M1754.9 411.6h0M1746.0 412.4h0M1773.3 405.7h0M1766.5 430.8h0M1745.4 439.2h0M1717.3 420.3h0M1751.9 417.2h0M1761.7 411.4h0M1747.5 432.8h0M1748.5 402.6h0M1758.0 415.8h0M1742.3 424.5h0M1739.5 403.4h0M1746.5 414.3h0M1750.8 400.3h0M1773.8 426.2h0M1752.1 420.1h0M1715.6 429.7h0M1736.0 423.9h0M1733.6 430.5h0M1742.7 414.0h0M1771.2 430.6h0M1731.1 407.3h0M1752.8 413.7h0M1761.3 407.5h0M1724.2 404.3h0M1747.6 424.5h0M1760.4 434.1h0M1753.4 414.1h0M1760.2 415.5h0M1743.6 410.4h0M1762.9 437.4h0M1768.3 394.8h0M1765.2 401.4h0M1745.4 425.0h0M1731.7 400.0h0M1739.8 440.2h0M1765.0 404.5h0M1752.0 418.8h0M1754.4 407.1h0M1770.0 411.7h0M1761.4 393.7h0M1755.5 418.9h0M1768.9 381.1h0M1757.8 428.1h0M1746.5 435.1h0M1779.1 429.1h0M1761.3 435.5h0M1756.2 433.9h0M1758.4 407.5h0M1735.6 433.2h0M1758.4 407.7h0M1750.5 437.2h0M1726.5 404.5h0M1759.8 428.3h0M1734.0 403.2h0M1752.4 436.3h0M1750.3 384.9h0M1764.4 416.6h0M1743.8 400.9h0M1766.6 420.6h0M1755.7 421.8h0M1756.2 428.5h0M1773.8 402.3h0M1749.1 410.7h0M1773.4 413.0h0M1727.9 416.6h0M1740.0 406.7h0M1744.0 398.9h0M1723.4 443.9h0M1748.4 404.0h0M1758.7 435.4h0M1726.0 410.8h0M1754.0 405.3h0M1756.4 399.8h0M1740.9 415.3h0M1756.0 417.5h0M1740.7 411.8h0M1720.9 446.4h0M1744.5 412.8h0M1753.8 424.8h0M1754.9 407.6h0M1727.2 414.5h0M1739.1 409.3h0M1750.1 420.2h0M1768.0 414.9h0M1726.2 425.0h0M1762.9 394.2h0M1758.5 419.5h0M1742.6 419.3h0M1755.5 425.1h0M1765.9 416.7h0M1750.0 450.3h0M1735.3 413.1h0M1745.2 427.5h0M1765.4 398.6h0M1767.1 400.4h0M1786.1 407.6h0M1765.4 413.2h0M1759.9 406.5h0M1751.9 417.2h0M1751.4 427.9h0M1744.0 412.4h0M1731.9 415.0h0M1743.3 429.1h0M1759.4 406.9h0M1756.2 435.1h0M1747.2 400.7h0M1784.1 424.6h0M1759.8 451.5h0M1739.1 421.1h0M1723.9 423.7h0M1755.6 406.1h0M1738.3 414.5h0M1746.9 438.8h0M1746.7 414.7h0M1747.7 394.8h0M1743.4 398.2h0M1751.9 386.6h0M1734.6 420.4h0M1721.1 395.4h0M1763.8 398.5h0M1750.0 421.1h0M1735.4 393.5h0M1771.2 409.2h0M1757.2 406.4h0M1755.1 398.7h0M1731.1 402.4h0M1741.4 408.2h0M1745.5 422.9h0M1742.7 429.8h0M1740.9 426.0h0M1768.2 440.9h0M1722.6 440.7h0M1725.7 436.5h0M1749.9 421.7h0M1737.0 429.8h0M1759.6 409.2h0M1741.6 428.7h0M1764.4 427.5h0M1744.8 416.9h0M1763.1 428.5h0M1765.7 418.9h0M1740.4 420.9h0M1756.4 409.6h0M1756.3 405.3h0M1753.7 408.6h0M1779.3 433.4h0M1753.7 398.8h0M1733.1 426.6h0M1748.0 421.2h0M1728.4 396.1h0M1751.7 414.0h0M1731.7 405.9h0M1760.9 410.9h0M1758.1 439.7h0M1754.8 418.7h0M1741.9 433.7h0M1730.2 401.7h0M1749.9 396.6h0M1763.6 408.3h0M1757.4 412.6h0M1746.6 417.1h0M1723.0 401.9h0M1743.6 447.6h0M1761.3 426.9h0M1735.8 429.2h0M1767.3 427.3h0M1786.3 398.3h0M1735.2 413.3h0M1736.6 417.6h0M1757.3 416.7h0M1751.5 422.5h0M1760.8 407.8h0M1740.8 433.3h0M1745.4 405.4h0M1754.0 412.0h0M1751.7 416.0h0M1758.8 429.5h0M1738.6 400.1h0M1772.1 407.4h0M1728.6 390.7h0M1749.5 408.0h0M1724.8 403.8h0M1735.4 430.6h0M1753.3 416.7h0M1732.5 414.3h0M1759.1 419.0h0M1764.6 417.9h0M1759.5 423.1h0M1742.2 435.2h0M1755.0 428.2h0M1735.3 401.8h0M1747.5 405.7h0M1758.5 422.4h0M1766.9 424.9h0M1734.4 429.9h0M1741.0 406.7h0M1750.8 416.7h0M1764.3 455.8h0M1755.8 436.9h0M1747.1 421.4h0M1742.8 411.0h0M1768.5 423.0h0M1756.1 405.7h0M1773.6 414.3h0M1741.0 416.5h0M1759.3 427.1h0M1770.3 402.2h0M1744.1 438.3h0M1781.3 408.1h0M1748.7 395.5h0M1738.7 404.6h0M1748.6 400.4h0M1762.8 416.0h0M1746.5 429.5h0M1746.3 399.7h0M1750.4 446.7h0M1751.4 424.0h0M1747.3 413.8h0M1757.0 380.4h0M1732.9 408.6h0M1746.3 436.8h0M1783.8 425.5h0M1755.5 426.2h0M1770.8 403.3h0M1743.3 419.0h0M1754.1 390.7h0M1755.9 394.9h0M1760.6 428.5h0M1718.9 423.7h0M1752.7 408.3h0M1763.1 444.4h0M1756.8 401.8h0M1730.2 400.7h0M1736.0 432.3h0M1754.0 416.4h0M1762.0 417.1h0M1750.5 405.2h0M1741.4 417.2h0M1733.9 439.6h0M1751.7 409.2h0M1763.4 402.2h0M1764.5 418.0h0M1775.9 409.2h0M1744.5 405.2h0M1732.8 420.2h0M1735.4 421.2h0M1741.2 431.3h0M1714.9 422.5h0M1750.6 416.8h0M1741.3 440.8h0M1744.3 422.6h0M1746.3 411.8h0M1751.2 426.0h0M1734.6 410.3h0M1730.6 422.2h0M1738.2 406.5h0M1758.9 416.6h0M1755.5 414.8h0M1755.6 417.9h0M1734.6 419.6h0M1745.2 413.4h0M1753.8 409.1h0M1735.3 433.0h0M1775.2 412.0h0M1765.7 422.0h0M1741.1 405.2h0M1746.1 410.8h0M1745.3 415.0h0M1734.4 428.6h0M1734.4 402.0h0M1762.6 427.2h0M1769.9 418.6h0M1741.1 432.5h0M1748.6 415.0h0M1738.3 422.3h0M1717.3 424.0h0M1722.4 428.7h0M1728.5 426.1h0M1784.0 412.9h0M1733.9 443.5h0M1743.8 401.4h0M1767.2 377.5h0M1729.5 398.6h0M1740.3 388.8h0M1761.3 430.8h0M1749.1 411.0h0M1728.4 423.2h0M1740.2 425.2h0M1764.0 417.4h0M1720.8 403.8h0M1768.7 420.5h0M1769.5 385.9h0M1748.4 414.3h0M1727.5 407.8h0M1763.4 424.2h0M1742.5 421.2h0M1766.4 401.8h0M1754.0 431.2h0M1740.4 434.7h0M1748.7 432.1h0M1762.7 420.4h0M1745.9 407.7h0M1752.3 419.7h0M1769.4 415.6h0M1754.9 440.0h0M1754.5 423.1h0M1772.2 418.1h0M1755.5 427.2h0M1748.4 401.4h0M1729.8 414.0h0M1765.5 430.5h0M1772.5 429.3h0M1741.0 396.7h0M1742.9 413.1h0M1739.7 429.5h0M1739.1 424.8h0M1760.8 392.8h0M1744.2 434.1h0M1761.6 418.5h0M1734.7 407.1h0M1751.2 434.2h0M1756.8 415.6h0M1753.2 427.5h0M1725.8 403.1h0M1750.4 433.5h0M1764.9 406.0h0M1750.3 406.5h0M1744.6 418.8h0M1745.0 409.1h0M1733.9 394.9h0M1747.3 419.4h0M1758.5 405.5h0M1740.0 434.1h0M1755.7 428.9h0M1742.1 406.9h0M1734.1 430.4h0M1734.3 392.9h0M1739.6 434.2h0M1750.3 420.0h0M1751.5 416.1h0M1747.6 397.4h0M1772.8 414.6h0M1766.6 395.2h0M1757.4 400.5h0M1732.1 420.4h0M1764.1 435.6h0M1768.2 413.0h0M1760.7 408.5h0M1742.5 420.1h0M1748.3 428.4h0M1724.7 432.4h0M1741.9 437.1h0M1765.7 400.9h0M1749.2 426.1h0M1739.0 406.5h0M1745.8 427.0h0M1762.4 410.9h0M1761.4 437.0h0M1762.6 406.7h0M1738.4 420.7h0M1761.3 422.7h0M1744.7 404.0h0M1767.4 414.8h0M1775.6 401.1h0M1745.5 408.0h0M1775.3 433.8h0M1743.2 390.4h0M1765.9 418.6h0M1734.6 396.2h0M1755.6 414.0h0M1752.0 422.3h0M1745.0 413.1h0M1759.1 415.4h0M1746.3 425.7h0M1723.0 433.9h0M1756.2 406.4h0M1747.7 433.8h0M1757.7 392.5h0M1736.2 419.4h0M1774.6 427.4h0M1747.4 424.9h0M1750.4 412.8h0M1755.4 387.7h0M1764.0 424.3h0M1744.2 405.3h0M1733.7 420.7h0M1752.2 419.4h0M1773.6 386.9h0M1740.3 406.4h0M1763.2 413.6h0M1737.3 419.8h0M1755.8 439.1h0M1753.7 411.0h0M1743.3 405.9h0M1756.9 428.2h0M1747.1 415.2h0M1769.1 418.4h0M1757.0 402.2h0M1741.9 387.8h0M1731.5 422.0h0M1767.3 413.4h0M1733.9 418.3h0M1765.9 414.8h0M1762.8 416.1h0M1733.4 404.6h0M1746.7 448.2h0M1758.2 413.8h0M1754.2 419.9h0M1744.2 415.6h0M1746.7 427.2h0M1771.6 435.2h0M1745.9 424.6h0M1740.3 402.1h0M1751.3 425.4h0M1749.4 428.4h0M1761.6 427.4h0M1748.1 398.4h0M1774.9 410.5h0M1760.3 423.7h0M1745.5 442.0h0M1759.5 416.8h0M1744.5 403.8h0M1732.9 424.8h0M1744.2 410.8h0M1757.1 412.3h0M1759.1 408.3h0M1743.1 429.6h0M1740.9 425.4h0M1757.1 417.1h0M1727.6 399.1h0M1735.3 399.4h0M1762.0 405.1h0M1733.3 410.1h0M1748.9 394.2h0M1758.5 426.9h0M1742.1 428.0h0M1729.0 409.5h0M1748.0 418.0h0M1765.8 412.5h0M1736.4 419.9h0M1752.3 423.1h0M1745.6 419.3h0M1742.4 424.7h0M1741.2 408.6h0M1766.1 406.6h0M1750.2 424.7h0M1745.9 429.3h0M1742.3 430.9h0M1729.0 398.6h0M1751.1 436.4h0M1772.1 405.3h0M1749.8 410.3h0M1721.1 426.8h0M1745.1 435.6h0M1754.0 409.8h0M1740.8 414.4h0M1756.3 410.3h0M1788.2 419.8h0M1734.7 418.1h0M1765.7 422.8h0M1745.7 408.0h0M1739.5 400.9h0M1743.2 420.5h0M1742.5 439.1h0M1755.3 411.0h0M1749.7 436.9h0M1727.0 420.2h0M1786.5 430.6h0M1737.9 418.7h0M1747.0 454.8h0M1741.0 413.3h0M1745.7 397.6h0M1705.4 413.7h0M1757.2 411.1h0M1756.9 427.2h0M1759.6 393.9h0M1770.7 428.6h0M1761.1 417.1h0M1750.1 409.6h0M1755.9 429.5h0M1742.4 428.1h0M1743.8 425.0h0M1748.2 428.6h0M1776.4 420.1h0M1743.5 411.2h0M1758.6 410.3h0M1763.5 421.0h0M1762.5 409.5h0M1737.2 406.9h0M1755.6 406.3h0M1759.6 389.0h0M1741.2 414.8h0M1725.4 408.7h0M1729.9 416.1h0M1746.9 427.1h0M1738.8 394.9h0M1742.8 418.8h0M1751.5 419.3h0M1766.8 412.2h0M1747.4 405.5h0M1742.2 431.2h0M1755.2 381.5h0M1766.7 390.0h0M1744.7 430.3h0M1752.0 424.7h0M1762.1 421.1h0M1733.2 422.1h0M1740.8 384.2h0M1746.3 424.5h0M1751.9 417.2h0M1773.9 420.8h0M1762.7 421.6h0M1772.7 412.1h0M1766.4 441.9h0M1745.2 431.4h0M1731.9 421.4h0M1760.4 405.9h0M1726.0 417.8h0M1745.9 419.7h0M1754.4 428.5h0M1771.7 423.1h0M1729.6 426.4h0M1755.7 419.2h0M1772.0 420.9h0M1745.6 423.6h0M1728.7 430.3h0M1751.3 440.3h0M1759.8 422.4h0M1753.1 401.3h0M1749.5 421.4h0M1764.0 423.3h0M1760.0 426.7h0M1743.4 421.6h0M1747.7 400.4h0M1730.1 428.7h0M1770.2 436.8h0M1739.1 437.9h0M1771.9 407.2h0M1757.3 440.7h0M1752.0 433.6h0M1742.3 412.9h0M1762.7 415.3h0M1752.5 418.8h0M1736.8 437.8h0M1748.9 413.1h0M1744.7 418.4h0M1738.1 429.3h0M1746.1 428.3h0M1738.8 403.7h0M1738.2 420.6h0M1732.8 428.9h0M1746.2 429.7h0M1745.5 428.5h0M1736.7 402.5h0M1758.7 410.0h0M1765.1 408.0h0M1757.6 406.3h0M1727.0 436.9h0M1747.8 430.6h0M1753.0 394.1h0M1756.0 432.1h0M1768.2 439.7h0M1755.9 416.0h0M1751.5 401.5h0M1760.6 427.2h0M1755.3 406.8h0M1759.3 409.9h0M1767.5 409.1h0M1743.4 413.0h0M1736.5 405.1h0M1746.7 383.8h0M1777.7 422.4h0M1754.5 405.3h0M1753.1 417.2h0M1751.8 397.1h0M1748.9 391.5h0M1747.7 405.1h0M1742.1 412.8h0M1761.9 433.9h0M1750.8 402.5h0M1770.7 398.0h0M1742.9 414.3h0M1740.3 435.4h0M1755.9 431.9h0M1746.3 429.0h0M1748.3 415.1h0M1754.4 422.5h0M1758.1 414.2h0M1729.8 412.8h0M1713.7 413.2h0M1739.2 428.3h0M1713.2 444.4h0M1745.6 395.3h0M1756.0 423.7h0M1756.1 446.8h0M1738.9 421.0h0M1752.3 407.7h0M1754.2 434.2h0M1738.6 423.2h0M1764.0 425.9h0M1728.3 420.9h0M1744.9 433.8h0M1748.5 443.9h0M1733.4 423.9h0M1738.2 441.3h0M1771.7 404.4h0M1760.5 416.4h0M1728.0 402.7h0M1751.6 424.1h0M1745.1 421.0h0M1754.5 421.0h0M1734.0 418.9h0M1757.5 396.6h0M1771.3 437.0h0M1752.4 445.6h0M1739.2 404.1h0M1741.7 407.2h0M1775.5 417.7h0M1749.5 422.0h0M1772.0 419.3h0M1745.1 420.8h0M1767.5 414.3h0M1769.6 421.2h0M1747.8 423.8h0M1777.3 413.7h0M1769.1 424.8h0M1752.4 417.8h0M1761.5 425.5h0M1755.3 426.1h0M1738.5 408.2h0M1736.6 412.4h0M1747.4 412.0h0M1757.6 404.2h0M1747.0 428.9h0M1773.2 417.8h0M1766.6 435.8h0M1736.4 420.4h0M1736.0 411.8h0M1755.8 399.8h0M1757.5 415.2h0M1747.0 424.3h0M1739.1 394.0h0M1750.6 407.3h0M1747.5 402.1h0M1737.5 403.0h0M1732.8 405.9h0M1739.5 417.4h0M1793.2 408.6h0M1728.6 424.8h0M1733.4 404.8h0M1745.5 417.5h0M1751.1 420.2h0M1748.5 431.9h0M1761.5 409.5h0M1747.2 398.5h0M1759.0 414.1h0M1775.9 407.7h0M1770.6 404.4h0M1727.3 405.2h0M1754.7 430.6h0M1738.2 429.9h0M1742.9 409.9h0M1745.9 439.1h0M1752.5 420.9h0M1729.6 419.0h0M1753.8 438.8h0M1738.2 407.2h0M1737.6 408.0h0M1759.0 406.0h0M1767.2 417.2h0M1737.6 407.9h0M1731.4 397.1h0M1765.5 428.6h0M1736.6 410.6h0M1771.5 406.9h0M1752.9 423.5h0M1747.2 414.1h0M1745.3 418.2h0M1728.7 417.3h0M1752.3 398.7h0M1755.9 404.0h0M1714.3 390.4h0M1751.1 424.1h0M1744.0 396.9h0M1747.5 428.9h0M1749.1 396.6h0M1756.0 413.8h0M1747.3 417.3h0M1757.3 415.0h0M1736.7 415.0h0M1751.5 432.4h0M1733.1 414.6h0M1737.8 420.1h0M1742.3 374.8h0M1762.5 407.5h0M1734.9 396.1h0M1735.2 398.9h0M1747.7 418.4h0M1748.6 421.3h0M1738.4 424.6h0M1748.2 422.4h0M1757.9 411.4h0M1766.4 427.2h0M1744.1 440.2h0M1772.1 395.7h0M1719.3 408.1h0M1755.9 429.1h0M1758.6 416.3h0M1762.7 426.1h0M1743.8 419.0h0M1764.1 407.9h0M1741.3 405.3h0M1769.4 425.6h0M1761.1 411.6h0M1749.4 432.9h0M1746.0 432.5h0M1749.5 416.3h0M1757.3 428.2h0M1773.5 412.0h0M1772.6 406.4h0M1738.3 386.6h0M1761.2 436.6h0M1733.7 412.3h0M1746.4 395.8h0M1750.8 420.7h0M1743.2 403.0h0M1751.7 424.7h0M1730.9 415.4h0M1757.5 379.0h0M1754.3 439.8h0M1732.6 434.3h0M1746.0 424.9h0M1747.8 401.4h0M1726.9 448.9h0M1731.9 413.1h0M1769.2 420.9h0M1752.3 389.6h0M1741.6 398.8h0M1725.8 421.7h0M1761.2 406.4h0M1741.2 422.6h0M1761.9 402.6h0M1765.8 429.4h0M1750.1 401.8h0M1757.6 426.1h0M1773.7 408.7h0M1771.4 412.0h0M1757.1 415.3h0M1751.1 436.6h0M1740.8 428.0h0M1746.4 416.3h0M1740.3 419.5h0M1723.1 413.3h0M1763.7 428.2h0M1728.1 401.7h0M1744.4 442.2h0M1744.3 416.7h0M1746.7 421.0h0M1737.7 420.4h0M1756.5 431.0h0M1738.1 429.1h0M1776.1 427.6h0M1759.4 383.7h0M1768.2 442.9h0M1766.7 423.8h0M1761.4 457.7h0M1740.4 411.4h0M1765.1 420.4h0M1720.7 420.0h0M1754.8 404.2h0M1755.3 420.3h0M1725.6 424.0h0M1779.4 440.7h0M1734.7 398.9h0M1750.9 420.8h0M1731.9 406.8h0M1768.7 420.3h0M1764.3 416.5h0M1764.2 409.7h0M1743.0 403.9h0M1723.9 411.5h0M1642.4 487.5h0M1662.8 496.3h0M1666.3 488.5h0M1660.1 509.7h0M1658.8 494.2h0M1627.3 478.7h0M1675.8 482.0h0M1646.1 507.1h0M1644.0 507.4h0M1659.4 485.2h0M1632.7 512.0h0M1635.9 476.9h0M1671.6 476.7h0M1667.7 493.2h0M1657.0 479.2h0M1651.7 497.5h0M1647.2 502.4h0M1664.0 501.2h0M1663.9 501.4h0M1665.9 505.1h0M1665.9 498.1h0M1648.1 470.0h0M1661.4 506.9h0M1647.9 471.9h0M1653.2 498.6h0M1672.4 489.3h0M1644.5 492.9h0M1670.0 493.0h0M1674.6 486.8h0M1672.7 516.2h0M1647.0 481.8h0M1669.6 536.5h0M1667.7 493.3h0M1678.7 492.1h0M1638.5 480.6h0M1679.2 470.6h0M1641.2 505.0h0M1662.7 510.3h0M1646.2 483.6h0M1655.9 476.7h0M1657.5 491.4h0M1672.6 492.5h0M1655.2 500.5h0M1675.9 508.0h0M1664.5 488.5h0M1654.2 475.7h0M1661.6 493.4h0M1683.3 496.7h0M1671.0 511.7h0M1635.0 484.8h0M1657.5 495.4h0M1645.1 505.5h0M1673.1 500.6h0M1670.1 478.6h0M1676.3 485.3h0M1634.8 495.4h0M1666.5 484.3h0M1637.9 477.9h0M1658.6 458.8h0M1674.8 507.5h0M1658.2 508.3h0M1658.4 478.1h0M1669.4 501.4h0M1647.9 474.3h0M1647.2 509.8h0M1656.5 532.4h0M1651.6 502.0h0M1665.1 490.6h0M1672.2 481.9h0M1659.9 477.5h0M1630.6 494.6h0M1644.9 475.8h0M1668.7 491.5h0M1666.0 517.5h0M1663.2 499.9h0M1644.3 505.2h0M1672.4 479.3h0M1669.7 498.1h0M1657.8 494.9h0M1694.1 484.8h0M1656.1 495.1h0M1658.2 468.6h0M1669.7 506.4h0M1684.6 486.0h0M1643.4 502.8h0M1646.6 493.7h0M1655.2 496.4h0M1654.6 503.4h0M1648.1 526.6h0M1671.5 485.1h0M1647.4 491.2h0M1654.3 482.4h0M1680.0 507.2h0M1645.8 501.5h0M1661.0 504.4h0M1651.7 523.2h0M1661.9 521.3h0M1654.3 512.4h0M1659.3 516.8h0M1658.3 479.1h0M1646.0 485.1h0M1669.2 499.0h0M1662.5 508.5h0M1683.4 480.0h0M1674.7 525.8h0M1652.3 486.1h0M1666.5 497.0h0M1653.5 492.9h0M1683.1 506.5h0M1649.7 470.3h0M1645.6 496.4h0M1650.1 482.3h0M1670.9 490.0h0M1655.6 496.9h0M1680.9 498.2h0M1670.4 495.0h0M1682.3 477.0h0M1645.4 486.9h0M1688.9 515.2h0M1645.8 487.6h0M1668.5 494.9h0M1673.2 487.2h0M1638.1 502.5h0M1678.2 472.8h0M1635.1 487.7h0M1635.2 499.9h0M1645.0 504.2h0M1656.2 495.8h0M1670.1 491.2h0M1647.0 506.6h0M1640.7 513.4h0M1652.6 486.7h0M1666.4 499.8h0M1668.0 473.8h0M1648.8 498.7h0M1666.1 492.7h0M1678.9 491.6h0M1674.0 509.0h0M1665.8 491.4h0M1671.2 500.2h0M1669.6 482.1h0M1667.5 516.0h0M1657.1 496.0h0M1657.8 506.2h0M1632.7 516.1h0M1668.1 491.0h0M1664.9 509.6h0M1666.2 503.3h0M1677.7 496.5h0M1671.3 514.4h0M1668.9 485.6h0M1671.8 522.2h0M1656.8 500.4h0M1667.1 506.3h0M1655.6 493.9h0M1688.0 503.7h0M1652.7 505.0h0M1662.1 515.3h0M1639.1 495.6h0M1674.7 476.8h0M1651.0 500.8h0M1661.7 490.1h0M1665.4 475.2h0M1649.7 517.9h0M1652.4 500.2h0M1660.5 506.0h0M1665.8 499.8h0M1677.2 498.7h0M1638.0 485.2h0M1680.8 508.8h0M1658.1 472.5h0M1651.5 522.7h0M1677.6 511.0h0M1639.2 475.7h0M1653.2 475.7h0M1662.8 479.3h0M1667.7 491.2h0M1653.6 503.1h0M1667.3 496.0h0M1656.2 493.5h0M1634.9 467.5h0M1652.0 496.1h0M1685.2 499.6h0M1647.7 487.6h0M1644.0 493.6h0M1660.0 493.7h0M1664.9 508.4h0M1670.5 478.5h0M1672.7 480.4h0M1666.4 495.5h0M1684.1 492.8h0M1659.9 490.5h0M1672.9 498.4h0M1657.6 505.6h0M1689.9 516.4h0M1681.7 487.0h0M1660.0 496.5h0M1638.1 517.7h0M1641.7 499.7h0M1644.5 496.0h0M1672.5 501.4h0M1649.6 485.5h0M1673.9 493.4h0M1662.9 507.1h0M1627.2 497.8h0M1678.5 518.6h0M1670.6 484.4h0M1674.5 519.8h0M1652.7 484.6h0M1659.3 488.8h0M1633.7 462.3h0M1643.6 485.8h0M1667.2 487.2h0M1663.8 512.9h0M1702.0 506.2h0M1648.1 507.8h0M1661.3 499.0h0M1674.4 504.8h0M1643.5 478.9h0M1664.9 503.9h0M1689.9 502.5h0M1656.4 487.7h0M1651.7 476.7h0M1643.6 486.8h0M1662.6 483.8h0M1661.4 490.5h0M1658.2 488.4h0M1665.2 494.5h0M1625.4 497.8h0M1662.7 486.0h0M1663.5 484.8h0M1662.9 482.4h0M1670.4 498.9h0M1641.6 484.7h0M1670.7 499.7h0M1663.1 478.9h0M1652.0 496.4h0M1665.2 494.0h0M1649.9 491.1h0M1654.5 478.5h0M1646.3 483.2h0M1640.9 500.5h0M1671.5 506.1h0M1650.6 484.0h0M1664.5 487.8h0M1656.9 489.9h0M1639.4 511.2h0M1641.7 472.8h0M1671.9 479.3h0M1675.5 498.7h0M1665.9 488.9h0M1642.0 478.1h0M1662.4 492.6h0M1644.8 478.7h0M1649.3 493.2h0M1666.9 506.2h0M1656.0 513.3h0M1670.7 513.9h0M1649.2 501.8h0M1675.6 470.2h0M1673.4 499.6h0M1673.4 496.3h0M1676.4 488.4h0M1654.0 503.7h0M1670.7 476.0h0M1677.1 509.8h0M1674.8 484.3h0M1677.9 501.0h0M1673.4 493.3h0M1655.3 484.6h0M1652.8 506.0h0M1650.7 485.8h0M1665.4 490.5h0M1633.6 485.2h0M1656.2 515.6h0M1669.9 480.7h0M1646.3 487.9h0M1664.0 483.6h0M1666.8 475.2h0M1665.4 509.9h0M1625.5 493.6h0M1664.4 500.0h0M1662.3 493.1h0M1664.8 495.5h0M1662.2 515.1h0M1674.7 506.3h0M1652.6 487.5h0M1675.1 480.0h0M1674.6 476.0h0M1689.4 510.6h0M1653.7 487.8h0M1633.7 493.3h0M1676.9 502.1h0M1657.5 521.3h0M1668.4 499.5h0M1657.0 501.8h0M1696.0 500.0h0M1638.8 496.9h0M1686.5 509.9h0M1654.1 498.7h0M1641.3 502.5h0M1649.3 486.9h0M1653.4 484.5h0M1683.6 513.7h0M1657.2 495.3h0M1683.5 490.2h0M1655.1 482.7h0M1681.8 496.2h0M1661.1 488.4h0M1648.8 506.7h0M1650.7 487.0h0M1638.5 479.3h0M1654.1 487.4h0M1640.7 485.7h0M1659.1 458.9h0M1668.7 490.2h0M1643.0 490.2h0M1666.8 493.8h0M1661.4 494.0h0M1669.5 475.7h0M1653.0 498.9h0M1661.2 479.6h0M1657.0 484.5h0M1661.1 471.7h0M1639.1 474.5h0M1659.0 526.8h0M1673.9 510.1h0M1660.9 515.0h0M1665.5 494.7h0M1675.2 477.5h0M1631.5 477.8h0M1679.5 505.7h0M1663.2 490.6h0M1658.4 498.9h0M1649.2 504.0h0M1647.7 511.7h0M1656.2 481.4h0M1656.9 481.3h0M1658.9 469.6h0M1654.1 494.7h0M1665.8 488.5h0M1676.9 471.0h0M1657.8 487.2h0M1660.6 490.1h0M1679.2 493.6h0M1648.2 527.0h0M1661.2 491.5h0M1672.5 485.7h0M1657.6 505.2h0M1644.8 487.6h0M1673.3 517.7h0M1659.6 492.2h0M1675.2 473.8h0M1651.3 483.0h0M1633.0 454.7h0M1655.2 505.8h0M1669.6 510.6h0M1624.0 491.7h0M1678.5 482.0h0M1643.1 498.3h0M1660.8 502.2h0M1660.6 510.3h0M1670.0 497.1h0M1655.6 503.2h0M1651.7 506.6h0M1676.1 506.4h0M1643.5 499.6h0M1665.7 505.4h0M1639.8 485.6h0M1659.7 512.5h0M1652.7 505.8h0M1662.7 519.8h0M1665.1 472.0h0M1657.0 497.2h0M1677.8 502.7h0M1657.0 476.7h0M1661.2 492.1h0M1678.7 506.3h0M1641.9 462.5h0M1655.2 497.4h0M1647.7 486.8h0M1676.8 503.7h0M1637.5 498.5h0M1662.9 491.1h0M1668.4 501.7h0M1694.4 496.9h0M1650.9 487.1h0M1670.5 519.9h0M1669.0 501.1h0M1664.4 487.8h0M1661.9 477.5h0M1670.9 500.3h0M1663.3 482.3h0M1657.3 486.1h0M1665.0 490.0h0M1665.8 506.5h0M1678.0 480.0h0M1656.4 479.1h0M1677.8 482.4h0M1679.1 487.1h0M1674.8 486.6h0M1657.9 495.6h0M1662.1 491.9h0M1670.0 510.1h0M1672.6 487.4h0M1635.9 495.5h0M1622.6 503.0h0M1669.3 477.5h0M1668.8 485.0h0M1678.1 483.6h0M1649.7 485.1h0M1664.2 479.9h0M1691.4 488.9h0M1684.6 490.1h0M1656.7 484.4h0M1650.7 499.9h0M1677.2 495.4h0M1648.9 496.8h0M1650.3 457.8h0M1662.7 470.4h0M1652.4 494.7h0M1655.5 490.4h0M1681.9 506.9h0M1681.5 496.8h0M1664.0 517.8h0M1652.5 498.5h0M1662.8 497.9h0M1669.0 495.6h0M1671.9 482.6h0M1667.7 479.9h0M1675.5 507.2h0M1658.1 487.1h0M1660.5 501.4h0M1640.5 480.4h0M1673.5 491.0h0M1643.6 463.9h0M1654.9 470.2h0M1662.5 492.7h0M1685.5 476.9h0M1669.3 477.6h0M1646.8 490.9h0M1649.3 518.1h0M1659.9 483.5h0M1691.7 482.9h0M1655.6 490.8h0M1650.1 501.7h0M1676.6 476.2h0M1654.0 488.4h0M1641.7 475.8h0M1655.5 481.3h0M1664.6 504.4h0M1662.9 497.2h0M1648.0 485.3h0M1665.5 501.0h0M1659.1 500.6h0M1657.0 477.7h0M1664.4 487.6h0M1637.5 504.5h0M1665.4 503.0h0M1654.0 513.1h0M1666.7 506.3h0M1651.6 489.1h0M1677.4 492.9h0M1660.6 513.1h0M1675.7 496.3h0M1685.7 473.5h0M1659.4 486.0h0M1679.9 514.3h0M1654.0 495.3h0M1672.8 500.3h0M1663.9 506.6h0M1686.2 495.0h0M1645.8 492.0h0M1659.9 488.4h0M1669.7 503.2h0M1672.5 499.8h0M1663.9 479.9h0M1656.0 482.1h0M1664.7 491.9h0M1660.0 500.4h0M1656.6 507.6h0M1674.3 481.1h0M1677.8 489.1h0M1650.9 489.4h0M1643.8 498.0h0M1676.4 473.5h0M1666.1 501.2h0M1669.2 502.0h0M1666.2 487.4h0M1672.2 497.9h0M1671.0 497.6h0M1657.1 492.9h0M1668.5 507.2h0M1635.4 476.7h0M1639.0 486.5h0M1651.7 496.1h0M1656.5 511.0h0M1652.4 484.1h0M1649.7 489.5h0M1662.6 487.1h0M1648.3 475.5h0M1662.8 486.2h0M1647.5 489.9h0M1664.8 520.3h0M1681.7 481.7h0M1654.5 467.7h0M1634.6 469.1h0M1672.3 491.4h0M1641.1 484.5h0M1653.7 484.6h0M1679.6 468.0h0M1654.3 496.5h0M1666.6 464.7h0M1662.7 476.8h0M1652.7 472.4h0M1670.4 534.2h0M1673.6 489.4h0M1637.3 504.8h0M1676.1 478.9h0M1672.7 469.8h0M1643.6 495.2h0M1642.0 503.3h0M1679.1 494.2h0M1666.9 514.5h0M1667.2 510.7h0M1679.3 479.7h0M1689.3 509.1h0M1662.6 504.5h0M1664.9 496.7h0M1647.6 488.5h0M1656.4 508.1h0M1667.1 499.2h0M1659.3 510.4h0M1628.7 481.9h0M1673.3 488.4h0M1669.3 514.7h0M1671.4 474.5h0M1657.9 478.8h0M1667.1 507.5h0M1657.7 500.6h0M1658.3 519.1h0M1662.6 496.9h0M1668.3 507.8h0M1670.0 493.6h0M1661.7 500.6h0M1668.7 489.0h0M1653.4 490.9h0M1667.0 488.1h0M1646.8 489.6h0M1654.5 501.9h0M1654.2 488.6h0M1685.6 499.9h0M1648.9 509.8h0M1656.2 483.4h0M1669.5 475.5h0M1660.2 501.4h0M1670.8 487.1h0M1654.5 492.9h0M1676.9 470.5h0M1671.8 498.0h0M1678.9 479.4h0M1676.1 482.7h0M1665.0 488.9h0M1628.9 493.3h0M1666.2 505.4h0M1652.8 478.8h0M1670.3 489.4h0M1674.8 512.7h0M1658.0 491.9h0M1651.6 467.5h0M1661.0 503.6h0M1675.0 493.8h0M1685.4 487.3h0M1660.8 487.0h0M1655.4 490.5h0M1652.1 488.6h0M1664.9 495.6h0M1647.5 500.8h0M1650.5 500.2h0M1662.1 469.0h0M1647.6 506.6h0M1652.8 485.6h0M1655.5 495.7h0M1668.7 490.3h0M1683.4 486.7h0M1655.1 491.8h0M1663.4 513.4h0M1692.0 489.8h0M1659.0 502.5h0M1659.6 505.5h0M1647.3 505.4h0M1632.5 501.1h0M1670.0 526.9h0M1649.2 503.4h0M1669.8 481.8h0M1664.6 483.1h0M1645.8 474.3h0M1658.3 480.3h0M1633.8 497.9h0M1638.5 503.3h0M1664.3 483.2h0M1640.1 482.1h0M1643.2 489.1h0M1656.2 526.8h0M1633.3 486.2h0M1668.5 507.7h0M1678.9 481.0h0M1671.7 455.7h0M1658.0 505.4h0M1670.5 475.2h0M1650.0 465.2h0M1651.1 475.6h0M1664.6 483.9h0M1669.0 492.5h0M1656.5 517.6h0M1676.6 476.3h0M1679.5 504.2h0M1678.7 500.0h0M1636.9 488.9h0M1628.4 475.2h0M1651.6 511.0h0M1661.5 496.9h0M1670.9 481.8h0M1675.8 496.9h0M1648.0 486.2h0M1657.7 502.1h0M1680.1 489.8h0M1657.9 518.1h0M1703.9 518.2h0M1663.5 489.1h0M1670.1 498.0h0M1650.3 512.2h0M1695.1 482.6h0M1650.3 487.1h0M1643.9 504.9h0M1641.5 502.9h0M1666.3 504.0h0M1640.9 495.9h0M1664.6 505.9h0M1666.0 486.1h0M1676.4 512.7h0M1679.2 483.9h0M1668.1 481.6h0M1658.6 504.1h0M1641.5 531.6h0M1677.5 483.5h0M1653.2 492.9h0M1659.0 477.5h0M1659.1 473.0h0M1652.5 518.2h0M1660.1 488.7h0M1682.3 498.3h0M1669.4 486.2h0M1675.8 489.5h0M1672.8 502.7h0M1684.4 507.5h0M1660.7 479.5h0M1656.8 484.5h0M1681.8 487.9h0M1629.7 499.2h0M1672.0 481.4h0M1670.7 475.9h0M1664.3 491.7h0M1665.2 499.7h0M1651.7 504.9h0M1654.1 495.6h0M1680.3 481.3h0M1661.9 515.8h0M1678.1 484.6h0M1652.5 501.4h0M1652.0 494.9h0M1642.2 502.6h0M1638.9 495.8h0M1670.5 484.8h0M1639.4 476.5h0M1634.7 518.5h0M1634.5 476.2h0M1665.4 494.6h0M1675.0 512.0h0M1667.1 493.0h0M1653.2 491.4h0M1673.9 502.3h0M1669.5 470.9h0M1650.4 484.5h0M1653.4 479.3h0M1670.3 508.5h0M1685.9 486.7h0M1659.5 495.2h0M1660.8 482.4h0M1671.9 466.1h0M1654.3 467.7h0M1669.6 474.7h0M1645.0 493.7h0M1646.6 497.4h0M1655.6 521.0h0M1644.1 482.7h0M1668.8 495.6h0M1667.1 489.9h0M1674.0 498.7h0M1679.2 475.2h0M1664.5 490.9h0M1666.5 481.0h0M1672.1 475.6h0M1673.2 501.5h0M1636.1 499.5h0M1634.2 501.8h0M1638.8 493.0h0M1657.2 471.5h0M1635.3 500.9h0M1654.3 509.0h0M1660.3 532.1h0M1663.4 518.4h0M1665.9 495.2h0M1668.5 483.6h0M1652.1 517.0h0M1658.4 478.2h0M1668.2 482.5h0M1662.2 509.9h0M1679.1 519.4h0M1677.4 503.3h0M1668.9 498.4h0M1660.8 525.8h0M1660.3 517.6h0M1659.8 511.2h0M1622.1 496.6h0M1652.8 516.3h0M1682.3 485.9h0M1660.5 507.5h0M1665.9 496.1h0M1675.3 476.6h0M1684.1 501.1h0M1622.0 482.3h0M1660.8 526.4h0M1661.9 474.2h0M1681.0 500.6h0M1662.1 509.7h0M1656.9 493.7h0M1676.2 501.5h0M1675.8 490.3h0M1685.7 475.8h0M1643.4 502.5h0M1658.2 498.3h0M1663.1 493.4h0M1647.9 499.9h0M1680.8 484.0h0M1688.8 517.4h0M1651.0 506.8h0M1647.5 494.0h0M1647.6 488.3h0M1637.1 493.6h0M1648.2 483.4h0M1635.5 496.3h0M1689.0 490.7h0M1660.6 480.0h0M1656.2 483.9h0M1641.1 483.4h0M1655.5 500.0h0M1658.0 499.5h0M1680.5 508.4h0M1656.8 471.1h0M1659.9 496.7h0M1676.3 497.4h0M1701.0 491.0h0M1671.6 482.8h0M1648.6 491.3h0M1665.2 504.9h0M1618.9 510.9h0M1683.0 514.0h0M1674.1 493.6h0M1670.0 513.1h0M1648.9 504.5h0M1669.2 493.3h0M1687.0 485.6h0M1648.7 494.6h0M1653.5 513.7h0M1639.2 477.0h0M1666.4 505.4h0M1645.7 513.1h0M1635.6 509.3h0M1649.8 488.5h0M1686.8 494.1h0M1653.1 498.3h0M1688.0 495.9h0M1651.3 497.8h0M1644.8 485.4h0M1654.0 503.8h0M1655.1 501.5h0M1677.7 516.6h0M1638.5 494.1h0M1645.9 503.6h0M1665.2 494.6h0M1654.4 481.4h0M1638.4 508.1h0M1659.0 495.2h0M1666.1 505.6h0M1687.7 492.3h0M1670.7 472.2h0M1656.3 485.0h0M1653.1 510.7h0M1663.2 495.6h0M1662.8 491.6h0M1658.7 485.8h0M1654.3 488.8h0M1659.2 469.0h0M1662.6 494.2h0M1667.4 479.4h0M1648.9 505.7h0M1651.8 501.2h0M1652.4 478.2h0M1641.7 486.3h0M1655.2 477.9h0M1681.1 494.9h0M1649.5 515.1h0M1673.0 484.3h0M1647.6 492.1h0M1671.6 475.5h0M1677.4 489.4h0M1673.1 492.8h0M1668.4 503.5h0M1679.4 485.0h0M1687.6 477.3h0M1666.0 504.0h0M1662.1 506.9h0M1639.7 494.2h0M1675.4 495.0h0M1646.7 497.0h0M1664.4 481.3h0M1679.9 487.5h0M1647.8 496.3h0M1653.0 492.2h0M1665.1 489.2h0M1669.9 498.9h0M1678.4 481.3h0M1662.8 498.4h0M1665.8 466.3h0M1647.4 499.3h0M1669.7 495.4h0M1664.4 511.6h0M1657.1 484.5h0M1682.3 503.3h0M1659.7 485.2h0M1683.8 491.2h0M1650.9 512.2h0M1641.9 492.9h0M1670.5 491.1h0M1654.9 500.9h0M1645.4 492.0h0M1671.8 480.1h0M1680.8 492.1h0M1660.9 488.5h0M1669.8 488.5h0M1665.1 512.1h0M1679.0 474.3h0M1680.3 488.3h0M1666.1 496.4h0M1665.8 486.8h0M1669.9 508.7h0M1654.1 494.7h0M1673.0 509.6h0M1666.5 498.6h0M1668.5 490.4h0M1666.5 491.2h0M1657.3 463.0h0M1637.5 499.9h0M1672.0 501.0h0M1663.3 490.8h0M1669.5 489.4h0M1661.8 515.2h0M1643.0 486.7h0M1658.5 468.8h0M1645.7 509.2h0M1668.8 492.9h0M1679.5 481.4h0M1687.7 493.8h0M1653.5 509.5h0M1668.8 497.4h0M1660.1 470.1h0M1633.4 494.7h0M1674.7 483.9h0M1662.9 473.4h0M1641.3 493.8h0M1671.1 504.6h0M1677.9 483.7h0M1659.3 505.2h0M1647.6 490.4h0M1661.5 494.2h0M1673.4 500.3h0M1655.5 462.9h0M1672.2 508.0h0M1668.4 499.3h0M1667.5 510.9h0M1654.5 493.5h0M1647.9 491.4h0M1650.2 483.3h0M1634.4 493.1h0M1675.1 453.5h0M1678.6 493.8h0M1652.0 498.4h0M1657.9 493.2h0M1680.5 496.5h0M1666.2 490.6h0M1658.8 481.8h0M1659.5 483.6h0M1676.7 491.0h0M1671.2 511.7h0M1675.0 484.9h0M1683.9 468.4h0M1680.5 459.8h0M1648.8 493.1h0M1651.4 465.4h0M1640.8 497.5h0M1637.8 502.7h0M1676.7 512.4h0M1664.5 493.4h0M1655.6 531.4h0M1677.4 502.7h0M1665.6 508.9h0M1635.0 505.7h0M1653.3 462.6h0M1676.0 483.7h0M1667.0 484.0h0M1655.6 515.9h0M1665.6 499.4h0M1639.7 506.3h0M1652.3 500.4h0M1647.2 499.0h0M1668.5 474.2h0M1665.4 481.9h0M1678.0 499.1h0M1661.8 535.5h0M1672.4 488.9h0M1673.0 498.0h0M1679.5 480.5h0M1687.8 487.2h0M1656.0 484.2h0M1657.0 520.2h0M1663.6 479.6h0M1659.1 497.5h0M1674.2 489.8h0M1663.8 534.2h0M1659.4 495.8h0M1644.9 507.2h0M1654.9 519.3h0M1677.7 505.2h0M1654.3 489.6h0M1656.0 495.4h0M1656.4 486.9h0M1662.6 493.9h0M1656.0 506.6h0M1675.4 486.6h0M1690.4 499.4h0M1677.9 519.8h0M1641.9 501.1h0M1673.7 510.6h0M1672.0 508.0h0M1640.7 481.2h0M1669.1 466.4h0M1653.8 491.7h0M1666.4 506.5h0M1664.5 482.9h0M1648.2 499.8h0M1669.2 499.4h0M1663.2 495.7h0M1642.2 493.9h0M1671.6 478.8h0M1667.1 503.7h0M1693.1 493.4h0M1657.9 477.8h0M1646.3 472.1h0M1636.8 503.8h0M1661.1 498.4h0M1639.5 466.6h0M1637.0 516.3h0M1676.6 475.9h0M1662.6 496.6h0M1647.9 485.5h0M1674.3 504.0h0M1673.6 498.8h0M1663.0 501.2h0M1659.2 517.5h0M1664.5 501.8h0M1660.3 485.3h0M1660.8 490.0h0M1650.5 505.6h0M1688.7 498.4h0M1660.1 484.7h0M1641.5 502.8h0M1669.4 483.7h0M1662.7 482.9h0M1680.9 496.1h0M1667.6 517.9h0M1631.2 500.2h0M1665.3 490.7h0M1661.9 511.7h0M1652.7 485.9h0M1685.3 508.6h0M1668.4 505.8h0M1663.0 490.8h0M1659.9 499.1h0M1655.6 473.2h0M1659.7 498.7h0M1660.1 504.1h0M1665.9 508.1h0M1663.7 492.6h0M1669.8 507.0h0M1656.0 483.3h0M1680.2 487.9h0M1667.1 488.6h0M1665.0 513.9h0M1684.9 477.2h0M1642.4 449.5h0M1670.0 516.1h0M1665.5 491.0h0M1673.2 482.3h0M1670.9 513.2h0M1678.7 504.6h0M1655.1 490.5h0M1649.6 520.2h0M1678.8 494.1h0M1661.0 498.2h0M1653.0 501.9h0M1668.7 500.8h0M1662.6 460.9h0M1659.3 475.8h0M1639.1 525.2h0M1655.1 492.2h0M1657.7 483.2h0M1683.7 469.7h0M1668.2 486.8h0M1678.9 506.2h0M1662.8 474.4h0M1672.3 507.9h0M1670.6 490.7h0M1670.2 484.1h0M1665.0 499.6h0M1658.5 481.2h0M1658.6 482.7h0M1645.4 508.8h0M1659.5 487.5h0M1654.5 500.4h0M1657.1 484.9h0M1665.2 496.4h0M1649.3 479.9h0M1679.2 490.7h0M1677.9 502.6h0M1660.5 491.2h0M1683.6 485.7h0M1656.2 483.3h0M1659.4 481.7h0M1663.0 477.4h0M1668.5 499.0h0M1664.3 486.3h0M1678.9 521.7h0M1659.7 483.9h0M1670.2 491.6h0M1663.4 503.2h0M1642.9 504.3h0M1647.2 477.4h0M1656.1 514.2h0M1652.8 500.7h0M1648.7 502.9h0M1665.7 510.1h0M1663.8 494.5h0M1635.9 498.7h0M1672.1 497.1h0M1663.8 502.0h0M1673.2 482.2h0M1660.4 500.2h0M1664.8 481.3h0M1634.4 498.7h0M1671.1 517.1h0M1667.1 482.5h0M1667.4 492.8h0M1652.1 474.8h0M1636.5 484.8h0M1655.6 495.1h0M1661.5 497.4h0M1687.3 493.4h0M1679.9 483.7h0M1651.4 487.1h0M1636.8 516.8h0M1664.7 504.1h0M1684.8 500.4h0M1683.4 462.1h0M1678.6 498.4h0M1653.7 509.0h0M1661.6 484.7h0M1634.7 518.5h0M1625.6 495.2h0M1683.0 503.2h0M1652.7 490.6h0M1652.9 497.6h0M1660.2 476.6h0M1641.1 509.8h0M1643.7 478.7h0M1693.0 482.7h0M1643.0 480.8h0M1671.6 483.8h0M1659.1 462.4h0M1652.5 494.5h0M1661.6 514.1h0M1667.9 454.3h0M1638.5 481.7h0M1656.8 494.5h0M1669.4 470.6h0M1630.1 504.6h0M1647.0 461.3h0M1647.6 487.6h0M1644.0 477.5h0M1674.6 478.4h0M1664.8 496.6h0M1655.7 526.1h0M1642.0 529.2h0M1647.4 489.9h0M1664.8 508.9h0M1670.3 488.8h0M1655.8 509.9h0M1681.8 486.3h0M1677.6 501.5h0M1664.2 478.5h0M1643.3 499.7h0M1622.4 486.9h0M1666.6 470.7h0M1683.3 516.7h0M1646.1 492.2h0M1659.1 486.3h0M1654.1 500.5h0M1683.8 495.0h0M1662.3 495.7h0M1651.4 502.5h0M1654.1 480.3h0M1669.9 468.2h0M1653.9 488.5h0M1659.1 472.7h0M1647.8 491.9h0M1669.2 492.3h0M1658.1 482.4h0M1661.2 455.5h0M1669.8 507.2h0M1660.7 480.6h0M1679.3 484.6h0M1679.4 490.2h0M1650.5 491.0h0M1651.5 491.7h0M1667.8 490.4h0M1654.7 493.7h0M1666.3 494.0h0M1668.4 502.0h0M1664.9 503.8h0M1661.2 509.6h0M1666.5 505.5h0M1658.4 474.6h0M1654.9 494.5h0M1666.0 493.5h0M1681.1 476.3h0M1636.9 491.5h0M1651.7 494.4h0M1670.0 531.0h0M1643.1 479.4h0M1660.2 473.9h0M1650.7 511.5h0M1660.2 493.6h0M1676.1 470.8h0M1662.7 493.4h0M1664.7 480.5h0M1655.2 492.6h0M1671.0 484.2h0M1669.3 465.2h0M1666.8 504.5h0M1648.7 490.0h0M1661.0 497.9h0M1677.2 496.6h0M1658.0 491.4h0M1664.7 504.5h0M1664.5 486.6h0M1656.5 483.4h0M1649.3 487.4h0M1653.3 504.3h0M1645.0 495.0h0M1645.2 504.7h0M1665.1 511.0h0M1668.3 480.3h0M1661.5 485.6h0M1654.0 480.3h0M1656.9 495.2h0M1663.9 527.3h0M1658.8 495.2h0M1659.8 490.6h0M1657.0 494.8h0M1658.4 503.8h0M1666.7 482.3h0M1661.1 498.1h0M1657.4 491.0h0M1659.8 502.2h0M1663.4 486.8h0M1660.4 510.5h0M1648.3 502.7h0M1657.8 543.3h0M1669.4 494.7h0M1659.6 473.9h0M1654.2 520.7h0M1665.8 490.2h0M1660.9 494.6h0M1648.5 495.5h0M1667.8 474.5h0M1657.9 457.9h0M1638.8 505.1h0M1677.3 518.6h0M1644.0 492.9h0M1656.6 508.1h0M1665.3 495.2h0M1669.0 488.1h0M1673.9 489.6h0M1675.6 496.5h0M1664.1 479.1h0M1640.8 473.4h0M1667.5 465.8h0M1679.1 489.8h0M1643.4 498.6h0M1644.8 494.6h0M1657.6 509.8h0M1672.9 506.4h0M1655.0 510.5h0M1660.1 495.6h0M1666.9 497.7h0M1643.5 502.5h0M1640.2 500.2h0M1660.1 495.0h0M1646.7 507.1h0M1659.1 505.2h0M1651.5 484.6h0M1662.0 507.5h0M1643.7 486.5h0M1654.4 490.5h0M1655.1 508.2h0M1670.3 494.4h0M1672.1 507.6h0M1653.0 484.5h0M1670.1 521.9h0M1630.0 485.9h0M1671.3 483.5h0M1672.5 497.0h0M1644.6 488.0h0M1666.0 482.3h0M1668.8 498.1h0M1657.1 499.2h0M1656.3 496.9h0M1648.0 512.6h0M1657.6 509.3h0M1689.2 514.8h0M1660.8 496.1h0M1660.5 498.2h0M1650.2 470.3h0M1665.3 494.7h0M1681.3 517.9h0M1643.1 481.8h0M1671.3 509.6h0M1662.7 494.9h0M1636.8 524.2h0M1651.9 501.5h0M1665.6 482.3h0M1672.3 513.3h0M1660.4 496.0h0M1669.8 507.0h0M1672.5 482.4h0M1648.8 486.8h0M1625.6 476.7h0M1658.5 485.3h0M1650.0 505.7h0M1665.5 504.9h0M1658.9 488.6h0M1649.7 497.3h0M1637.2 482.6h0M1668.8 505.3h0M1660.2 478.9h0M1668.6 484.4h0M1659.4 481.3h0M1685.0 513.7h0M1649.9 478.7h0M1660.4 502.3h0M1677.6 493.3h0M1644.7 497.9h0M1664.5 473.1h0M1657.6 490.1h0M1648.1 497.0h0M1674.9 507.4h0M1649.3 486.3h0M1670.1 489.6h0M1656.4 523.1h0M1627.2 485.4h0M1650.0 493.3h0M1683.5 492.1h0M1657.3 496.1h0M1657.0 499.0h0M1694.5 484.9h0M1658.3 493.1h0M1633.3 502.0h0M1660.2 468.2h0M1657.5 496.2h0M1649.2 508.3h0M1653.2 474.3h0M1671.6 492.2h0M1662.8 472.8h0M1642.8 480.7h0M1659.0 492.2h0M1679.2 514.3h0M1662.7 492.7h0M1686.0 494.8h0M1674.3 487.6h0M1659.6 490.3h0M1651.9 498.9h0M1650.1 492.6h0M1666.4 521.8h0M1635.9 495.0h0M1669.6 489.4h0M1672.5 501.0h0M1667.4 488.5h0M1658.2 491.0h0M1648.0 496.4h0M1647.1 481.7h0M1642.7 508.5h0M1653.6 482.3h0M1671.4 488.5h0M1665.4 491.6h0M1665.7 496.5h0M1632.5 513.3h0M1674.2 474.8h0M1672.7 491.0h0M1662.5 510.9h0M1674.1 506.8h0M1687.4 508.3h0M1653.1 477.2h0M1672.0 471.5h0M1656.4 489.3h0M1651.7 511.8h0M1665.2 491.0h0M1672.8 488.6h0M1676.8 520.9h0M1659.3 491.8h0M1676.1 468.2h0M1644.5 480.5h0M1639.7 493.9h0M1664.9 493.6h0M1660.6 506.0h0M1675.1 510.3h0M1659.1 494.2h0M1680.3 499.4h0M1678.3 487.7h0M1660.4 485.5h0M1660.7 499.6h0M1655.1 519.7h0M1641.5 505.3h0M1646.7 497.9h0M1650.8 494.9h0M1661.9 483.5h0M1644.9 484.6h0M1661.2 504.6h0M1682.1 471.4h0M1666.9 487.8h0M1661.1 498.1h0M1671.3 499.3h0M1660.6 514.4h0M1664.6 493.9h0M1675.9 478.9h0M1648.6 513.0h0M1658.3 470.5h0M1671.4 509.7h0M1650.7 476.8h0M1660.2 498.6h0M1653.0 481.9h0M1667.7 500.8h0M1640.1 479.2h0M1656.6 485.6h0M1663.6 500.5h0M1685.1 498.5h0M1672.9 473.4h0M1651.7 507.6h0M1641.8 511.3h0M1667.9 495.5h0M1659.2 478.6h0M1646.6 486.8h0M1655.1 509.8h0M1647.4 485.6h0M1638.0 495.9h0M1660.7 508.0h0M1685.8 500.7h0M1649.5 496.7h0M1664.4 492.9h0M1646.6 498.2h0M1644.9 492.6h0M1656.8 460.0h0M1668.7 521.5h0M1655.9 485.6h0M1672.8 476.6h0M1661.0 496.9h0M1653.4 492.7h0M1649.6 486.1h0M1669.4 482.3h0M1653.2 484.6h0M1667.3 488.8h0M1649.6 498.0h0M1634.5 468.9h0M1664.5 518.0h0M1654.3 498.1h0M1642.6 495.3h0M1663.3 501.2h0M1651.0 518.9h0M1648.2 513.5h0M1646.7 504.0h0M1678.2 522.1h0M1659.2 472.2h0M1671.8 484.5h0M1646.7 486.1h0M1648.9 503.7h0M1663.2 502.7h0M1672.0 488.7h0M1670.0 509.7h0M1685.1 496.0h0M1657.4 481.7h0M1655.7 494.0h0M1664.1 476.3h0M1655.6 491.2h0M1653.1 485.9h0M1665.4 481.1h0M1667.0 479.8h0M1663.7 479.3h0M1676.3 503.5h0M1678.4 482.9h0M1643.6 476.6h0M1657.9 507.8h0M1670.1 502.7h0M1644.8 508.0h0M1670.4 486.7h0M1627.5 483.5h0M1659.1 514.5h0M1663.7 493.0h0M1681.7 514.2h0M1665.8 502.0h0M1677.3 484.4h0M1666.2 488.3h0M1648.2 500.4h0M1675.4 518.4h0M1671.1 508.8h0M1658.6 474.2h0M1652.6 499.2h0M1653.2 519.1h0M1677.0 491.4h0M1683.8 502.5h0M1682.6 491.6h0M1671.3 491.0h0M1661.2 509.1h0M1686.2 495.7h0M1665.0 482.4h0M1658.3 500.6h0M1644.6 488.4h0M1646.4 496.7h0M1672.8 498.5h0M1657.4 480.8h0M1639.8 494.3h0M1681.1 490.6h0M1660.2 488.2h0M1646.2 508.1h0M1670.4 474.6h0M1644.7 511.8h0M1649.5 493.5h0M1647.5 498.3h0M1650.7 486.1h0M1646.4 519.1h0M1695.4 497.0h0M1669.9 501.6h0M1661.2 492.9h0M1656.4 504.5h0M1644.9 483.1h0M1670.4 475.6h0M1682.5 490.5h0M1663.6 511.7h0M1660.5 495.9h0M1653.3 500.9h0M1670.3 482.5h0M1669.8 507.0h0M1667.4 484.2h0M1673.5 512.2h0M1654.7 469.9h0M1651.8 494.4h0M1678.3 510.0h0M1670.2 485.6h0M1671.2 494.0h0M1647.6 470.4h0M1674.4 472.6h0M1677.7 524.0h0M1661.6 483.0h0M1652.7 485.1h0M1666.2 507.4h0M1651.1 489.7h0M1652.5 509.3h0M1674.1 482.9h0M1657.1 496.3h0M1637.4 487.0h0M1663.0 475.5h0M1663.9 494.7h0M1653.7 507.8h0M1648.7 499.7h0M1657.7 508.7h0M1650.7 502.1h0M1669.3 509.2h0M1682.5 474.0h0M1660.1 479.8h0M1674.1 512.2h0M1657.1 497.3h0M1678.5 496.8h0M1659.4 472.3h0M1651.7 507.4h0M1641.7 497.9h0M1664.0 493.9h0M1671.7 484.2h0M1679.5 488.3h0M1674.6 486.4h0M1664.6 489.7h0M1683.4 480.3h0M1652.7 513.5h0M1671.9 493.6h0M1657.7 477.0h0M1657.5 498.8h0M1677.1 506.5h0M1680.4 499.2h0M1651.7 489.5h0M1681.5 495.6h0M1679.9 473.0h0M1654.6 483.5h0M1664.6 483.6h0M1643.4 493.1h0M1630.6 486.2h0M1666.8 478.8h0M1660.4 482.3h0M1656.5 497.3h0M1667.3 499.9h0M1651.0 514.5h0M1665.5 485.5h0M1679.0 488.8h0M1687.4 505.5h0M1659.7 487.7h0M1650.0 483.7h0M1657.5 512.3h0M1663.7 493.2h0M1667.0 490.1h0M1644.4 474.3h0M1680.4 490.5h0M1682.9 519.9h0M1665.1 504.7h0M1656.5 492.6h0M1662.5 494.3h0M1681.7 493.1h0M1673.5 496.0h0M1669.9 519.2h0M1640.5 510.2h0M1653.0 497.1h0M1656.8 488.0h0M1643.0 458.2h0M1690.4 506.2h0M1658.2 469.2h0M1670.6 515.9h0M1667.3 471.1h0M1654.3 498.0h0M1660.4 509.6h0M1648.2 485.7h0M1627.4 509.8h0M1670.1 488.4h0M1636.8 506.2h0M1641.9 476.8h0M1634.8 474.7h0M1648.3 479.3h0M1676.3 504.0h0M1662.2 486.3h0M1660.5 475.9h0M1666.6 481.2h0M1654.1 498.8h0M1649.0 474.9h0M1675.2 470.2h0M1643.4 477.9h0M1651.0 492.1h0M1616.5 487.1h0M1680.5 510.5h0M1673.2 492.9h0M1664.0 486.3h0M1637.8 499.0h0M1675.9 498.1h0M1660.6 506.0h0M1665.4 509.6h0M1655.1 469.0h0M1667.8 506.3h0M1650.2 497.3h0M1671.1 456.0h0M1695.1 504.8h0M1658.2 477.8h0M1639.0 540.6h0M1656.4 503.7h0M1651.8 489.5h0M1670.2 480.8h0M1659.9 491.1h0M1667.7 506.0h0M1747.7 517.5h0M1743.5 492.6h0M1751.4 494.4h0M1761.1 458.0h0M1725.4 467.5h0M1769.9 509.5h0M1740.4 503.4h0M1725.4 493.7h0M1771.0 507.1h0M1780.2 491.1h0M1766.4 499.5h0M1754.7 501.7h0M1761.1 516.7h0M1751.2 503.4h0M1748.9 502.1h0M1739.0 512.2h0M1760.2 502.7h0M1750.2 488.8h0M1737.1 482.6h0M1739.3 511.1h0M1756.4 478.2h0M1736.8 517.0h0M1773.9 510.1h0M1780.2 488.7h0M1756.7 489.4h0M1781.8 504.6h0M1756.6 503.8h0M1741.2 497.8h0M1718.8 492.4h0M1736.8 509.8h0M1769.7 502.6h0M1736.6 483.4h0M1761.4 495.1h0M1747.4 483.7h0M1754.5 501.8h0M1762.4 485.8h0M1750.7 479.1h0M1754.4 499.1h0M1746.0 511.6h0M1733.4 520.9h0M1757.0 507.2h0M1755.2 489.2h0M1743.4 512.5h0M1751.1 503.6h0M1746.4 511.0h0M1760.5 481.0h0M1778.8 513.8h0M1763.0 503.8h0M1750.6 511.2h0M1787.6 497.9h0M1736.0 498.8h0M1752.4 512.6h0M1734.2 493.0h0M1746.9 512.8h0M1766.9 501.9h0M1766.3 500.6h0M1752.7 467.1h0M1738.7 483.3h0M1757.5 500.0h0M1736.0 499.5h0M1749.3 504.2h0M1743.2 488.7h0M1768.0 495.0h0M1765.1 486.3h0M1747.7 494.1h0M1737.3 508.6h0M1732.0 501.9h0M1721.0 508.2h0M1751.3 514.2h0M1778.8 489.0h0M1750.9 480.6h0M1744.3 499.3h0M1751.2 509.4h0M1757.6 512.0h0M1741.2 500.5h0M1736.2 496.0h0M1712.7 496.9h0M1751.3 491.9h0M1744.9 474.7h0M1741.5 490.0h0M1753.5 504.6h0M1744.3 496.3h0M1755.4 485.9h0M1764.5 526.5h0M1755.7 491.6h0M1753.5 514.4h0M1768.0 479.7h0M1754.9 488.2h0M1744.3 502.0h0M1757.8 494.4h0M1738.7 495.5h0M1736.2 522.3h0M1728.9 506.5h0M1751.9 498.3h0M1736.0 491.4h0M1745.7 490.7h0M1747.0 499.7h0M1744.2 504.2h0M1760.4 490.7h0M1760.4 498.9h0M1742.6 504.5h0M1765.6 493.7h0M1725.1 508.7h0M1764.0 482.7h0M1748.4 504.4h0M1717.6 508.7h0M1760.1 509.1h0M1770.7 483.5h0M1763.2 529.2h0M1719.1 492.8h0M1759.7 487.9h0M1724.8 502.1h0M1752.3 487.8h0M1753.3 510.4h0M1763.8 503.5h0M1732.9 493.5h0M1718.5 483.0h0M1752.1 505.2h0M1749.5 497.4h0M1722.8 479.9h0M1733.9 489.4h0M1741.5 527.7h0M1763.6 483.4h0M1740.5 489.9h0M1741.6 490.2h0M1721.4 513.6h0M1759.0 506.3h0M1751.1 503.8h0M1744.6 470.1h0M1751.3 497.7h0M1731.3 466.3h0M1765.3 483.2h0M1746.7 487.7h0M1772.8 476.7h0M1764.1 462.3h0M1762.2 490.4h0M1718.3 498.1h0M1748.4 474.9h0M1754.4 496.8h0M1756.1 477.8h0M1739.0 483.8h0M1751.1 489.9h0M1735.5 516.3h0M1742.0 512.4h0M1761.0 487.2h0M1723.9 500.0h0M1758.8 513.5h0M1754.8 503.3h0M1740.7 487.2h0M1794.0 513.1h0M1731.0 501.5h0M1755.8 472.4h0M1745.5 505.1h0M1772.6 519.8h0M1744.6 492.9h0M1743.1 500.5h0M1761.5 482.9h0M1747.1 489.2h0M1738.8 490.2h0M1775.0 521.6h0M1770.0 474.3h0M1753.9 530.8h0M1755.4 487.5h0M1757.9 493.8h0M1744.0 501.0h0M1756.3 495.0h0M1749.4 483.2h0M1749.0 507.4h0M1750.9 495.0h0M1729.5 513.1h0M1733.4 506.9h0M1744.6 508.6h0M1764.2 493.1h0M1707.4 468.9h0M1736.1 484.6h0M1753.7 525.1h0M1758.9 495.6h0M1768.5 494.8h0M1761.7 502.7h0M1722.8 511.0h0M1774.3 492.7h0M1760.4 504.7h0M1746.0 492.3h0M1763.7 488.6h0M1742.3 509.4h0M1762.7 519.4h0M1741.7 479.0h0M1765.0 476.2h0M1744.1 494.6h0M1773.8 498.0h0M1733.0 497.3h0M1768.4 472.5h0M1731.5 511.9h0M1751.5 483.5h0M1747.0 498.7h0M1733.9 489.7h0M1770.1 502.1h0M1765.4 497.2h0M1742.1 501.9h0M1737.1 502.8h0M1745.6 493.6h0M1746.1 484.5h0M1768.9 476.7h0M1752.9 480.1h0M1762.4 494.6h0M1752.4 504.2h0M1754.9 500.2h0M1755.0 502.5h0M1743.5 493.6h0M1746.5 487.7h0M1742.4 516.0h0M1729.9 521.1h0M1742.6 506.3h0M1749.9 495.2h0M1757.6 521.2h0M1748.3 497.2h0M1742.4 525.8h0M1766.1 513.2h0M1750.4 471.5h0M1756.6 473.0h0M1741.2 511.1h0M1741.9 488.2h0M1720.5 507.6h0M1755.6 491.0h0M1754.9 475.4h0M1737.0 500.4h0M1762.1 497.3h0M1732.9 490.9h0M1765.3 489.4h0M1753.4 503.7h0M1742.3 498.0h0M1725.1 489.7h0M1750.3 506.4h0M1767.8 491.1h0M1756.4 495.9h0M1739.0 486.9h0M1749.0 497.7h0M1739.5 535.5h0M1749.4 506.8h0M1746.1 536.1h0M1719.0 492.7h0M1752.4 514.0h0M1749.0 483.9h0M1771.4 506.7h0M1746.2 494.1h0M1746.3 499.7h0M1726.2 499.4h0M1741.4 504.2h0M1754.3 483.0h0M1768.3 507.9h0M1737.3 483.0h0M1740.3 502.3h0M1767.1 485.1h0M1739.0 504.6h0M1749.0 496.7h0M1748.0 493.0h0M1773.7 510.9h0M1745.1 514.7h0M1775.6 503.9h0M1753.9 490.7h0M1751.3 500.5h0M1767.6 484.5h0M1727.3 490.5h0M1754.7 469.9h0M1746.9 486.3h0M1734.2 499.3h0M1765.6 478.7h0M1752.7 495.1h0M1758.5 497.5h0M1740.9 509.6h0M1755.5 483.3h0M1722.1 487.6h0M1752.3 507.9h0M1741.7 492.0h0M1724.6 491.0h0M1751.0 489.2h0M1748.0 483.8h0M1737.0 501.0h0M1728.1 497.4h0M1765.7 489.4h0M1742.6 485.7h0M1731.5 489.2h0M1731.9 494.0h0M1741.7 481.5h0M1749.6 510.6h0M1760.0 493.1h0M1748.8 482.5h0M1745.7 505.8h0M1759.4 515.2h0M1728.3 518.1h0M1754.2 518.0h0M1749.0 513.5h0M1748.6 482.2h0M1753.2 489.8h0M1748.4 503.8h0M1759.5 505.6h0M1762.1 475.5h0M1764.7 485.3h0M1750.1 491.1h0M1733.1 508.7h0M1735.0 489.1h0M1768.8 465.9h0M1725.8 509.7h0M1743.2 507.4h0M1748.7 490.1h0M1758.4 487.1h0M1741.3 499.8h0M1733.9 477.0h0M1726.2 509.5h0M1775.2 512.9h0M1740.2 489.6h0M1735.3 496.7h0M1763.1 495.7h0M1748.6 452.5h0M1753.1 480.3h0M1745.5 501.7h0M1750.6 506.9h0M1770.0 465.6h0M1727.7 519.5h0M1755.7 487.0h0M1745.5 497.1h0M1763.6 492.5h0M1749.1 478.6h0M1769.4 503.3h0M1742.8 478.6h0M1749.0 509.2h0M1781.0 523.5h0M1744.2 491.4h0M1736.0 503.6h0M1739.0 505.2h0M1753.9 503.1h0M1736.1 513.2h0M1746.8 480.6h0M1749.0 499.8h0M1750.4 510.4h0M1766.2 528.9h0M1748.3 514.2h0M1713.9 523.4h0M1749.4 515.1h0M1746.5 505.0h0M1758.4 489.1h0M1741.8 457.6h0M1757.5 495.4h0M1746.6 514.5h0M1754.6 500.8h0M1723.6 499.8h0M1745.7 511.2h0M1742.9 480.7h0M1746.6 523.2h0M1737.8 515.4h0M1747.5 469.5h0M1758.4 530.2h0M1756.1 482.8h0M1746.8 485.4h0M1789.6 505.3h0M1717.0 509.1h0M1756.1 483.4h0M1741.4 496.6h0M1773.7 490.3h0M1739.3 510.9h0M1741.0 483.2h0M1747.9 509.1h0M1751.9 492.4h0M1769.8 516.9h0M1727.6 481.6h0M1737.0 494.6h0M1752.2 496.5h0M1750.8 503.9h0M1732.0 467.3h0M1753.9 514.9h0M1752.5 491.9h0M1757.6 493.2h0M1731.8 492.4h0M1760.5 502.2h0M1759.4 490.8h0M1757.6 517.5h0M1745.4 490.9h0M1767.0 499.2h0M1733.8 492.0h0M1768.2 502.8h0M1775.8 506.6h0M1753.6 512.4h0M1741.6 512.6h0M1748.9 494.4h0M1755.6 491.5h0M1734.5 485.5h0M1757.3 502.0h0M1751.3 507.9h0M1737.8 492.3h0M1772.6 484.8h0M1767.8 494.3h0M1757.4 501.3h0M1746.7 499.5h0M1763.4 488.4h0M1737.1 509.9h0M1744.8 495.7h0M1747.6 492.2h0M1725.4 496.7h0M1743.9 479.5h0M1742.5 501.3h0M1774.0 490.6h0M1768.6 491.8h0M1756.6 494.5h0M1760.5 500.0h0M1744.9 476.9h0M1763.8 477.4h0M1741.9 522.4h0M1753.6 499.2h0M1752.0 501.4h0M1745.6 502.8h0M1748.1 493.5h0M1756.7 506.8h0M1755.1 511.1h0M1776.0 521.7h0M1751.8 483.2h0M1766.1 499.8h0M1761.0 493.4h0M1762.2 483.0h0M1752.8 479.8h0M1778.1 494.8h0M1721.9 515.8h0M1763.9 517.2h0M1735.2 503.6h0M1768.6 496.0h0M1756.0 495.6h0M1746.5 517.3h0M1740.2 499.0h0M1758.6 499.1h0M1762.2 471.6h0M1766.3 482.4h0M1747.9 493.9h0M1757.2 496.1h0M1745.0 508.0h0M1778.9 490.3h0M1741.8 490.6h0M1734.2 482.0h0M1744.3 508.2h0M1743.8 487.3h0M1749.2 487.7h0M1787.5 519.4h0M1751.1 475.5h0M1743.0 486.1h0M1738.7 468.9h0M1743.5 490.3h0M1741.4 480.9h0M1755.5 486.7h0M1719.9 484.3h0M1761.3 514.5h0M1735.1 496.0h0M1757.9 510.6h0M1744.1 502.1h0M1744.5 473.7h0M1762.8 497.2h0M1756.0 495.3h0M1738.4 491.5h0M1754.8 480.9h0M1771.1 528.9h0M1719.5 510.5h0M1744.4 506.4h0M1752.8 495.6h0M1762.5 499.4h0M1770.4 502.6h0M1730.9 495.9h0M1750.4 490.5h0M1733.8 524.7h0M1749.4 497.8h0M1728.5 505.8h0M1748.9 513.1h0M1773.3 489.6h0M1740.7 514.0h0M1765.1 502.5h0M1760.3 494.1h0M1750.2 498.3h0M1721.7 508.3h0M1761.1 485.9h0M1743.2 502.4h0M1760.3 498.5h0M1744.4 504.0h0M1752.2 484.9h0M1746.2 493.3h0M1759.5 480.6h0M1739.7 493.1h0M1750.9 530.3h0M1748.2 512.5h0M1761.0 515.7h0M1773.8 506.1h0M1737.5 493.5h0M1770.7 527.3h0M1767.8 530.7h0M1759.8 487.1h0M1751.9 502.3h0M1763.0 509.9h0M1738.7 514.3h0M1743.0 502.1h0M1759.4 507.8h0M1757.6 491.0h0M1748.8 511.0h0M1744.3 482.5h0M1716.2 498.5h0M1738.3 498.3h0M1736.1 492.3h0M1745.4 511.1h0M1738.6 482.1h0M1751.9 509.4h0M1738.1 505.1h0M1750.6 505.0h0M1725.2 499.4h0M1746.9 501.0h0M1741.1 496.5h0M1720.8 497.9h0M1768.8 500.8h0M1751.3 502.8h0M1769.5 488.9h0M1730.4 483.0h0M1741.2 499.4h0M1761.5 488.1h0M1736.5 510.2h0M1764.8 487.6h0M1760.6 495.5h0M1743.6 496.3h0M1738.5 474.8h0M1730.9 487.7h0M1754.2 503.3h0M1761.8 487.2h0M1749.7 478.2h0M1736.7 511.9h0M1748.2 523.6h0M1759.4 491.4h0M1740.6 469.6h0M1768.0 511.4h0M1799.2 526.2h0M1754.6 483.6h0M1725.9 492.6h0M1749.7 477.8h0M1759.6 511.2h0M1736.6 494.4h0M1730.8 511.7h0M1737.8 482.3h0M1723.1 483.8h0M1726.2 512.4h0M1758.7 480.9h0M1737.8 496.8h0M1751.5 483.2h0M1768.6 506.5h0M1777.8 459.5h0M1728.2 507.7h0M1753.1 493.9h0M1734.1 504.8h0M1742.9 516.6h0M1765.3 510.5h0M1724.5 502.3h0M1774.3 523.3h0M1767.3 513.6h0M1739.5 518.2h0M1776.1 503.8h0M1757.2 495.9h0M1752.7 493.7h0M1756.7 495.5h0M1729.0 489.3h0M1755.8 500.8h0M1770.3 511.3h0M1768.1 497.2h0M1765.0 488.1h0M1740.8 510.3h0M1753.5 486.9h0M1763.3 518.1h0M1760.8 516.1h0M1763.0 510.7h0M1739.0 472.0h0M1745.4 452.9h0M1742.4 482.4h0M1751.7 488.0h0M1750.0 485.4h0M1746.5 518.6h0M1735.7 473.6h0M1769.6 508.5h0M1749.5 492.2h0M1754.3 492.7h0M1763.4 493.6h0M1741.3 505.5h0M1738.8 505.5h0M1733.6 490.3h0M1752.5 488.0h0M1763.6 496.5h0M1752.9 470.5h0M1757.8 499.0h0M1722.5 501.2h0M1754.6 487.9h0M1734.8 478.2h0M1750.3 498.2h0M1747.0 525.8h0M1749.6 499.9h0M1727.9 502.0h0M1762.8 485.4h0M1779.0 489.9h0M1751.9 492.5h0M1744.5 457.8h0M1761.8 467.3h0M1767.1 482.3h0M1742.6 532.5h0M1736.4 494.6h0M1732.5 495.1h0M1755.5 519.4h0M1713.6 496.6h0M1758.1 510.1h0M1739.1 498.8h0M1775.8 502.8h0M1779.2 481.0h0M1740.0 498.2h0M1735.7 506.7h0M1734.4 502.4h0M1729.0 485.9h0M1753.4 506.0h0M1736.6 476.8h0M1757.6 483.8h0M1755.4 515.7h0M1758.9 476.6h0M1767.1 513.3h0M1741.7 491.9h0M1769.8 502.2h0M1755.9 513.0h0M1757.5 537.0h0M1769.4 500.1h0M1751.8 493.9h0M1767.1 481.5h0M1762.5 489.8h0M1724.6 511.7h0M1756.2 502.0h0M1745.9 497.8h0M1741.5 516.7h0M1769.3 497.5h0M1750.5 502.2h0M1763.0 501.4h0M1744.1 495.0h0M1754.3 496.2h0M1745.1 515.4h0M1756.3 511.0h0M1738.2 509.9h0M1750.9 494.8h0M1741.1 489.5h0M1744.0 500.0h0M1749.4 526.3h0M1757.3 501.8h0M1749.4 487.4h0M1739.4 503.4h0M1729.5 520.9h0M1772.4 477.9h0M1767.5 513.8h0M1766.4 507.9h0M1773.5 487.3h0M1744.3 506.9h0M1751.4 478.7h0M1762.1 512.8h0M1747.8 503.8h0M1764.0 469.3h0M1743.0 486.4h0M1748.7 481.3h0M1733.1 501.5h0M1776.1 481.4h0M1773.0 511.8h0M1764.7 516.8h0M1744.9 514.2h0M1729.8 487.5h0M1755.4 509.3h0M1731.7 472.2h0M1756.5 502.6h0M1760.4 497.5h0M1732.7 514.3h0M1761.6 501.0h0M1781.0 501.9h0M1771.8 496.7h0M1710.5 482.5h0M1712.7 495.4h0M1767.1 474.9h0M1760.9 494.8h0M1763.4 503.8h0M1737.0 506.7h0M1750.3 511.1h0M1777.8 495.9h0M1773.6 497.3h0M1759.4 501.3h0M1741.6 500.5h0M1744.7 506.6h0M1736.3 485.4h0M1763.0 506.2h0M1758.8 506.6h0M1765.4 505.4h0M1763.7 488.0h0M1758.1 488.6h0M1733.8 495.7h0M1760.0 499.1h0M1775.7 508.2h0M1757.0 500.4h0M1732.4 499.6h0M1751.4 523.1h0M1740.1 497.1h0M1741.0 500.9h0M1727.1 503.0h0M1751.3 501.4h0M1787.5 497.7h0M1757.8 498.6h0M1766.1 529.9h0M1774.6 503.5h0M1733.4 504.9h0M1728.1 486.7h0M1742.9 483.4h0M1751.1 493.8h0M1740.7 504.0h0M1740.8 516.7h0M1759.8 492.8h0M1757.1 489.3h0M1742.2 513.0h0M1728.7 505.2h0M1777.7 467.8h0M1784.4 471.9h0M1719.6 469.3h0M1734.6 490.4h0M1724.2 495.8h0M1762.1 487.7h0M1752.4 507.2h0M1775.0 497.3h0M1760.8 505.7h0M1751.5 493.8h0M1755.8 508.2h0M1732.2 493.3h0M1755.5 502.7h0M1755.4 521.5h0M1765.5 480.9h0M1772.9 488.6h0M1739.0 513.7h0M1746.1 474.7h0M1759.4 504.8h0M1758.2 478.7h0M1762.0 489.7h0M1763.3 480.9h0M1737.1 470.7h0M1739.6 513.4h0M1753.9 490.4h0M1769.9 501.3h0M1761.4 503.1h0M1749.1 500.3h0M1756.7 514.3h0M1759.1 510.8h0M1734.9 471.8h0M1755.0 500.5h0M1756.7 484.1h0M1752.5 483.3h0M1751.7 497.2h0M1748.0 502.6h0M1743.4 498.0h0M1760.3 519.6h0M1756.2 509.8h0M1758.7 521.8h0M1780.0 489.3h0M1760.2 502.5h0M1772.8 463.8h0M1741.4 473.8h0M1769.9 502.2h0M1759.9 504.1h0M1754.5 504.1h0M1744.6 469.5h0M1755.1 497.4h0M1742.5 489.7h0M1768.9 487.8h0M1735.6 507.6h0M1771.1 480.0h0M1736.5 483.4h0M1755.8 506.1h0M1770.3 497.5h0M1746.9 489.7h0M1766.3 489.8h0M1738.7 495.0h0M1750.0 503.8h0M1741.5 522.8h0M1777.4 482.3h0M1752.4 484.0h0M1746.4 480.8h0M1746.4 502.0h0M1752.7 479.2h0M1722.1 472.1h0M1767.5 495.6h0M1751.3 518.6h0M1736.2 504.0h0M1740.8 500.8h0M1723.8 492.4h0M1749.3 499.6h0M1730.1 494.6h0M1762.8 496.8h0M1762.4 507.4h0M1753.7 492.9h0M1751.4 484.9h0M1759.7 502.7h0M1767.1 529.9h0M1762.2 506.1h0M1753.0 510.1h0M1769.8 494.1h0M1732.4 478.9h0M1764.4 504.7h0M1757.9 474.4h0M1742.4 476.1h0M1734.2 490.1h0M1740.6 520.5h0M1732.4 489.3h0M1739.7 499.1h0M1760.6 486.7h0M1726.7 492.0h0M1755.9 482.7h0M1764.0 483.7h0M1741.2 491.7h0M1777.3 509.1h0M1755.3 483.8h0M1734.5 488.2h0M1772.9 516.5h0M1752.3 488.1h0M1725.4 491.6h0M1757.6 505.9h0M1755.8 488.1h0M1757.5 495.8h0M1762.7 501.6h0M1761.2 502.8h0M1743.6 514.7h0M1735.6 507.5h0M1744.0 492.9h0M1754.1 490.7h0M1735.9 485.0h0M1734.4 498.5h0M1754.7 496.9h0M1728.4 500.0h0M1763.6 482.0h0M1737.6 511.0h0M1747.9 513.3h0M1745.6 477.9h0M1749.7 497.3h0M1754.4 486.1h0M1743.8 526.7h0M1742.5 520.4h0M1734.5 501.3h0M1755.5 510.3h0M1750.2 489.0h0M1751.8 477.3h0M1715.3 476.4h0M1772.3 509.8h0M1776.2 505.0h0M1729.7 484.2h0M1754.7 486.4h0M1737.0 482.9h0M1739.6 471.3h0M1756.2 488.0h0M1768.0 521.3h0M1749.3 512.7h0M1765.7 501.0h0M1747.8 516.0h0M1759.5 495.5h0M1743.3 498.1h0M1763.4 507.7h0M1742.0 496.0h0M1752.6 492.4h0M1749.1 484.4h0M1739.0 502.1h0M1753.6 493.8h0M1780.5 495.7h0M1760.1 502.0h0M1743.7 507.6h0M1765.6 498.3h0M1757.3 537.6h0M1738.1 495.3h0M1758.3 498.2h0M1739.0 491.5h0M1747.2 494.4h0M1751.1 520.2h0M1753.5 493.0h0M1760.0 507.2h0M1735.6 489.8h0M1735.3 502.8h0M1762.4 495.2h0M1767.6 490.3h0M1746.0 497.3h0M1753.0 521.2h0M1735.1 506.0h0M1751.6 514.6h0M1732.0 482.3h0M1774.1 515.7h0M1765.4 496.6h0M1765.2 498.5h0M1735.5 496.4h0M1746.8 484.0h0M1742.6 488.7h0M1757.7 511.7h0M1765.9 513.4h0M1735.7 506.2h0M1761.7 504.0h0M1737.5 458.1h0M1752.6 486.8h0M1762.8 477.9h0M1758.0 492.3h0M1732.1 492.0h0M1748.3 509.7h0M1761.5 515.3h0M1760.9 491.9h0M1744.4 500.4h0M1745.6 475.4h0M1722.0 508.7h0M1752.0 525.4h0M1743.3 512.6h0M1752.4 504.9h0M1751.3 513.4h0M1757.5 491.7h0M1748.9 495.0h0M1751.5 501.3h0M1744.5 490.2h0M1750.2 473.7h0M1756.0 503.3h0M1707.5 483.0h0M1750.1 467.1h0M1756.4 511.8h0M1756.9 511.2h0M1748.9 509.9h0M1760.0 496.4h0M1751.5 475.1h0M1731.6 512.0h0M1764.6 486.8h0M1729.1 470.7h0M1766.2 502.8h0M1776.7 515.6h0M1778.3 509.6h0M1742.5 493.4h0M1765.6 478.3h0M1758.1 492.3h0M1768.0 490.3h0M1740.1 511.3h0M1705.7 512.8h0M1754.3 489.7h0M1759.4 491.3h0M1758.9 499.3h0M1760.7 484.8h0M1740.9 523.5h0M1754.5 495.5h0M1737.6 490.8h0M1753.4 481.2h0M1749.6 494.4h0M1723.0 498.1h0M1767.1 491.9h0M1747.2 501.5h0M1741.8 473.8h0M1750.5 491.8h0M1741.2 517.1h0M1751.7 487.6h0M1740.6 520.0h0M1761.3 473.3h0M1758.5 491.0h0M1742.0 513.5h0M1760.0 486.2h0M1749.9 506.8h0M1748.5 503.7h0M1740.5 515.8h0M1770.3 488.8h0M1730.5 491.4h0M1762.1 500.8h0M1749.4 500.5h0M1729.7 497.3h0M1748.7 489.2h0M1761.1 488.9h0M1741.3 507.6h0M1758.9 498.9h0M1753.4 503.4h0M1754.8 484.4h0M1761.7 525.9h0M1755.5 494.3h0M1766.4 506.7h0M1739.8 496.6h0M1742.2 512.2h0M1732.0 515.4h0M1740.8 502.1h0M1744.1 503.3h0M1766.3 506.7h0M1733.3 494.4h0M1752.1 524.1h0M1743.1 492.4h0M1739.5 497.3h0M1759.3 484.3h0M1769.7 515.5h0M1761.4 506.7h0M1784.1 483.3h0M1742.6 527.9h0M1733.2 502.4h0M1747.8 485.0h0M1737.0 495.0h0M1754.0 504.8h0M1758.4 499.0h0M1750.6 506.5h0M1741.4 479.6h0M1761.8 469.1h0M1757.9 515.7h0M1732.8 467.0h0M1738.3 502.2h0M1736.7 512.3h0M1759.1 484.2h0M1760.8 478.0h0M1743.9 501.1h0M1768.6 509.0h0M1771.0 477.8h0M1794.8 485.7h0M1754.0 519.7h0M1757.3 514.8h0M1733.1 482.3h0M1744.0 490.1h0M1751.7 493.4h0M1733.9 501.0h0M1730.6 488.2h0M1754.6 485.4h0M1749.9 507.0h0M1770.8 514.7h0M1762.5 504.9h0M1732.6 486.0h0M1737.9 490.3h0M1748.2 484.6h0M1744.0 513.4h0M1743.9 470.8h0M1746.1 495.8h0M1745.0 527.7h0M1763.0 521.5h0M1741.5 508.4h0M1753.5 496.6h0M1738.4 500.8h0M1723.0 511.2h0M1788.8 518.5h0M1720.8 500.4h0M1739.5 489.2h0M1746.2 514.1h0M1760.1 486.0h0M1757.7 499.9h0M1778.3 477.3h0M1748.3 484.5h0M1749.4 469.5h0M1736.9 496.1h0M1741.5 485.3h0M1748.1 489.8h0M1736.9 494.2h0M1750.1 502.1h0M1725.7 491.9h0M1766.1 477.5h0M1751.5 490.7h0M1764.8 514.5h0M1753.4 490.6h0M1727.8 490.2h0M1738.1 498.1h0M1771.2 523.9h0M1754.0 499.3h0M1748.0 501.7h0M1747.0 521.8h0M1739.4 499.2h0M1741.3 510.7h0M1774.7 506.8h0M1752.6 498.4h0M1757.9 491.3h0M1772.7 522.1h0M1763.9 509.1h0M1744.5 523.0h0M1731.1 488.0h0M1779.3 492.3h0M1739.0 475.3h0M1764.5 514.4h0M1753.2 475.7h0M1749.1 487.3h0M1762.7 518.3h0M1756.4 504.0h0M1771.6 521.5h0M1734.1 504.4h0M1734.4 487.8h0M1766.2 483.1h0M1748.3 515.4h0M1756.9 475.9h0M1749.2 495.3h0M1738.3 526.4h0M1751.5 499.2h0M1764.8 500.8h0M1732.7 498.7h0M1756.6 500.9h0M1765.3 510.6h0M1758.0 496.5h0M1751.5 525.2h0M1728.5 514.2h0M1757.2 489.4h0M1750.9 507.2h0M1732.0 501.2h0M1759.0 486.8h0M1753.0 518.0h0M1753.9 487.3h0M1729.5 474.9h0M1764.6 496.3h0M1749.9 496.1h0M1741.2 522.9h0M1760.7 519.2h0M1734.9 507.2h0M1760.2 483.6h0M1739.4 487.9h0M1765.1 502.1h0M1741.5 508.5h0M1742.2 500.7h0M1750.2 487.4h0M1764.1 499.7h0M1720.2 496.5h0M1771.6 468.6h0M1763.6 502.1h0M1734.6 498.7h0M1735.8 478.2h0M1756.5 502.8h0M1726.7 491.7h0M1751.6 477.6h0M1765.9 488.9h0M1756.6 507.8h0M1738.4 503.7h0M1752.8 504.5h0M1745.3 512.2h0M1760.9 519.9h0M1765.7 480.6h0M1743.5 504.8h0M1764.7 489.5h0M1751.4 503.2h0M1749.7 512.6h0M1737.7 505.9h0M1740.4 504.8h0M1738.6 495.1h0M1763.8 486.0h0M1752.2 507.7h0M1749.7 495.3h0M1751.3 487.0h0M1761.4 508.8h0M1774.7 502.8h0M1765.9 492.2h0M1757.7 486.6h0M1754.5 494.7h0M1764.1 471.5h0M1748.9 494.9h0M1760.2 489.3h0M1745.5 516.0h0M1742.7 493.8h0M1766.6 470.6h0M1756.6 503.6h0M1754.7 475.0h0M1732.1 487.8h0M1739.7 508.0h0M1745.2 518.1h0M1750.8 507.2h0M1742.3 491.0h0M1757.0 510.8h0M1742.3 516.3h0M1748.0 520.1h0M1734.6 494.3h0M1759.9 498.1h0M1743.5 507.7h0M1763.9 493.6h0M1761.5 493.2h0M1740.6 516.3h0M1743.6 492.4h0M1761.5 485.8h0M1738.5 495.5h0M1752.4 511.5h0M1748.7 490.3h0M1733.9 494.7h0M1745.0 513.8h0M1729.5 475.1h0M1726.1 495.7h0M1757.0 520.6h0M1729.3 501.0h0M1742.8 520.6h0M1755.7 519.3h0M1750.7 513.2h0M1755.9 490.3h0M1763.7 494.7h0M1720.7 497.4h0M1734.5 505.9h0M1771.7 502.8h0M1758.5 482.2h0M1740.3 490.9h0M1777.4 493.1h0M1754.7 474.0h0M1744.1 500.4h0M1749.1 494.8h0M1756.8 505.3h0M1734.6 480.7h0M1758.4 509.6h0M1732.5 507.8h0M1732.0 496.4h0M1768.1 476.6h0M1750.8 495.7h0M1735.5 509.0h0M1738.1 489.6h0M1735.8 504.5h0M1758.3 517.0h0M1747.5 487.3h0M1771.0 490.1h0M1759.9 520.5h0M1761.5 473.8h0M1736.5 487.8h0M1762.0 487.8h0M1761.1 501.4h0M1752.8 498.1h0M1740.3 517.0h0M1752.2 518.8h0M1738.1 475.2h0M1769.6 482.4h0M1752.0 493.1h0M1748.3 493.7h0M1735.4 481.8h0M1753.2 488.4h0M1773.8 499.2h0M1769.3 491.6h0M1761.1 489.9h0M1737.4 494.7h0M1747.5 533.4h0M1732.0 489.0h0M1759.9 495.7h0M1752.1 508.5h0M1748.2 488.1h0M1731.5 496.9h0M1757.5 500.7h0M1766.1 492.2h0M1753.9 486.4h0M1723.7 505.7h0M1743.6 506.6h0M1741.6 476.7h0M1737.6 493.7h0M1740.5 493.9h0M1757.5 497.5h0M1756.3 495.6h0M1740.5 484.3h0M1719.8 505.7h0M1764.9 484.1h0M1736.8 485.9h0M1754.4 498.9h0M1746.6 496.9h0M1727.0 495.8h0M1747.2 504.2h0M1740.0 490.3h0M1752.7 534.2h0M1741.5 525.4h0M1737.2 498.4h0M1737.1 516.3h0M1751.7 500.4h0M1763.9 515.5h0M1740.9 501.1h0M1743.2 513.6h0M1721.2 527.6h0M1746.8 469.4h0M1753.8 486.3h0M1750.4 499.5h0M1764.6 472.8h0M1755.4 513.6h0M1732.2 508.0h0M1761.1 490.4h0M1723.8 499.9h0M1743.5 519.2h0M1746.8 507.5h0M1754.8 500.5h0M1733.1 487.9h0M1751.5 496.7h0M1748.6 508.4h0M1750.7 507.6h0M1751.3 503.0h0M1742.9 477.3h0M1761.6 509.7h0M1758.9 486.8h0M1765.1 499.2h0M1752.4 488.7h0M1743.3 489.2h0M1755.1 488.5h0M1749.7 490.4h0M1732.5 498.6h0M1751.8 498.9h0M1709.7 512.0h0M1749.9 484.8h0M1776.1 498.2h0M1760.1 499.6h0M1718.4 514.2h0M1734.5 512.6h0M1748.3 486.1h0M1716.6 491.4h0M1736.3 498.3h0M1735.0 507.6h0M1742.7 491.7h0M1777.1 508.5h0M1741.2 502.8h0M1728.0 487.6h0M1747.6 487.6h0M1736.3 506.5h0M1741.7 486.7h0M1741.8 488.8h0M1760.7 501.7h0M1729.5 515.9h0M1764.6 493.9h0M1736.5 498.0h0M1742.1 504.7h0M1749.4 514.9h0M1727.9 489.3h0M1753.7 491.0h0M1744.2 482.0h0M1775.8 495.2h0M1759.3 487.1h0M1743.6 496.7h0M1772.1 516.2h0M1778.0 518.3h0M1770.0 494.8h0M1740.5 515.4h0M1740.2 504.9h0M1741.6 483.5h0M1750.7 485.6h0M1745.7 509.5h0M1747.3 511.2h0M1743.8 502.4h0M1736.2 515.5h0M1722.3 501.5h0M1757.4 462.5h0M1727.7 477.1h0M1748.7 494.1h0M1745.3 505.9h0M1780.6 483.9h0M1754.7 498.2h0M1764.5 468.9h0M1728.0 483.1h0M1735.2 500.9h0M1743.4 470.4h0M1739.7 475.7h0M1739.5 494.9h0M1739.1 514.0h0M1780.2 504.3h0M1728.9 516.8h0M1778.0 495.0h0M1754.8 512.4h0M1752.4 514.5h0M1757.2 489.3h0M1743.1 494.1h0M1740.5 515.2h0M1754.1 494.9h0M1760.6 498.6h0M1763.8 519.4h0M1752.0 489.6h0M1733.8 521.4h0M1754.9 489.4h0M1748.4 482.2h0M1767.8 501.6h0M1744.8 477.6h0M1778.2 499.1h0M1719.7 489.7h0M1749.3 499.5h0M1735.0 513.0h0M1757.6 498.1h0M1740.8 473.5h0M1743.5 494.7h0M1733.7 501.4h0M1760.4 491.1h0M1744.2 497.2h0M1772.1 516.7h0M1727.2 490.8h0M1784.1 493.0h0M1773.3 504.3h0M1766.7 492.7h0M1750.9 504.9h0M1749.5 496.8h0M1769.0 495.3h0M1767.6 489.5h0M1745.5 507.4h0M1756.7 510.6h0M1750.3 497.2h0M1743.4 476.3h0M1744.2 511.6h0M1748.9 500.3h0M1766.6 485.2h0M1754.5 490.1h0M1765.0 477.9h0M1745.1 490.7h0M1745.3 490.1h0M1775.0 494.7h0M1747.8 478.2h0M1732.0 487.4h0M1733.5 504.5h0M1741.9 491.5h0M1747.9 485.4h0M1732.8 488.5h0M1752.5 496.1h0M1738.4 518.9h0M1754.8 506.6h0M1770.4 485.3h0M1762.7 501.0h0M1753.7 477.2h0M1739.0 497.7h0M1749.2 518.3h0M1744.8 500.9h0M1745.7 480.2h0M1745.2 499.0h0M1773.1 514.3h0M1742.7 485.7h0M1749.5 490.1h0M1782.8 509.0h0M1749.2 490.6h0M1735.6 496.5h0M1715.6 492.6h0M1743.9 518.1h0M1726.5 509.9h0M1745.5 508.2h0M1740.1 503.2h0M1761.2 531.9h0M1739.3 496.1h0M1748.6 490.0h0M1748.8 498.2h0M1745.5 474.9h0M1753.6 478.5h0M1748.9 511.3h0M1733.0 496.1h0M1752.7 497.2h0M1743.8 498.1h0M1759.1 484.4h0M1747.8 507.4h0M1742.1 481.9h0M1760.3 507.1h0M1762.8 497.7h0M1741.5 518.1h0M1766.7 508.6h0M1743.5 499.5h0M1738.4 484.0h0M1751.4 502.2h0M1757.6 499.3h0M1777.3 484.9h0M1767.6 492.6h0M1762.6 485.8h0M1779.4 517.1h0M1728.9 515.4h0M1752.7 510.2h0M1750.3 496.4h0M1732.0 491.9h0M1750.1 475.9h0M1737.3 498.3h0M1756.4 492.2h0M1769.1 491.4h0M1758.7 515.8h0M1740.1 513.7h0M1748.7 487.1h0M1772.0 520.2h0M1746.5 512.7h0M1763.8 498.2h0M1780.0 497.0h0M1742.0 499.0h0M1749.3 492.8h0M1747.0 480.8h0M1759.0 480.5h0M1765.6 507.9h0M1745.6 493.5h0M1742.1 498.7h0M1774.3 503.1h0M1745.2 522.1h0M1745.6 494.0h0M1779.6 507.7h0M1767.0 507.1h0M1758.2 507.9h0M1761.2 528.3h0M1735.4 467.0h0M1747.3 479.0h0M1753.1 482.9h0M1751.5 513.5h0M1744.2 488.9h0M1761.5 488.7h0M1749.9 496.9h0M1733.8 511.4h0M1736.4 510.8h0M1756.0 484.5h0M1746.3 510.2h0M1747.1 528.2h0M1737.7 514.7h0M1728.8 495.3h0M1764.3 473.1h0M1754.5 483.9h0M1733.1 488.8h0M1743.5 492.0h0M1742.8 487.0h0M1715.7 516.6h0M1779.1 504.7h0M1746.9 485.3h0M1754.5 502.3h0M1738.6 496.1h0M1760.7 502.5h0M1750.0 500.2h0M1740.9 497.7h0M1751.7 488.5h0M1749.1 510.7h0M1764.7 469.0h0M1731.4 511.9h0M1756.4 504.4h0M1731.9 499.4h0M1758.5 504.2h0M1740.9 490.7h0M1754.8 500.9h0M1768.1 468.0h0M1742.7 515.1h0M1735.2 499.9h0M1770.0 484.8h0M1755.1 524.3h0M1733.5 471.7h0M1764.9 491.9h0M1749.9 499.4h0M1767.3 494.5h0M1764.0 508.7h0M1750.5 512.6h0M1754.7 497.2h0M1791.4 471.4h0M1735.0 484.6h0M1744.9 500.7h0M1747.6 529.0h0M1743.6 483.7h0M1750.8 492.5h0M1743.9 510.8h0M1754.8 513.5h0M1736.1 506.5h0M1750.7 489.9h0M1729.2 497.2h0M1734.7 508.0h0M1756.6 504.7h0M1788.2 515.4h0M1723.1 506.3h0M1753.3 501.1h0M1743.7 510.7h0M1712.2 480.1h0M1758.7 500.7h0M1762.8 493.0h0M1743.1 508.8h0M1752.6 474.7h0M1763.2 483.4h0M1762.4 500.7h0M1758.2 512.0h0M1736.6 507.0h0M1749.5 494.7h0M1750.4 491.3h0M1750.9 501.5h0M1741.7 513.0h0M1751.6 483.2h0M1756.6 505.2h0M1730.9 502.1h0M1745.2 501.6h0M1748.0 503.4h0M1752.8 467.2h0M1751.4 505.6h0M1760.1 515.0h0M1754.9 516.0h0M1762.0 491.7h0M1740.9 515.5h0M1759.9 474.4h0M1736.0 513.9h0M1752.5 474.7h0M1756.3 511.6h0M1759.2 497.5h0M1747.7 490.9h0M1743.3 501.8h0M1784.6 533.4h0M1748.1 478.0h0M1749.1 494.3h0M1746.9 475.4h0M1749.4 489.3h0M1751.0 477.0h0M1750.8 481.6h0M1739.0 489.2h0M1742.8 490.7h0M1742.6 489.7h0M1740.7 490.2h0M1745.5 523.8h0M1762.8 489.9h0M1731.6 513.6h0M1750.1 502.9h0M1766.1 472.1h0M1742.0 500.6h0M1769.3 497.0h0M1751.4 497.6h0M1749.7 500.2h0M1742.5 488.4h0M1745.1 506.6h0M1766.2 499.9h0M1746.6 514.9h0M1757.9 508.2h0M1748.6 492.4h0M1757.0 496.0h0M1766.3 486.1h0M1754.8 498.4h0M1736.5 493.3h0M1736.1 493.3h0M1746.7 534.2h0M1736.2 506.9h0M1744.1 503.1h0M1745.7 487.2h0M1769.8 513.4h0M1726.6 496.2h0M1745.5 476.5h0M1752.6 505.0h0M1751.0 504.4h0M1774.4 492.0h0M1767.4 527.8h0M1710.9 495.1h0M1768.8 502.8h0M1742.1 517.6h0M1762.5 476.4h0M1761.6 495.8h0M1753.2 482.3h0M1757.8 500.5h0" stroke="#0B74C6" stroke-width="2.9" stroke-linecap="round" fill="none"/>
<circle cx="1603.2" cy="93.5" r="17.5" fill="#F50808" stroke="#4a2060" stroke-width="1.6"/><clipPath id="b1c2" clipPathUnits="userSpaceOnUse"><rect x="-60" y="-80" width="120" height="76.32"/><rect x="7.73" y="-4.38" width="4.55" height="8.38"/></clipPath><text transform="translate(1590.86 104.70) scale(1.2080 1)" font-family='"Liberation Sans", sans-serif' font-weight="bold" font-size="33.14" fill="#fff" clip-path="url(#b1c2)">1</text>
<circle cx="1601" cy="388.5" r="17.3" fill="#F50808" stroke="#4a2060" stroke-width="1.6"/><text transform="translate(1589.44 399.80) scale(1.1484 1)" font-family='"Liberation Sans", sans-serif' font-weight="bold" font-size="31.65" fill="#fff">2</text>
</svg></body></html>
